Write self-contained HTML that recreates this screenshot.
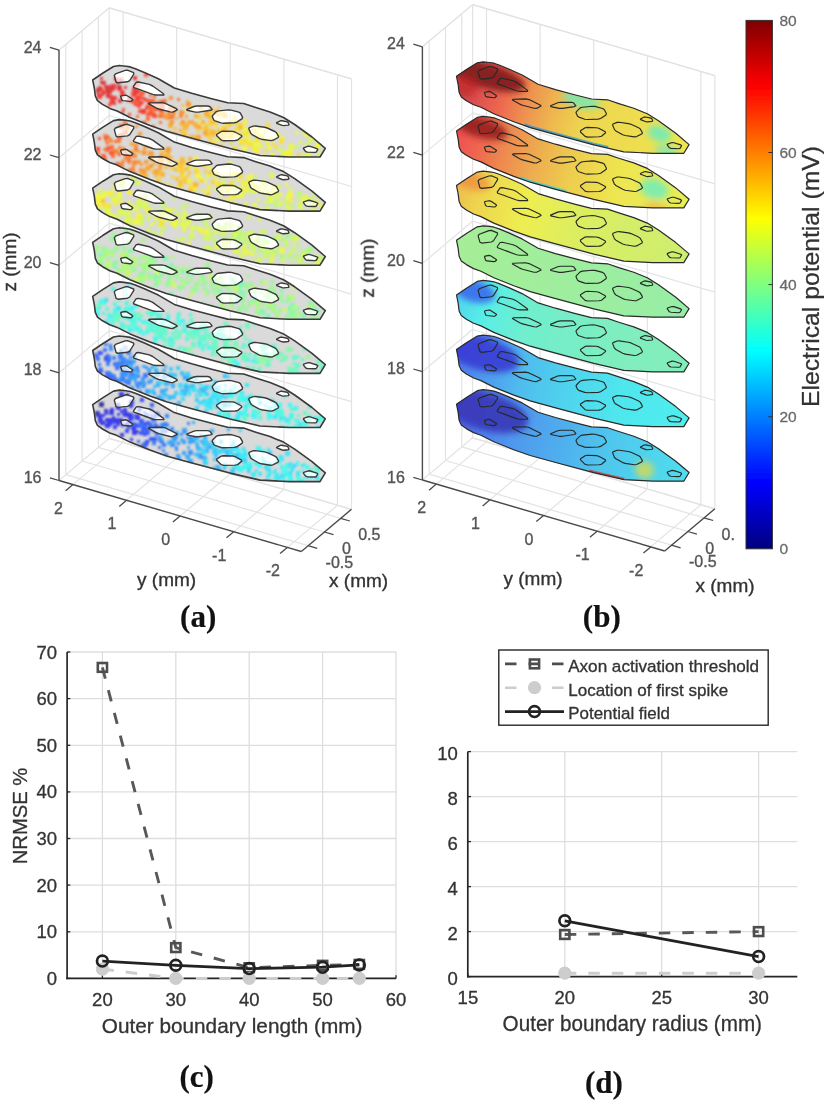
<!DOCTYPE html><html><head><meta charset="utf-8"><style>html,body{margin:0;padding:0;background:#fff;}svg{display:block}</style></head><body><svg width="825" height="1100" viewBox="0 0 825 1100">
<defs><filter id="blur3" x="-20%" y="-20%" width="140%" height="140%"><feGaussianBlur stdDeviation="3"/></filter><filter id="dotblur" x="-5%" y="-5%" width="110%" height="110%"><feGaussianBlur stdDeviation="0.8"/></filter><filter id="soft" x="-5%" y="-5%" width="110%" height="110%"><feGaussianBlur stdDeviation="0.5"/></filter></defs>
<rect width="825" height="1100" fill="#ffffff"/>
<g filter="url(#soft)">
<line x1="72.9" y1="484.6" x2="123.1" y2="442.4" stroke="#e3e3e3" stroke-width="1.2" />
<line x1="126.5" y1="500.3" x2="176.7" y2="458.1" stroke="#e3e3e3" stroke-width="1.2" />
<line x1="180.1" y1="516.0" x2="230.3" y2="473.8" stroke="#e3e3e3" stroke-width="1.2" />
<line x1="233.7" y1="531.7" x2="283.9" y2="489.5" stroke="#e3e3e3" stroke-width="1.2" />
<line x1="287.3" y1="547.4" x2="337.5" y2="505.2" stroke="#e3e3e3" stroke-width="1.2" />
<line x1="65.8" y1="474.7" x2="308.1" y2="545.7" stroke="#e3e3e3" stroke-width="1.2" />
<line x1="82.1" y1="461.0" x2="324.4" y2="532.0" stroke="#e3e3e3" stroke-width="1.2" />
<line x1="98.4" y1="447.3" x2="340.7" y2="518.3" stroke="#e3e3e3" stroke-width="1.2" />
<line x1="65.8" y1="474.7" x2="65.8" y2="44.3" stroke="#e3e3e3" stroke-width="1.2" />
<line x1="82.1" y1="461.0" x2="82.1" y2="30.6" stroke="#e3e3e3" stroke-width="1.2" />
<line x1="98.4" y1="447.3" x2="98.4" y2="16.9" stroke="#e3e3e3" stroke-width="1.2" />
<line x1="59.0" y1="480.5" x2="109.2" y2="438.3" stroke="#e3e3e3" stroke-width="1.2" />
<line x1="59.0" y1="372.9" x2="109.2" y2="330.7" stroke="#e3e3e3" stroke-width="1.2" />
<line x1="59.0" y1="265.3" x2="109.2" y2="223.1" stroke="#e3e3e3" stroke-width="1.2" />
<line x1="59.0" y1="157.7" x2="109.2" y2="115.5" stroke="#e3e3e3" stroke-width="1.2" />
<line x1="59.0" y1="50.1" x2="109.2" y2="7.9" stroke="#e3e3e3" stroke-width="1.2" />
<line x1="123.1" y1="442.4" x2="123.1" y2="12.0" stroke="#e3e3e3" stroke-width="1.2" />
<line x1="176.7" y1="458.1" x2="176.7" y2="27.7" stroke="#e3e3e3" stroke-width="1.2" />
<line x1="230.3" y1="473.8" x2="230.3" y2="43.4" stroke="#e3e3e3" stroke-width="1.2" />
<line x1="283.9" y1="489.5" x2="283.9" y2="59.1" stroke="#e3e3e3" stroke-width="1.2" />
<line x1="337.5" y1="505.2" x2="337.5" y2="74.8" stroke="#e3e3e3" stroke-width="1.2" />
<line x1="109.2" y1="438.3" x2="351.5" y2="509.3" stroke="#e3e3e3" stroke-width="1.2" />
<line x1="109.2" y1="330.7" x2="351.5" y2="401.7" stroke="#e3e3e3" stroke-width="1.2" />
<line x1="109.2" y1="223.1" x2="351.5" y2="294.1" stroke="#e3e3e3" stroke-width="1.2" />
<line x1="109.2" y1="115.5" x2="351.5" y2="186.5" stroke="#e3e3e3" stroke-width="1.2" />
<line x1="109.2" y1="7.9" x2="351.5" y2="78.9" stroke="#e3e3e3" stroke-width="1.2" />
<line x1="109.2" y1="438.3" x2="109.2" y2="7.9" stroke="#e3e3e3" stroke-width="1.2" />
<line x1="351.5" y1="509.3" x2="351.5" y2="78.9" stroke="#e3e3e3" stroke-width="1.2" />
<line x1="109.2" y1="438.3" x2="351.5" y2="509.3" stroke="#e3e3e3" stroke-width="1.2" />
<line x1="59.0" y1="50.1" x2="109.2" y2="7.9" stroke="#e3e3e3" stroke-width="1.2" />
<line x1="109.2" y1="7.9" x2="351.5" y2="78.9" stroke="#e3e3e3" stroke-width="1.2" />
<clipPath id="clipA6"><path d="M92.7,404.6 L103.0,397.6 L113.5,391.1 L119.3,390.1 L125.8,390.8 L130.2,391.5 L135.3,393.3 L145.0,397.3 L158.3,403.3 L174.3,412.6 L191.7,417.9 L211.7,423.3 L227.7,427.3 L243.7,428.1 L255.0,431.9 L270.0,436.6 L283.5,442.1 L294.7,449.1 L312.0,461.6 L325.3,472.9 L320.0,481.6 L289.0,481.6 L260.0,480.1 L230.0,473.1 L190.0,462.4 L166.4,455.9 L150.0,450.1 L130.0,442.1 L117.1,435.6 L109.8,433.0 L102.5,429.0 L97.5,425.3 L95.3,420.6 L94.3,412.6 Z"/></clipPath>
<path d="M92.7,404.6 L103.0,397.6 L113.5,391.1 L119.3,390.1 L125.8,390.8 L130.2,391.5 L135.3,393.3 L145.0,397.3 L158.3,403.3 L174.3,412.6 L191.7,417.9 L211.7,423.3 L227.7,427.3 L243.7,428.1 L255.0,431.9 L270.0,436.6 L283.5,442.1 L294.7,449.1 L312.0,461.6 L325.3,472.9 L320.0,481.6 L289.0,481.6 L260.0,480.1 L230.0,473.1 L190.0,462.4 L166.4,455.9 L150.0,450.1 L130.0,442.1 L117.1,435.6 L109.8,433.0 L102.5,429.0 L97.5,425.3 L95.3,420.6 L94.3,412.6 Z M114.3,400.1 L116.1,406.6 L117.9,407.4 L127.5,406.4 L129.7,405.2 L133.8,398.6 L133.6,397.2 L127.5,394.8 L125.1,395.0 L115.5,398.5 Z M133.4,411.1 L136.3,406.9 L138.5,406.6 L149.3,409.0 L152.7,410.6 L163.5,418.4 L163.9,419.6 L155.5,419.6 L152.7,419.0 L143.1,415.5 L140.6,414.5 L133.9,412.2 Z M121.2,420.5 L125.3,419.7 L126.8,420.1 L132.2,423.6 L132.8,424.3 L131.2,425.9 L129.9,426.0 L123.1,425.2 L121.8,424.6 L120.7,421.1 Z M149.4,427.5 L161.7,427.2 L165.3,427.9 L176.3,433.3 L177.3,434.4 L172.7,436.7 L170.2,436.5 L158.8,433.6 L155.9,432.4 L148.6,428.3 Z M186.8,434.1 L193.9,431.1 L196.7,430.6 L207.6,430.6 L209.7,431.1 L212.1,434.1 L210.6,434.9 L198.6,436.7 L195.4,436.7 L187.0,434.9 Z M212.6,440.0 L216.4,436.2 L218.6,435.5 L228.4,434.5 L231.2,434.7 L238.8,436.8 L240.4,437.8 L242.6,441.9 L242.2,443.2 L236.8,446.8 L234.3,447.4 L223.7,447.8 L221.0,447.5 L215.0,445.4 L213.8,444.6 L212.2,441.1 Z M276.6,447.3 L280.4,445.4 L281.8,445.3 L287.2,446.4 L288.1,447.0 L288.9,449.2 L288.3,449.7 L283.7,450.2 L282.2,450.0 L276.8,447.9 Z M249.2,452.3 L253.3,450.7 L255.4,450.6 L264.6,451.9 L267.2,452.6 L274.8,456.1 L276.4,457.2 L278.6,461.0 L278.2,462.1 L272.8,464.9 L270.6,465.2 L261.4,463.8 L258.9,463.0 L252.1,459.2 L250.7,457.9 L248.8,453.3 Z M216.7,459.1 L221.3,456.1 L223.4,455.7 L232.6,456.0 L235.0,456.6 L241.5,460.1 L241.8,461.1 L237.7,464.6 L235.2,465.1 L223.8,465.4 L221.3,464.7 L216.7,460.3 Z M303.7,472.4 L308.3,470.8 L310.1,471.0 L316.9,473.2 L317.8,474.0 L316.2,476.7 L314.8,477.0 L307.2,476.7 L305.6,476.1 L303.4,473.1 Z" fill="#dadada" fill-rule="evenodd"/>
<g clip-path="url(#clipA6)"><g filter="url(#dotblur)" opacity="0.8">
<path d="M99 402h5v5h-5z" fill="#141489"/>
<path d="M96 414h3v3h-3z" fill="#14149a"/>
<path d="M95 411h5v5h-5z" fill="#1414ac"/>
<path d="M101 421h4v4h-4z" fill="#1414bd"/>
<path d="M104 409h4v4h-4zM101 421h4v4h-4zM117 423h3v3h-3zM102 421h3v3h-3zM110 408h4v4h-4zM117 413h3v3h-3zM107 418h5v5h-5z" fill="#1414d0"/>
<path d="M112 418h4v4h-4zM116 421h3v3h-3zM112 416h3v3h-3zM129 404h4v4h-4zM98 414h4v4h-4zM136 430h3v3h-3zM124 412h5v5h-5zM116 406h4v4h-4zM105 412h3v3h-3zM119 392h5v5h-5zM132 423h5v5h-5zM114 421h3v3h-3zM128 413h5v5h-5zM105 418h4v4h-4zM120 433h4v4h-4zM110 421h3v3h-3zM100 421h4v4h-4z" fill="#1414e1"/>
<path d="M135 416h4v4h-4zM98 418h5v5h-5zM125 422h4v4h-4zM122 413h3v3h-3zM116 418h5v5h-5zM132 430h5v5h-5zM116 403h4v4h-4zM139 407h3v3h-3zM105 423h5v5h-5zM118 407h3v3h-3zM123 408h4v4h-4zM131 417h3v3h-3zM120 410h3v3h-3zM131 425h5v5h-5zM139 432h3v3h-3zM130 438h3v3h-3zM139 419h3v3h-3zM120 434h3v3h-3zM109 410h5v5h-5z" fill="#1414f3"/>
<path d="M108 422h4v4h-4zM126 393h3v3h-3zM135 423h3v3h-3zM102 414h3v3h-3zM117 420h3v3h-3zM131 424h3v3h-3zM139 445h3v3h-3zM126 412h3v3h-3zM137 416h3v3h-3zM108 419h3v3h-3zM132 422h4v4h-4zM118 418h5v5h-5zM113 425h4v4h-4zM145 440h4v4h-4zM133 423h4v4h-4z" fill="#1419ff"/>
<path d="M125 429h4v4h-4zM145 428h5v5h-5zM127 426h3v3h-3zM129 400h5v5h-5zM137 408h4v4h-4zM155 433h3v3h-3zM143 427h4v4h-4zM145 443h3v3h-3zM121 424h3v3h-3zM134 414h3v3h-3zM132 424h3v3h-3zM139 421h5v5h-5zM140 398h4v4h-4zM128 418h4v4h-4zM143 432h4v4h-4zM112 421h3v3h-3zM141 429h3v3h-3zM137 414h3v3h-3z" fill="#142bff"/>
<path d="M140 431h4v4h-4zM154 423h3v3h-3zM141 423h3v3h-3zM150 409h3v3h-3zM140 419h4v4h-4zM146 421h4v4h-4zM155 425h4v4h-4zM153 437h4v4h-4zM149 437h4v4h-4zM150 403h4v4h-4zM148 424h4v4h-4zM149 423h3v3h-3zM149 423h4v4h-4zM142 422h5v5h-5zM154 412h5v5h-5zM150 414h3v3h-3z" fill="#143cff"/>
<path d="M141 425h4v4h-4zM151 417h5v5h-5zM193 435h4v4h-4zM143 411h3v3h-3zM142 443h5v5h-5zM137 424h4v4h-4zM146 429h4v4h-4zM129 423h3v3h-3zM147 432h3v3h-3zM163 429h3v3h-3zM161 426h4v4h-4zM137 440h3v3h-3zM157 414h3v3h-3zM143 442h4v4h-4zM152 441h4v4h-4zM132 422h4v4h-4z" fill="#144eff"/>
<path d="M153 430h3v3h-3zM164 429h4v4h-4zM158 446h3v3h-3zM175 448h3v3h-3zM162 443h4v4h-4zM158 436h3v3h-3zM145 413h4v4h-4zM151 419h3v3h-3zM140 423h3v3h-3zM160 426h5v5h-5zM151 428h3v3h-3z" fill="#145fff"/>
<path d="M187 422h3v3h-3zM165 423h4v4h-4zM180 433h3v3h-3zM163 429h3v3h-3zM161 440h3v3h-3zM160 423h4v4h-4zM177 442h3v3h-3zM184 431h3v3h-3zM164 453h4v4h-4zM155 431h4v4h-4zM152 441h3v3h-3zM175 436h3v3h-3zM170 427h4v4h-4zM160 440h4v4h-4zM158 439h3v3h-3zM189 436h3v3h-3zM198 453h4v4h-4zM163 422h4v4h-4zM165 414h4v4h-4z" fill="#1471ff"/>
<path d="M175 446h3v3h-3zM162 449h3v3h-3zM196 446h4v4h-4zM192 440h3v3h-3zM188 450h5v5h-5zM151 425h4v4h-4zM182 440h4v4h-4zM199 434h3v3h-3zM190 451h3v3h-3zM188 440h4v4h-4zM172 436h5v5h-5zM192 437h3v3h-3zM182 428h5v5h-5zM160 431h4v4h-4zM161 427h4v4h-4zM199 455h4v4h-4zM170 442h5v5h-5z" fill="#1483ff"/>
<path d="M190 459h3v3h-3zM182 451h4v4h-4zM169 440h4v4h-4zM189 438h4v4h-4zM186 455h4v4h-4zM188 460h5v5h-5zM200 440h3v3h-3zM208 445h4v4h-4zM226 454h3v3h-3zM176 454h4v4h-4zM177 456h4v4h-4zM203 435h4v4h-4z" fill="#1495ff"/>
<path d="M203 456h4v4h-4zM215 458h3v3h-3zM197 455h3v3h-3zM203 442h5v5h-5zM183 428h3v3h-3zM216 465h4v4h-4zM160 437h3v3h-3zM174 431h5v5h-5zM185 455h3v3h-3zM194 453h3v3h-3zM202 440h4v4h-4zM205 449h4v4h-4zM181 438h3v3h-3zM187 457h3v3h-3zM167 441h4v4h-4zM180 438h4v4h-4zM186 436h3v3h-3zM210 429h4v4h-4zM227 428h3v3h-3zM187 446h3v3h-3zM192 421h3v3h-3z" fill="#14a6ff"/>
<path d="M213 447h3v3h-3zM235 462h3v3h-3zM174 440h3v3h-3zM211 441h3v3h-3zM193 437h3v3h-3zM217 450h4v4h-4zM197 447h4v4h-4zM214 453h4v4h-4zM206 446h3v3h-3zM205 447h4v4h-4zM218 469h4v4h-4zM202 442h4v4h-4zM235 453h5v5h-5zM203 438h4v4h-4zM236 447h3v3h-3zM239 455h4v4h-4zM206 442h4v4h-4zM195 437h4v4h-4zM225 450h4v4h-4zM212 440h4v4h-4zM221 448h4v4h-4zM216 467h5v5h-5zM237 453h4v4h-4zM244 464h4v4h-4zM242 458h5v5h-5zM195 442h4v4h-4z" fill="#14b8ff"/>
<path d="M228 449h3v3h-3zM196 452h3v3h-3zM287 464h3v3h-3zM204 439h4v4h-4zM212 449h5v5h-5zM203 460h5v5h-5zM247 470h3v3h-3zM223 467h3v3h-3zM235 455h5v5h-5zM232 443h3v3h-3zM230 469h5v5h-5zM221 446h3v3h-3zM213 466h3v3h-3zM213 458h3v3h-3zM225 448h3v3h-3zM201 448h3v3h-3zM235 466h3v3h-3zM216 448h3v3h-3zM219 440h4v4h-4zM268 451h4v4h-4zM282 479h3v3h-3zM232 454h3v3h-3z" fill="#14c9ff"/>
<path d="M201 450h5v5h-5zM232 453h3v3h-3zM287 472h5v5h-5zM265 479h5v5h-5zM243 460h3v3h-3zM264 465h4v4h-4zM232 466h3v3h-3zM274 477h3v3h-3zM221 449h4v4h-4zM237 466h4v4h-4zM315 474h3v3h-3zM204 444h3v3h-3zM229 451h3v3h-3zM279 455h3v3h-3zM242 465h3v3h-3zM270 480h3v3h-3zM255 462h4v4h-4zM228 450h5v5h-5zM245 463h5v5h-5zM239 429h3v3h-3zM301 464h3v3h-3zM252 474h3v3h-3zM280 474h5v5h-5zM287 464h4v4h-4zM307 482h3v3h-3zM234 448h3v3h-3zM266 468h5v5h-5zM223 463h4v4h-4zM232 440h3v3h-3zM254 461h4v4h-4zM230 445h5v5h-5zM240 458h3v3h-3zM216 450h4v4h-4zM235 446h4v4h-4zM242 447h3v3h-3zM292 464h4v4h-4z" fill="#14dbff"/>
<path d="M247 465h5v5h-5zM273 471h3v3h-3zM244 453h4v4h-4zM305 476h3v3h-3zM258 472h4v4h-4zM268 474h3v3h-3zM251 472h5v5h-5zM239 453h5v5h-5zM255 469h3v3h-3zM266 462h5v5h-5zM242 456h3v3h-3zM285 473h3v3h-3zM205 459h3v3h-3zM266 475h3v3h-3zM315 476h4v4h-4zM299 480h4v4h-4zM280 457h4v4h-4zM309 470h3v3h-3zM235 463h3v3h-3zM243 450h4v4h-4zM274 469h3v3h-3zM276 477h4v4h-4zM285 451h5v5h-5zM275 473h4v4h-4zM285 463h5v5h-5zM283 470h3v3h-3zM267 448h3v3h-3zM289 462h3v3h-3zM296 471h4v4h-4zM262 459h4v4h-4zM212 444h4v4h-4zM269 471h3v3h-3zM290 468h4v4h-4zM296 473h4v4h-4z" fill="#14ecff"/>
<path d="M280 465h4v4h-4zM242 466h4v4h-4zM275 459h4v4h-4zM296 461h3v3h-3zM248 462h4v4h-4zM282 479h4v4h-4zM309 475h4v4h-4zM305 465h4v4h-4zM288 474h3v3h-3zM268 463h4v4h-4zM282 476h3v3h-3zM286 473h3v3h-3zM244 463h3v3h-3zM286 471h3v3h-3zM273 476h3v3h-3zM235 464h4v4h-4zM254 461h3v3h-3zM249 455h4v4h-4zM288 477h5v5h-5zM296 463h3v3h-3zM237 449h4v4h-4zM281 470h3v3h-3zM258 464h4v4h-4zM285 466h3v3h-3zM256 446h5v5h-5zM277 458h4v4h-4zM255 463h3v3h-3zM238 467h5v5h-5z" fill="#14ffff"/>
<path d="M283 468h5v5h-5zM298 480h4v4h-4zM294 481h3v3h-3zM303 463h3v3h-3zM305 472h3v3h-3zM286 474h3v3h-3zM300 478h4v4h-4zM319 478h4v4h-4zM296 476h4v4h-4zM305 473h3v3h-3zM314 465h3v3h-3zM278 461h3v3h-3zM252 455h3v3h-3zM246 464h3v3h-3zM261 456h3v3h-3zM261 449h4v4h-4z" fill="#25ffec"/>
<path d="M315 468h5v5h-5zM300 481h5v5h-5zM301 469h3v3h-3zM309 468h4v4h-4zM285 463h3v3h-3z" fill="#37ffdb"/>
<path d="M266 471h3v3h-3z" fill="#48ffc9"/>
</g></g>
<path d="M114.3,400.1 L116.1,406.6 L117.9,407.4 L127.5,406.4 L129.7,405.2 L133.8,398.6 L133.6,397.2 L127.5,394.8 L125.1,395.0 L115.5,398.5 Z M133.4,411.1 L136.3,406.9 L138.5,406.6 L149.3,409.0 L152.7,410.6 L163.5,418.4 L163.9,419.6 L155.5,419.6 L152.7,419.0 L143.1,415.5 L140.6,414.5 L133.9,412.2 Z M121.2,420.5 L125.3,419.7 L126.8,420.1 L132.2,423.6 L132.8,424.3 L131.2,425.9 L129.9,426.0 L123.1,425.2 L121.8,424.6 L120.7,421.1 Z M149.4,427.5 L161.7,427.2 L165.3,427.9 L176.3,433.3 L177.3,434.4 L172.7,436.7 L170.2,436.5 L158.8,433.6 L155.9,432.4 L148.6,428.3 Z M186.8,434.1 L193.9,431.1 L196.7,430.6 L207.6,430.6 L209.7,431.1 L212.1,434.1 L210.6,434.9 L198.6,436.7 L195.4,436.7 L187.0,434.9 Z M212.6,440.0 L216.4,436.2 L218.6,435.5 L228.4,434.5 L231.2,434.7 L238.8,436.8 L240.4,437.8 L242.6,441.9 L242.2,443.2 L236.8,446.8 L234.3,447.4 L223.7,447.8 L221.0,447.5 L215.0,445.4 L213.8,444.6 L212.2,441.1 Z M276.6,447.3 L280.4,445.4 L281.8,445.3 L287.2,446.4 L288.1,447.0 L288.9,449.2 L288.3,449.7 L283.7,450.2 L282.2,450.0 L276.8,447.9 Z M249.2,452.3 L253.3,450.7 L255.4,450.6 L264.6,451.9 L267.2,452.6 L274.8,456.1 L276.4,457.2 L278.6,461.0 L278.2,462.1 L272.8,464.9 L270.6,465.2 L261.4,463.8 L258.9,463.0 L252.1,459.2 L250.7,457.9 L248.8,453.3 Z M216.7,459.1 L221.3,456.1 L223.4,455.7 L232.6,456.0 L235.0,456.6 L241.5,460.1 L241.8,461.1 L237.7,464.6 L235.2,465.1 L223.8,465.4 L221.3,464.7 L216.7,460.3 Z M303.7,472.4 L308.3,470.8 L310.1,471.0 L316.9,473.2 L317.8,474.0 L316.2,476.7 L314.8,477.0 L307.2,476.7 L305.6,476.1 L303.4,473.1 Z" fill="#ffffff" fill-opacity="0.65" stroke="#3a3a3a" stroke-width="1.4" stroke-linejoin="round"/>
<path d="M92.7,404.6 L103.0,397.6 L113.5,391.1 L119.3,390.1 L125.8,390.8 L130.2,391.5 L135.3,393.3 L145.0,397.3 L158.3,403.3 L174.3,412.6 L191.7,417.9 L211.7,423.3 L227.7,427.3 L243.7,428.1 L255.0,431.9 L270.0,436.6 L283.5,442.1 L294.7,449.1 L312.0,461.6 L325.3,472.9 L320.0,481.6 L289.0,481.6 L260.0,480.1 L230.0,473.1 L190.0,462.4 L166.4,455.9 L150.0,450.1 L130.0,442.1 L117.1,435.6 L109.8,433.0 L102.5,429.0 L97.5,425.3 L95.3,420.6 L94.3,412.6 Z" fill="none" stroke="#3a3a3a" stroke-width="1.6" stroke-linejoin="round"/>
<clipPath id="clipA5"><path d="M92.7,350.5 L103.0,343.5 L113.5,337.0 L119.3,336.0 L125.8,336.7 L130.2,337.4 L135.3,339.2 L145.0,343.2 L158.3,349.2 L174.3,358.5 L191.7,363.8 L211.7,369.2 L227.7,373.2 L243.7,374.0 L255.0,377.8 L270.0,382.5 L283.5,388.0 L294.7,395.0 L312.0,407.5 L325.3,418.8 L320.0,427.5 L289.0,427.5 L260.0,426.0 L230.0,419.0 L190.0,408.3 L166.4,401.8 L150.0,396.0 L130.0,388.0 L117.1,381.5 L109.8,378.9 L102.5,374.9 L97.5,371.2 L95.3,366.5 L94.3,358.5 Z"/></clipPath>
<path d="M92.7,350.5 L103.0,343.5 L113.5,337.0 L119.3,336.0 L125.8,336.7 L130.2,337.4 L135.3,339.2 L145.0,343.2 L158.3,349.2 L174.3,358.5 L191.7,363.8 L211.7,369.2 L227.7,373.2 L243.7,374.0 L255.0,377.8 L270.0,382.5 L283.5,388.0 L294.7,395.0 L312.0,407.5 L325.3,418.8 L320.0,427.5 L289.0,427.5 L260.0,426.0 L230.0,419.0 L190.0,408.3 L166.4,401.8 L150.0,396.0 L130.0,388.0 L117.1,381.5 L109.8,378.9 L102.5,374.9 L97.5,371.2 L95.3,366.5 L94.3,358.5 Z M114.3,346.0 L116.1,352.5 L117.9,353.3 L127.5,352.3 L129.7,351.1 L133.8,344.5 L133.6,343.1 L127.5,340.7 L125.1,340.9 L115.5,344.4 Z M133.4,357.0 L136.3,352.8 L138.5,352.5 L149.3,354.9 L152.7,356.5 L163.5,364.3 L163.9,365.5 L155.5,365.5 L152.7,364.9 L143.1,361.4 L140.6,360.4 L133.9,358.1 Z M121.2,366.4 L125.3,365.6 L126.8,366.0 L132.2,369.5 L132.8,370.2 L131.2,371.8 L129.9,371.9 L123.1,371.1 L121.8,370.5 L120.7,367.0 Z M149.4,373.4 L161.7,373.1 L165.3,373.8 L176.3,379.2 L177.3,380.3 L172.7,382.6 L170.2,382.4 L158.8,379.5 L155.9,378.3 L148.6,374.2 Z M186.8,380.0 L193.9,377.0 L196.7,376.5 L207.6,376.5 L209.7,377.0 L212.1,380.0 L210.6,380.8 L198.6,382.6 L195.4,382.6 L187.0,380.8 Z M212.6,385.9 L216.4,382.1 L218.6,381.4 L228.4,380.4 L231.2,380.6 L238.8,382.7 L240.4,383.7 L242.6,387.8 L242.2,389.1 L236.8,392.7 L234.3,393.3 L223.7,393.7 L221.0,393.4 L215.0,391.3 L213.8,390.5 L212.2,387.0 Z M276.6,393.2 L280.4,391.3 L281.8,391.2 L287.2,392.3 L288.1,392.9 L288.9,395.1 L288.3,395.6 L283.7,396.1 L282.2,395.9 L276.8,393.8 Z M249.2,398.2 L253.3,396.6 L255.4,396.5 L264.6,397.8 L267.2,398.5 L274.8,402.0 L276.4,403.1 L278.6,406.9 L278.2,408.0 L272.8,410.8 L270.6,411.1 L261.4,409.7 L258.9,408.9 L252.1,405.1 L250.7,403.8 L248.8,399.2 Z M216.7,405.0 L221.3,402.0 L223.4,401.6 L232.6,401.9 L235.0,402.5 L241.5,406.0 L241.8,407.0 L237.7,410.5 L235.2,411.0 L223.8,411.3 L221.3,410.6 L216.7,406.2 Z M303.7,418.3 L308.3,416.7 L310.1,416.9 L316.9,419.1 L317.8,419.9 L316.2,422.6 L314.8,422.9 L307.2,422.6 L305.6,422.0 L303.4,419.0 Z" fill="#dadada" fill-rule="evenodd"/>
<g clip-path="url(#clipA5)"><g filter="url(#dotblur)" opacity="0.8">
<path d="M104 356h5v5h-5zM98 351h4v4h-4z" fill="#1414f3"/>
<path d="M114 378h4v4h-4z" fill="#1419ff"/>
<path d="M111 374h4v4h-4zM118 363h4v4h-4zM107 360h3v3h-3zM98 368h5v5h-5zM106 354h3v3h-3z" fill="#142bff"/>
<path d="M107 376h4v4h-4zM100 352h3v3h-3zM119 361h5v5h-5zM104 343h3v3h-3zM94 353h3v3h-3z" fill="#143cff"/>
<path d="M106 357h5v5h-5zM112 377h3v3h-3zM113 362h4v4h-4zM105 375h4v4h-4zM110 377h3v3h-3zM118 352h5v5h-5zM122 371h3v3h-3zM98 363h3v3h-3zM136 374h4v4h-4zM120 374h4v4h-4zM95 355h4v4h-4zM115 366h4v4h-4z" fill="#144eff"/>
<path d="M132 375h4v4h-4zM117 378h5v5h-5zM125 364h3v3h-3zM109 344h3v3h-3zM126 380h5v5h-5zM103 348h4v4h-4zM96 357h4v4h-4zM105 371h5v5h-5zM120 378h3v3h-3zM125 369h4v4h-4zM127 360h4v4h-4zM116 365h4v4h-4zM121 368h4v4h-4zM122 377h3v3h-3zM115 364h3v3h-3zM119 356h3v3h-3zM110 374h4v4h-4zM109 372h3v3h-3zM143 373h5v5h-5zM112 375h4v4h-4z" fill="#145fff"/>
<path d="M112 356h4v4h-4zM123 379h4v4h-4zM128 376h3v3h-3zM118 378h4v4h-4zM139 390h3v3h-3zM117 361h4v4h-4zM125 379h5v5h-5zM126 350h5v5h-5zM122 368h3v3h-3zM119 363h4v4h-4zM99 367h3v3h-3zM106 362h4v4h-4zM135 383h3v3h-3zM121 357h5v5h-5zM138 381h4v4h-4zM118 356h4v4h-4zM129 371h5v5h-5zM135 366h4v4h-4zM105 343h3v3h-3zM116 363h3v3h-3zM119 349h4v4h-4zM108 355h3v3h-3zM129 356h3v3h-3z" fill="#1471ff"/>
<path d="M148 370h3v3h-3zM124 373h4v4h-4zM171 384h4v4h-4zM124 346h3v3h-3zM148 371h3v3h-3zM141 382h5v5h-5zM136 385h4v4h-4zM167 373h5v5h-5zM127 361h3v3h-3zM153 392h3v3h-3zM155 372h3v3h-3zM128 377h4v4h-4zM120 372h5v5h-5zM133 355h4v4h-4zM163 369h3v3h-3zM131 360h4v4h-4zM124 359h5v5h-5zM109 347h4v4h-4zM184 384h3v3h-3zM121 366h5v5h-5zM145 366h3v3h-3zM141 377h4v4h-4zM130 386h4v4h-4zM141 384h4v4h-4zM137 370h3v3h-3z" fill="#1483ff"/>
<path d="M147 380h4v4h-4zM134 380h3v3h-3zM136 374h3v3h-3zM157 374h3v3h-3zM147 368h4v4h-4zM168 380h4v4h-4zM141 382h4v4h-4zM165 388h3v3h-3zM129 364h4v4h-4zM149 379h4v4h-4zM155 397h4v4h-4zM130 376h4v4h-4zM119 351h4v4h-4zM133 368h3v3h-3zM134 373h4v4h-4zM160 389h5v5h-5zM163 391h3v3h-3zM151 365h4v4h-4zM134 377h3v3h-3zM155 372h5v5h-5zM133 360h3v3h-3zM133 368h4v4h-4zM117 378h3v3h-3zM183 375h5v5h-5zM153 375h4v4h-4zM145 389h5v5h-5zM156 383h4v4h-4zM142 365h3v3h-3zM130 367h3v3h-3zM141 379h4v4h-4z" fill="#1495ff"/>
<path d="M164 365h3v3h-3zM162 374h4v4h-4zM177 401h4v4h-4zM154 368h4v4h-4zM221 403h5v5h-5zM157 395h5v5h-5zM160 398h5v5h-5zM164 381h5v5h-5zM128 364h4v4h-4zM162 369h3v3h-3zM171 383h4v4h-4z" fill="#14a6ff"/>
<path d="M190 384h5v5h-5zM167 380h4v4h-4zM199 387h4v4h-4zM165 380h5v5h-5zM183 392h4v4h-4zM180 389h4v4h-4zM167 395h5v5h-5zM163 378h3v3h-3zM223 374h4v4h-4zM201 388h5v5h-5zM160 397h3v3h-3zM156 381h4v4h-4zM163 393h4v4h-4zM172 395h4v4h-4zM151 389h4v4h-4zM182 389h3v3h-3zM187 385h4v4h-4zM202 400h3v3h-3zM167 374h3v3h-3zM181 373h3v3h-3zM153 385h3v3h-3zM180 371h4v4h-4zM205 385h5v5h-5zM184 387h5v5h-5zM162 391h4v4h-4z" fill="#14b8ff"/>
<path d="M216 398h4v4h-4zM174 403h5v5h-5zM192 388h4v4h-4zM169 367h4v4h-4zM193 380h3v3h-3zM205 403h4v4h-4zM188 376h4v4h-4zM149 390h4v4h-4zM236 402h4v4h-4zM205 392h4v4h-4zM242 396h3v3h-3zM188 391h3v3h-3zM185 372h5v5h-5zM168 375h3v3h-3zM197 390h3v3h-3zM224 396h3v3h-3zM242 398h4v4h-4zM216 387h4v4h-4zM172 373h5v5h-5zM174 391h4v4h-4zM188 387h3v3h-3zM203 399h4v4h-4zM221 395h3v3h-3zM176 366h4v4h-4zM199 393h4v4h-4zM213 385h4v4h-4zM195 398h4v4h-4zM152 374h4v4h-4zM212 387h5v5h-5zM226 403h4v4h-4z" fill="#14c9ff"/>
<path d="M189 387h3v3h-3zM208 402h4v4h-4zM316 426h4v4h-4zM258 401h4v4h-4zM182 398h3v3h-3zM276 408h4v4h-4zM181 397h3v3h-3zM178 383h4v4h-4zM268 415h3v3h-3zM198 381h4v4h-4zM283 416h3v3h-3zM204 401h5v5h-5zM195 406h4v4h-4zM195 394h3v3h-3zM258 410h3v3h-3zM280 411h4v4h-4zM216 400h4v4h-4zM194 377h4v4h-4zM247 399h3v3h-3zM198 401h4v4h-4zM159 381h4v4h-4zM178 383h5v5h-5zM213 380h4v4h-4zM224 384h3v3h-3zM227 375h3v3h-3zM216 391h3v3h-3zM270 399h4v4h-4zM322 422h5v5h-5zM153 366h3v3h-3zM244 415h3v3h-3zM252 414h4v4h-4zM247 396h4v4h-4zM226 415h3v3h-3zM253 424h3v3h-3zM224 414h5v5h-5zM279 414h5v5h-5zM273 415h4v4h-4zM211 385h4v4h-4zM215 405h4v4h-4zM204 409h4v4h-4zM226 412h4v4h-4zM211 394h5v5h-5zM208 397h5v5h-5z" fill="#14dbff"/>
<path d="M245 383h4v4h-4zM237 411h5v5h-5zM236 419h4v4h-4zM274 402h3v3h-3zM246 414h3v3h-3zM269 406h3v3h-3zM179 392h4v4h-4zM207 405h4v4h-4zM269 415h3v3h-3zM188 393h3v3h-3zM211 401h4v4h-4zM244 404h4v4h-4zM308 427h3v3h-3zM286 426h4v4h-4zM264 404h3v3h-3zM235 415h5v5h-5zM221 391h3v3h-3zM185 382h3v3h-3zM291 415h3v3h-3zM229 389h4v4h-4zM285 418h5v5h-5zM239 391h5v5h-5zM209 406h4v4h-4zM212 397h3v3h-3zM218 385h3v3h-3zM298 422h5v5h-5zM217 412h4v4h-4zM222 390h3v3h-3zM193 387h4v4h-4zM212 391h4v4h-4zM226 394h4v4h-4zM216 393h4v4h-4zM283 418h3v3h-3zM193 379h4v4h-4zM202 385h3v3h-3zM234 392h3v3h-3zM203 401h5v5h-5zM303 422h3v3h-3zM205 400h3v3h-3zM243 410h4v4h-4zM207 386h3v3h-3zM239 397h4v4h-4zM217 394h4v4h-4zM267 407h4v4h-4z" fill="#14ecff"/>
<path d="M244 407h4v4h-4zM315 417h4v4h-4zM277 403h4v4h-4zM267 413h4v4h-4zM275 408h3v3h-3zM220 408h4v4h-4zM316 420h3v3h-3zM275 413h4v4h-4zM278 403h4v4h-4zM275 403h3v3h-3zM229 389h3v3h-3zM229 402h4v4h-4zM243 397h4v4h-4zM250 401h3v3h-3zM252 414h5v5h-5zM303 421h5v5h-5zM242 416h5v5h-5zM279 403h3v3h-3zM241 398h4v4h-4zM288 403h4v4h-4zM291 426h4v4h-4zM274 408h5v5h-5zM244 413h3v3h-3zM290 415h4v4h-4zM257 396h4v4h-4zM219 414h4v4h-4zM232 418h4v4h-4zM271 415h3v3h-3zM239 393h5v5h-5zM229 393h5v5h-5zM294 406h4v4h-4zM226 416h5v5h-5zM292 427h4v4h-4zM251 413h4v4h-4zM283 417h3v3h-3zM219 398h3v3h-3z" fill="#14ffff"/>
<path d="M318 419h3v3h-3zM267 416h4v4h-4zM278 409h5v5h-5zM283 395h3v3h-3zM279 419h3v3h-3zM237 396h5v5h-5zM233 387h3v3h-3zM239 394h4v4h-4zM241 411h5v5h-5zM289 413h5v5h-5zM282 425h3v3h-3zM221 405h3v3h-3zM269 409h3v3h-3zM273 405h3v3h-3zM296 419h4v4h-4zM252 409h4v4h-4zM313 416h4v4h-4zM249 394h4v4h-4zM292 408h3v3h-3zM294 419h3v3h-3zM242 394h3v3h-3zM224 389h3v3h-3zM308 406h3v3h-3zM276 412h4v4h-4zM247 401h4v4h-4zM233 385h3v3h-3zM201 393h4v4h-4z" fill="#25ffec"/>
<path d="M256 410h5v5h-5zM302 423h3v3h-3zM277 408h5v5h-5zM249 404h4v4h-4zM321 416h5v5h-5zM303 427h4v4h-4zM287 420h4v4h-4zM280 425h3v3h-3zM294 424h4v4h-4zM318 415h4v4h-4zM290 407h4v4h-4zM279 412h5v5h-5zM258 416h4v4h-4zM223 412h5v5h-5zM306 418h5v5h-5z" fill="#37ffdb"/>
<path d="M242 416h5v5h-5zM266 409h4v4h-4zM307 414h4v4h-4zM314 427h3v3h-3zM297 414h3v3h-3z" fill="#48ffc9"/>
<path d="M303 411h4v4h-4z" fill="#5affb8"/>
</g></g>
<path d="M114.3,346.0 L116.1,352.5 L117.9,353.3 L127.5,352.3 L129.7,351.1 L133.8,344.5 L133.6,343.1 L127.5,340.7 L125.1,340.9 L115.5,344.4 Z M133.4,357.0 L136.3,352.8 L138.5,352.5 L149.3,354.9 L152.7,356.5 L163.5,364.3 L163.9,365.5 L155.5,365.5 L152.7,364.9 L143.1,361.4 L140.6,360.4 L133.9,358.1 Z M121.2,366.4 L125.3,365.6 L126.8,366.0 L132.2,369.5 L132.8,370.2 L131.2,371.8 L129.9,371.9 L123.1,371.1 L121.8,370.5 L120.7,367.0 Z M149.4,373.4 L161.7,373.1 L165.3,373.8 L176.3,379.2 L177.3,380.3 L172.7,382.6 L170.2,382.4 L158.8,379.5 L155.9,378.3 L148.6,374.2 Z M186.8,380.0 L193.9,377.0 L196.7,376.5 L207.6,376.5 L209.7,377.0 L212.1,380.0 L210.6,380.8 L198.6,382.6 L195.4,382.6 L187.0,380.8 Z M212.6,385.9 L216.4,382.1 L218.6,381.4 L228.4,380.4 L231.2,380.6 L238.8,382.7 L240.4,383.7 L242.6,387.8 L242.2,389.1 L236.8,392.7 L234.3,393.3 L223.7,393.7 L221.0,393.4 L215.0,391.3 L213.8,390.5 L212.2,387.0 Z M276.6,393.2 L280.4,391.3 L281.8,391.2 L287.2,392.3 L288.1,392.9 L288.9,395.1 L288.3,395.6 L283.7,396.1 L282.2,395.9 L276.8,393.8 Z M249.2,398.2 L253.3,396.6 L255.4,396.5 L264.6,397.8 L267.2,398.5 L274.8,402.0 L276.4,403.1 L278.6,406.9 L278.2,408.0 L272.8,410.8 L270.6,411.1 L261.4,409.7 L258.9,408.9 L252.1,405.1 L250.7,403.8 L248.8,399.2 Z M216.7,405.0 L221.3,402.0 L223.4,401.6 L232.6,401.9 L235.0,402.5 L241.5,406.0 L241.8,407.0 L237.7,410.5 L235.2,411.0 L223.8,411.3 L221.3,410.6 L216.7,406.2 Z M303.7,418.3 L308.3,416.7 L310.1,416.9 L316.9,419.1 L317.8,419.9 L316.2,422.6 L314.8,422.9 L307.2,422.6 L305.6,422.0 L303.4,419.0 Z" fill="#ffffff" fill-opacity="0.65" stroke="#3a3a3a" stroke-width="1.4" stroke-linejoin="round"/>
<path d="M92.7,350.5 L103.0,343.5 L113.5,337.0 L119.3,336.0 L125.8,336.7 L130.2,337.4 L135.3,339.2 L145.0,343.2 L158.3,349.2 L174.3,358.5 L191.7,363.8 L211.7,369.2 L227.7,373.2 L243.7,374.0 L255.0,377.8 L270.0,382.5 L283.5,388.0 L294.7,395.0 L312.0,407.5 L325.3,418.8 L320.0,427.5 L289.0,427.5 L260.0,426.0 L230.0,419.0 L190.0,408.3 L166.4,401.8 L150.0,396.0 L130.0,388.0 L117.1,381.5 L109.8,378.9 L102.5,374.9 L97.5,371.2 L95.3,366.5 L94.3,358.5 Z" fill="none" stroke="#3a3a3a" stroke-width="1.6" stroke-linejoin="round"/>
<clipPath id="clipA4"><path d="M92.7,296.4 L103.0,289.4 L113.5,282.9 L119.3,281.9 L125.8,282.6 L130.2,283.3 L135.3,285.1 L145.0,289.1 L158.3,295.1 L174.3,304.4 L191.7,309.7 L211.7,315.1 L227.7,319.1 L243.7,319.9 L255.0,323.7 L270.0,328.4 L283.5,333.9 L294.7,340.9 L312.0,353.4 L325.3,364.7 L320.0,373.4 L289.0,373.4 L260.0,371.9 L230.0,364.9 L190.0,354.2 L166.4,347.7 L150.0,341.9 L130.0,333.9 L117.1,327.4 L109.8,324.8 L102.5,320.8 L97.5,317.1 L95.3,312.4 L94.3,304.4 Z"/></clipPath>
<path d="M92.7,296.4 L103.0,289.4 L113.5,282.9 L119.3,281.9 L125.8,282.6 L130.2,283.3 L135.3,285.1 L145.0,289.1 L158.3,295.1 L174.3,304.4 L191.7,309.7 L211.7,315.1 L227.7,319.1 L243.7,319.9 L255.0,323.7 L270.0,328.4 L283.5,333.9 L294.7,340.9 L312.0,353.4 L325.3,364.7 L320.0,373.4 L289.0,373.4 L260.0,371.9 L230.0,364.9 L190.0,354.2 L166.4,347.7 L150.0,341.9 L130.0,333.9 L117.1,327.4 L109.8,324.8 L102.5,320.8 L97.5,317.1 L95.3,312.4 L94.3,304.4 Z M114.3,291.9 L116.1,298.4 L117.9,299.2 L127.5,298.2 L129.7,297.0 L133.8,290.4 L133.6,289.0 L127.5,286.6 L125.1,286.8 L115.5,290.3 Z M133.4,302.9 L136.3,298.7 L138.5,298.4 L149.3,300.8 L152.7,302.4 L163.5,310.2 L163.9,311.4 L155.5,311.4 L152.7,310.8 L143.1,307.3 L140.6,306.3 L133.9,304.0 Z M121.2,312.3 L125.3,311.5 L126.8,311.9 L132.2,315.4 L132.8,316.1 L131.2,317.7 L129.9,317.8 L123.1,317.0 L121.8,316.4 L120.7,312.9 Z M149.4,319.3 L161.7,319.0 L165.3,319.7 L176.3,325.1 L177.3,326.2 L172.7,328.5 L170.2,328.3 L158.8,325.4 L155.9,324.2 L148.6,320.1 Z M186.8,325.9 L193.9,322.9 L196.7,322.4 L207.6,322.4 L209.7,322.9 L212.1,325.9 L210.6,326.7 L198.6,328.5 L195.4,328.5 L187.0,326.7 Z M212.6,331.8 L216.4,328.0 L218.6,327.3 L228.4,326.3 L231.2,326.5 L238.8,328.6 L240.4,329.6 L242.6,333.7 L242.2,335.0 L236.8,338.6 L234.3,339.2 L223.7,339.6 L221.0,339.3 L215.0,337.2 L213.8,336.4 L212.2,332.9 Z M276.6,339.1 L280.4,337.2 L281.8,337.1 L287.2,338.2 L288.1,338.8 L288.9,341.0 L288.3,341.5 L283.7,342.0 L282.2,341.8 L276.8,339.7 Z M249.2,344.1 L253.3,342.5 L255.4,342.4 L264.6,343.7 L267.2,344.4 L274.8,347.9 L276.4,349.0 L278.6,352.8 L278.2,353.9 L272.8,356.7 L270.6,357.0 L261.4,355.6 L258.9,354.8 L252.1,351.0 L250.7,349.7 L248.8,345.1 Z M216.7,350.9 L221.3,347.9 L223.4,347.5 L232.6,347.8 L235.0,348.4 L241.5,351.9 L241.8,352.9 L237.7,356.4 L235.2,356.9 L223.8,357.2 L221.3,356.5 L216.7,352.1 Z M303.7,364.2 L308.3,362.6 L310.1,362.8 L316.9,365.0 L317.8,365.8 L316.2,368.5 L314.8,368.8 L307.2,368.5 L305.6,367.9 L303.4,364.9 Z" fill="#dadada" fill-rule="evenodd"/>
<g clip-path="url(#clipA4)"><g filter="url(#dotblur)" opacity="0.8">
<path d="M97 305h4v4h-4z" fill="#14c9ff"/>
<path d="M104 298h4v4h-4z" fill="#14dbff"/>
<path d="M151 328h4v4h-4zM184 324h3v3h-3zM131 316h3v3h-3zM153 319h4v4h-4zM116 306h5v5h-5zM128 328h4v4h-4z" fill="#14ecff"/>
<path d="M133 326h5v5h-5zM125 307h4v4h-4zM129 318h4v4h-4zM199 324h5v5h-5zM166 317h4v4h-4zM103 302h3v3h-3zM129 306h5v5h-5zM173 322h3v3h-3zM167 315h3v3h-3zM105 319h4v4h-4zM160 320h4v4h-4zM182 328h5v5h-5zM108 313h3v3h-3zM108 314h5v5h-5zM108 316h3v3h-3zM193 329h5v5h-5zM164 325h3v3h-3zM119 327h3v3h-3zM102 301h3v3h-3zM145 330h4v4h-4zM134 304h4v4h-4zM96 312h4v4h-4zM127 283h3v3h-3zM177 347h3v3h-3zM235 362h5v5h-5zM181 319h4v4h-4zM137 317h4v4h-4zM127 326h4v4h-4zM131 312h5v5h-5zM156 324h5v5h-5z" fill="#14ffff"/>
<path d="M153 311h4v4h-4zM150 310h4v4h-4zM203 337h4v4h-4zM100 299h5v5h-5zM148 329h3v3h-3zM204 332h4v4h-4zM189 313h3v3h-3zM153 336h5v5h-5zM125 306h4v4h-4zM129 324h3v3h-3zM203 326h5v5h-5zM184 330h3v3h-3zM135 313h3v3h-3zM177 320h4v4h-4zM176 335h4v4h-4zM163 319h4v4h-4zM124 287h3v3h-3zM136 326h4v4h-4zM110 320h4v4h-4zM95 308h4v4h-4zM191 330h3v3h-3zM132 328h3v3h-3zM251 359h4v4h-4zM207 346h4v4h-4zM114 309h4v4h-4zM149 322h3v3h-3zM248 340h4v4h-4zM141 320h4v4h-4zM124 315h5v5h-5zM113 309h4v4h-4zM153 340h4v4h-4zM201 335h3v3h-3zM232 359h5v5h-5zM102 312h3v3h-3zM215 332h5v5h-5zM124 288h3v3h-3zM216 335h5v5h-5zM202 344h3v3h-3zM98 301h3v3h-3zM113 308h3v3h-3zM130 312h3v3h-3zM149 322h4v4h-4zM172 341h3v3h-3zM125 309h4v4h-4zM125 301h4v4h-4zM174 328h3v3h-3zM255 359h5v5h-5zM227 336h3v3h-3zM147 327h4v4h-4zM168 337h5v5h-5zM113 318h4v4h-4zM120 322h4v4h-4zM145 320h4v4h-4zM120 313h3v3h-3zM131 317h5v5h-5zM208 333h3v3h-3zM142 333h3v3h-3zM151 323h4v4h-4zM241 346h3v3h-3zM138 329h5v5h-5zM197 340h5v5h-5zM212 341h4v4h-4zM273 348h5v5h-5z" fill="#25ffec"/>
<path d="M303 348h3v3h-3zM245 357h5v5h-5zM234 342h3v3h-3zM238 331h3v3h-3zM135 317h3v3h-3zM111 287h4v4h-4zM194 330h5v5h-5zM297 371h3v3h-3zM157 313h5v5h-5zM192 322h3v3h-3zM163 344h3v3h-3zM173 322h3v3h-3zM304 373h4v4h-4zM264 352h5v5h-5zM113 312h3v3h-3zM226 339h3v3h-3zM112 325h4v4h-4zM201 347h4v4h-4zM163 332h4v4h-4zM227 361h4v4h-4zM177 312h4v4h-4zM222 334h4v4h-4zM155 328h4v4h-4zM227 337h4v4h-4zM145 321h4v4h-4zM149 328h3v3h-3zM189 333h5v5h-5zM225 346h5v5h-5zM195 330h3v3h-3zM131 321h5v5h-5zM138 327h3v3h-3zM122 325h3v3h-3zM185 337h4v4h-4zM320 366h4v4h-4zM200 338h4v4h-4zM120 325h5v5h-5zM162 328h5v5h-5zM214 339h3v3h-3zM264 344h4v4h-4zM216 349h3v3h-3zM177 322h4v4h-4zM117 314h3v3h-3zM246 366h3v3h-3zM248 353h3v3h-3zM222 355h3v3h-3zM141 331h3v3h-3zM176 316h4v4h-4zM149 325h3v3h-3zM156 314h5v5h-5zM158 334h5v5h-5zM117 313h4v4h-4zM191 342h4v4h-4zM107 313h4v4h-4zM222 352h3v3h-3zM217 327h4v4h-4zM229 355h4v4h-4zM113 302h4v4h-4zM149 313h4v4h-4zM159 324h4v4h-4zM123 308h4v4h-4zM204 323h3v3h-3zM162 331h5v5h-5zM190 353h4v4h-4zM198 345h3v3h-3zM224 347h4v4h-4zM128 315h4v4h-4z" fill="#37ffdb"/>
<path d="M223 341h5v5h-5zM149 325h3v3h-3zM295 363h5v5h-5zM280 359h3v3h-3zM134 316h3v3h-3zM211 352h4v4h-4zM292 355h5v5h-5zM152 326h4v4h-4zM190 330h4v4h-4zM123 324h4v4h-4zM135 322h3v3h-3zM316 371h4v4h-4zM234 350h3v3h-3zM160 325h4v4h-4zM226 346h3v3h-3zM99 304h3v3h-3zM198 327h4v4h-4zM105 307h4v4h-4zM255 352h4v4h-4zM276 356h3v3h-3zM236 352h4v4h-4zM271 344h5v5h-5zM113 314h4v4h-4zM117 315h3v3h-3zM312 367h3v3h-3zM173 337h3v3h-3zM243 355h4v4h-4zM158 326h4v4h-4zM179 346h3v3h-3zM323 367h4v4h-4zM126 306h3v3h-3zM222 336h4v4h-4zM178 336h3v3h-3zM242 343h4v4h-4zM130 313h4v4h-4zM186 331h5v5h-5zM266 359h4v4h-4zM265 364h3v3h-3zM154 330h5v5h-5zM267 362h3v3h-3zM164 331h4v4h-4zM208 335h5v5h-5zM216 351h4v4h-4zM234 341h3v3h-3zM116 312h4v4h-4zM279 352h4v4h-4zM189 320h4v4h-4zM171 332h4v4h-4zM197 330h3v3h-3zM118 299h3v3h-3zM203 327h4v4h-4zM178 332h3v3h-3zM182 347h5v5h-5zM244 337h3v3h-3zM146 326h5v5h-5zM197 334h4v4h-4zM128 325h3v3h-3zM182 324h3v3h-3zM241 354h5v5h-5zM153 329h3v3h-3zM289 371h5v5h-5zM112 318h3v3h-3zM115 314h5v5h-5zM117 319h3v3h-3zM152 313h3v3h-3zM171 324h4v4h-4zM205 342h4v4h-4zM212 347h5v5h-5zM169 343h5v5h-5zM158 330h4v4h-4zM125 293h3v3h-3zM301 358h3v3h-3zM159 328h5v5h-5zM167 342h4v4h-4zM265 355h5v5h-5zM211 345h4v4h-4zM121 315h3v3h-3zM160 324h3v3h-3zM132 327h3v3h-3zM288 368h5v5h-5zM239 326h3v3h-3zM255 358h4v4h-4zM202 335h5v5h-5zM162 337h5v5h-5zM213 344h3v3h-3zM265 346h3v3h-3zM166 313h3v3h-3z" fill="#48ffc9"/>
<path d="M228 345h4v4h-4zM316 360h4v4h-4zM241 331h3v3h-3zM122 315h4v4h-4zM270 357h3v3h-3zM161 326h3v3h-3zM200 329h3v3h-3zM297 355h3v3h-3zM268 364h3v3h-3zM266 356h3v3h-3zM290 348h3v3h-3zM253 355h3v3h-3zM230 349h5v5h-5zM213 341h5v5h-5zM225 351h3v3h-3zM136 312h4v4h-4zM175 330h4v4h-4zM146 311h4v4h-4zM251 366h4v4h-4zM179 330h4v4h-4zM241 357h4v4h-4zM194 326h3v3h-3zM225 345h4v4h-4zM189 334h4v4h-4zM205 333h4v4h-4zM245 323h5v5h-5zM320 363h4v4h-4zM220 332h3v3h-3zM191 335h5v5h-5zM139 314h4v4h-4zM292 368h4v4h-4zM248 339h3v3h-3zM215 348h3v3h-3zM188 325h4v4h-4zM315 372h5v5h-5zM164 333h3v3h-3zM254 351h4v4h-4zM287 366h4v4h-4zM271 352h3v3h-3zM243 352h4v4h-4zM292 362h3v3h-3zM309 373h4v4h-4zM221 328h3v3h-3zM231 348h4v4h-4zM192 344h4v4h-4zM96 304h4v4h-4zM257 367h5v5h-5zM235 341h3v3h-3zM259 359h4v4h-4zM190 317h3v3h-3zM276 352h4v4h-4zM246 345h3v3h-3zM295 373h4v4h-4zM294 367h4v4h-4zM223 322h5v5h-5zM156 323h3v3h-3zM293 367h3v3h-3zM174 336h4v4h-4zM282 356h5v5h-5zM198 337h4v4h-4zM226 338h3v3h-3zM234 347h4v4h-4zM233 345h3v3h-3zM202 323h4v4h-4zM219 361h4v4h-4zM247 326h3v3h-3zM114 317h5v5h-5zM223 354h5v5h-5z" fill="#5affb8"/>
<path d="M212 337h4v4h-4zM275 353h4v4h-4zM216 346h3v3h-3zM260 344h4v4h-4zM228 337h5v5h-5zM267 357h4v4h-4zM257 358h4v4h-4zM261 348h4v4h-4zM211 333h4v4h-4zM276 352h5v5h-5zM253 323h3v3h-3zM182 351h4v4h-4zM292 373h3v3h-3zM202 322h3v3h-3zM167 324h4v4h-4zM219 353h3v3h-3zM225 346h4v4h-4zM304 365h3v3h-3zM187 348h4v4h-4zM227 359h5v5h-5zM216 351h5v5h-5zM223 346h4v4h-4zM241 332h4v4h-4zM232 354h4v4h-4zM283 355h5v5h-5zM262 357h3v3h-3z" fill="#6bffa6"/>
<path d="M234 345h5v5h-5zM188 347h4v4h-4zM260 353h4v4h-4zM274 349h5v5h-5zM287 366h3v3h-3zM227 349h3v3h-3zM263 359h3v3h-3zM305 373h4v4h-4zM286 347h5v5h-5z" fill="#7dff95"/>
<path d="M259 360h5v5h-5zM266 356h4v4h-4zM306 355h4v4h-4z" fill="#8eff83"/>
</g></g>
<path d="M114.3,291.9 L116.1,298.4 L117.9,299.2 L127.5,298.2 L129.7,297.0 L133.8,290.4 L133.6,289.0 L127.5,286.6 L125.1,286.8 L115.5,290.3 Z M133.4,302.9 L136.3,298.7 L138.5,298.4 L149.3,300.8 L152.7,302.4 L163.5,310.2 L163.9,311.4 L155.5,311.4 L152.7,310.8 L143.1,307.3 L140.6,306.3 L133.9,304.0 Z M121.2,312.3 L125.3,311.5 L126.8,311.9 L132.2,315.4 L132.8,316.1 L131.2,317.7 L129.9,317.8 L123.1,317.0 L121.8,316.4 L120.7,312.9 Z M149.4,319.3 L161.7,319.0 L165.3,319.7 L176.3,325.1 L177.3,326.2 L172.7,328.5 L170.2,328.3 L158.8,325.4 L155.9,324.2 L148.6,320.1 Z M186.8,325.9 L193.9,322.9 L196.7,322.4 L207.6,322.4 L209.7,322.9 L212.1,325.9 L210.6,326.7 L198.6,328.5 L195.4,328.5 L187.0,326.7 Z M212.6,331.8 L216.4,328.0 L218.6,327.3 L228.4,326.3 L231.2,326.5 L238.8,328.6 L240.4,329.6 L242.6,333.7 L242.2,335.0 L236.8,338.6 L234.3,339.2 L223.7,339.6 L221.0,339.3 L215.0,337.2 L213.8,336.4 L212.2,332.9 Z M276.6,339.1 L280.4,337.2 L281.8,337.1 L287.2,338.2 L288.1,338.8 L288.9,341.0 L288.3,341.5 L283.7,342.0 L282.2,341.8 L276.8,339.7 Z M249.2,344.1 L253.3,342.5 L255.4,342.4 L264.6,343.7 L267.2,344.4 L274.8,347.9 L276.4,349.0 L278.6,352.8 L278.2,353.9 L272.8,356.7 L270.6,357.0 L261.4,355.6 L258.9,354.8 L252.1,351.0 L250.7,349.7 L248.8,345.1 Z M216.7,350.9 L221.3,347.9 L223.4,347.5 L232.6,347.8 L235.0,348.4 L241.5,351.9 L241.8,352.9 L237.7,356.4 L235.2,356.9 L223.8,357.2 L221.3,356.5 L216.7,352.1 Z M303.7,364.2 L308.3,362.6 L310.1,362.8 L316.9,365.0 L317.8,365.8 L316.2,368.5 L314.8,368.8 L307.2,368.5 L305.6,367.9 L303.4,364.9 Z" fill="#ffffff" fill-opacity="0.65" stroke="#3a3a3a" stroke-width="1.4" stroke-linejoin="round"/>
<path d="M92.7,296.4 L103.0,289.4 L113.5,282.9 L119.3,281.9 L125.8,282.6 L130.2,283.3 L135.3,285.1 L145.0,289.1 L158.3,295.1 L174.3,304.4 L191.7,309.7 L211.7,315.1 L227.7,319.1 L243.7,319.9 L255.0,323.7 L270.0,328.4 L283.5,333.9 L294.7,340.9 L312.0,353.4 L325.3,364.7 L320.0,373.4 L289.0,373.4 L260.0,371.9 L230.0,364.9 L190.0,354.2 L166.4,347.7 L150.0,341.9 L130.0,333.9 L117.1,327.4 L109.8,324.8 L102.5,320.8 L97.5,317.1 L95.3,312.4 L94.3,304.4 Z" fill="none" stroke="#3a3a3a" stroke-width="1.6" stroke-linejoin="round"/>
<clipPath id="clipA3"><path d="M92.7,242.3 L103.0,235.3 L113.5,228.8 L119.3,227.8 L125.8,228.5 L130.2,229.2 L135.3,231.0 L145.0,235.0 L158.3,241.0 L174.3,250.3 L191.7,255.6 L211.7,261.0 L227.7,265.0 L243.7,265.8 L255.0,269.6 L270.0,274.3 L283.5,279.8 L294.7,286.8 L312.0,299.3 L325.3,310.6 L320.0,319.3 L289.0,319.3 L260.0,317.8 L230.0,310.8 L190.0,300.1 L166.4,293.6 L150.0,287.8 L130.0,279.8 L117.1,273.3 L109.8,270.7 L102.5,266.7 L97.5,263.0 L95.3,258.3 L94.3,250.3 Z"/></clipPath>
<path d="M92.7,242.3 L103.0,235.3 L113.5,228.8 L119.3,227.8 L125.8,228.5 L130.2,229.2 L135.3,231.0 L145.0,235.0 L158.3,241.0 L174.3,250.3 L191.7,255.6 L211.7,261.0 L227.7,265.0 L243.7,265.8 L255.0,269.6 L270.0,274.3 L283.5,279.8 L294.7,286.8 L312.0,299.3 L325.3,310.6 L320.0,319.3 L289.0,319.3 L260.0,317.8 L230.0,310.8 L190.0,300.1 L166.4,293.6 L150.0,287.8 L130.0,279.8 L117.1,273.3 L109.8,270.7 L102.5,266.7 L97.5,263.0 L95.3,258.3 L94.3,250.3 Z M114.3,237.8 L116.1,244.3 L117.9,245.1 L127.5,244.1 L129.7,242.9 L133.8,236.3 L133.6,234.9 L127.5,232.5 L125.1,232.7 L115.5,236.2 Z M133.4,248.8 L136.3,244.6 L138.5,244.3 L149.3,246.7 L152.7,248.3 L163.5,256.1 L163.9,257.3 L155.5,257.3 L152.7,256.7 L143.1,253.2 L140.6,252.2 L133.9,249.9 Z M121.2,258.2 L125.3,257.4 L126.8,257.8 L132.2,261.3 L132.8,262.0 L131.2,263.6 L129.9,263.7 L123.1,262.9 L121.8,262.3 L120.7,258.8 Z M149.4,265.2 L161.7,264.9 L165.3,265.6 L176.3,271.0 L177.3,272.1 L172.7,274.4 L170.2,274.2 L158.8,271.3 L155.9,270.1 L148.6,266.0 Z M186.8,271.8 L193.9,268.8 L196.7,268.3 L207.6,268.3 L209.7,268.8 L212.1,271.8 L210.6,272.6 L198.6,274.4 L195.4,274.4 L187.0,272.6 Z M212.6,277.7 L216.4,273.9 L218.6,273.2 L228.4,272.2 L231.2,272.4 L238.8,274.5 L240.4,275.5 L242.6,279.6 L242.2,280.9 L236.8,284.5 L234.3,285.1 L223.7,285.5 L221.0,285.2 L215.0,283.1 L213.8,282.3 L212.2,278.8 Z M276.6,285.0 L280.4,283.1 L281.8,283.0 L287.2,284.1 L288.1,284.7 L288.9,286.9 L288.3,287.4 L283.7,287.9 L282.2,287.7 L276.8,285.6 Z M249.2,290.0 L253.3,288.4 L255.4,288.3 L264.6,289.6 L267.2,290.3 L274.8,293.8 L276.4,294.9 L278.6,298.7 L278.2,299.8 L272.8,302.6 L270.6,302.9 L261.4,301.5 L258.9,300.7 L252.1,296.9 L250.7,295.6 L248.8,291.0 Z M216.7,296.8 L221.3,293.8 L223.4,293.4 L232.6,293.7 L235.0,294.3 L241.5,297.8 L241.8,298.8 L237.7,302.3 L235.2,302.8 L223.8,303.1 L221.3,302.4 L216.7,298.0 Z M303.7,310.1 L308.3,308.5 L310.1,308.7 L316.9,310.9 L317.8,311.7 L316.2,314.4 L314.8,314.7 L307.2,314.4 L305.6,313.8 L303.4,310.8 Z" fill="#dadada" fill-rule="evenodd"/>
<g clip-path="url(#clipA3)"><g filter="url(#dotblur)" opacity="0.8">
<path d="M292 307h3v3h-3z" fill="#25ffec"/>
<path d="M239 290h4v4h-4zM236 298h4v4h-4z" fill="#48ffc9"/>
<path d="M239 281h5v5h-5zM233 281h4v4h-4zM252 299h4v4h-4zM170 263h3v3h-3zM302 314h4v4h-4zM170 292h3v3h-3zM99 253h5v5h-5zM124 267h3v3h-3zM272 289h4v4h-4zM291 303h4v4h-4zM266 314h4v4h-4zM153 276h4v4h-4zM288 310h5v5h-5zM311 317h4v4h-4z" fill="#5affb8"/>
<path d="M165 265h4v4h-4zM128 249h4v4h-4zM231 278h4v4h-4zM187 273h3v3h-3zM163 256h5v5h-5zM260 309h5v5h-5zM292 310h4v4h-4zM230 300h4v4h-4zM125 253h3v3h-3zM316 309h4v4h-4zM220 298h4v4h-4zM300 319h4v4h-4zM252 290h4v4h-4zM310 303h4v4h-4zM150 255h4v4h-4zM289 314h3v3h-3zM167 280h3v3h-3zM147 273h4v4h-4zM180 269h5v5h-5zM168 292h4v4h-4zM139 272h3v3h-3zM156 270h3v3h-3zM153 273h4v4h-4zM191 274h3v3h-3zM238 285h4v4h-4zM204 280h3v3h-3zM200 275h5v5h-5zM112 236h4v4h-4zM157 276h4v4h-4zM263 301h3v3h-3zM170 266h4v4h-4zM235 296h4v4h-4zM271 305h4v4h-4zM233 283h5v5h-5zM248 300h4v4h-4zM295 318h3v3h-3zM99 262h4v4h-4zM165 269h5v5h-5zM283 308h4v4h-4zM288 305h5v5h-5z" fill="#6bffa6"/>
<path d="M311 308h3v3h-3zM187 274h3v3h-3zM212 278h5v5h-5zM155 279h4v4h-4zM103 255h3v3h-3zM231 293h3v3h-3zM202 302h3v3h-3zM132 249h3v3h-3zM217 289h5v5h-5zM123 261h4v4h-4zM260 299h3v3h-3zM281 300h3v3h-3zM172 282h4v4h-4zM107 258h3v3h-3zM159 266h5v5h-5zM102 247h5v5h-5zM113 260h5v5h-5zM149 259h4v4h-4zM147 259h4v4h-4zM245 283h3v3h-3zM97 253h4v4h-4zM211 277h4v4h-4zM155 282h4v4h-4zM309 310h4v4h-4zM301 314h3v3h-3zM177 268h5v5h-5zM115 267h3v3h-3zM240 296h5v5h-5zM147 261h3v3h-3zM235 284h4v4h-4zM249 302h3v3h-3zM308 301h4v4h-4zM124 230h4v4h-4zM112 264h4v4h-4zM190 268h4v4h-4zM265 294h5v5h-5zM258 312h3v3h-3zM171 281h5v5h-5zM156 267h4v4h-4zM154 284h3v3h-3zM260 291h3v3h-3zM112 263h3v3h-3zM210 285h3v3h-3zM206 290h4v4h-4zM242 295h3v3h-3zM160 273h4v4h-4zM148 263h5v5h-5zM237 307h5v5h-5zM138 263h3v3h-3zM266 303h3v3h-3zM296 318h3v3h-3zM110 250h5v5h-5zM179 287h3v3h-3zM232 287h3v3h-3zM143 263h5v5h-5zM204 282h3v3h-3zM211 280h3v3h-3zM132 262h3v3h-3zM267 290h4v4h-4zM262 313h3v3h-3zM311 306h5v5h-5zM321 316h4v4h-4zM285 300h3v3h-3zM296 307h3v3h-3zM299 312h3v3h-3zM280 289h4v4h-4zM285 315h5v5h-5zM104 264h5v5h-5zM242 291h4v4h-4zM109 252h3v3h-3z" fill="#7dff95"/>
<path d="M186 275h3v3h-3zM109 237h4v4h-4zM177 268h3v3h-3zM220 299h4v4h-4zM173 274h3v3h-3zM155 269h5v5h-5zM140 273h4v4h-4zM274 304h3v3h-3zM95 248h4v4h-4zM269 286h5v5h-5zM195 288h4v4h-4zM248 304h3v3h-3zM182 286h3v3h-3zM227 286h3v3h-3zM242 301h3v3h-3zM203 287h4v4h-4zM190 278h3v3h-3zM286 297h5v5h-5zM217 295h4v4h-4zM125 256h3v3h-3zM269 292h3v3h-3zM177 285h4v4h-4zM222 284h4v4h-4zM145 261h4v4h-4zM246 285h4v4h-4zM107 251h4v4h-4zM110 253h3v3h-3zM243 284h4v4h-4zM213 282h3v3h-3zM254 296h3v3h-3zM167 276h4v4h-4zM237 309h3v3h-3zM196 272h3v3h-3zM289 310h4v4h-4zM292 315h4v4h-4zM249 300h3v3h-3zM181 283h3v3h-3zM186 280h4v4h-4zM111 253h4v4h-4zM309 319h3v3h-3zM308 303h5v5h-5zM173 266h4v4h-4zM191 287h5v5h-5zM114 246h5v5h-5zM310 316h4v4h-4zM174 269h5v5h-5zM180 278h4v4h-4zM280 296h3v3h-3zM196 269h4v4h-4zM255 309h5v5h-5zM260 280h4v4h-4zM154 265h3v3h-3zM214 286h3v3h-3zM210 304h3v3h-3zM278 308h4v4h-4zM175 275h4v4h-4zM125 229h4v4h-4zM132 278h5v5h-5zM273 298h3v3h-3zM235 288h5v5h-5zM134 269h3v3h-3zM139 257h3v3h-3zM139 280h4v4h-4zM271 308h5v5h-5zM269 304h5v5h-5zM212 289h4v4h-4zM226 286h4v4h-4zM126 240h4v4h-4zM241 295h3v3h-3zM287 295h5v5h-5zM205 263h5v5h-5zM128 257h4v4h-4zM142 272h3v3h-3zM122 246h4v4h-4zM224 285h3v3h-3zM153 259h4v4h-4zM269 299h4v4h-4zM244 307h4v4h-4zM267 307h3v3h-3zM199 278h4v4h-4zM142 267h5v5h-5zM148 276h4v4h-4zM105 265h4v4h-4zM217 278h3v3h-3zM241 304h4v4h-4zM315 315h4v4h-4zM112 233h4v4h-4zM169 275h3v3h-3zM131 266h5v5h-5zM165 282h5v5h-5zM100 255h4v4h-4zM117 268h3v3h-3zM278 295h5v5h-5zM249 282h4v4h-4zM94 246h4v4h-4zM194 282h5v5h-5zM275 294h3v3h-3zM270 280h4v4h-4zM256 304h4v4h-4zM171 294h3v3h-3zM247 289h3v3h-3zM157 271h4v4h-4zM323 310h3v3h-3zM201 283h3v3h-3zM184 281h4v4h-4zM228 291h4v4h-4zM97 259h5v5h-5zM101 246h5v5h-5zM309 308h3v3h-3z" fill="#8eff83"/>
<path d="M217 282h5v5h-5zM146 274h3v3h-3zM140 277h5v5h-5zM156 272h3v3h-3zM272 293h4v4h-4zM146 265h5v5h-5zM123 265h4v4h-4zM262 304h3v3h-3zM247 274h3v3h-3zM142 255h4v4h-4zM221 282h3v3h-3zM198 278h3v3h-3zM97 245h3v3h-3zM105 267h5v5h-5zM124 251h3v3h-3zM106 249h4v4h-4zM100 265h5v5h-5zM275 313h4v4h-4zM323 310h3v3h-3zM292 297h3v3h-3zM209 282h3v3h-3zM151 287h4v4h-4zM125 274h4v4h-4zM159 280h3v3h-3zM123 270h3v3h-3zM169 267h3v3h-3zM157 278h4v4h-4zM214 295h3v3h-3zM231 283h4v4h-4zM125 261h4v4h-4zM171 256h3v3h-3zM272 307h3v3h-3zM309 306h3v3h-3zM173 284h3v3h-3zM131 258h3v3h-3zM141 238h4v4h-4zM200 277h4v4h-4zM230 304h4v4h-4zM153 266h4v4h-4zM169 269h4v4h-4zM220 303h5v5h-5zM170 280h4v4h-4zM221 304h4v4h-4zM149 260h3v3h-3zM123 255h3v3h-3zM120 267h4v4h-4zM130 263h4v4h-4zM205 292h4v4h-4zM134 262h3v3h-3zM249 300h3v3h-3zM229 299h4v4h-4zM272 289h3v3h-3zM291 306h4v4h-4zM220 281h4v4h-4zM126 264h5v5h-5zM114 238h4v4h-4zM277 317h3v3h-3zM140 264h3v3h-3zM104 254h3v3h-3zM124 254h4v4h-4zM276 312h4v4h-4zM101 256h4v4h-4zM218 275h4v4h-4zM229 297h3v3h-3zM287 315h3v3h-3zM216 285h3v3h-3zM270 292h3v3h-3zM120 254h4v4h-4zM145 265h3v3h-3zM125 262h3v3h-3zM271 307h4v4h-4zM136 275h5v5h-5zM219 298h3v3h-3zM99 256h4v4h-4zM108 252h4v4h-4zM255 300h5v5h-5zM295 311h5v5h-5zM124 252h5v5h-5zM146 257h4v4h-4zM142 262h5v5h-5zM150 276h4v4h-4zM103 251h4v4h-4zM186 267h4v4h-4zM262 301h4v4h-4zM146 254h3v3h-3z" fill="#a1ff71"/>
<path d="M120 252h4v4h-4zM182 282h3v3h-3zM289 294h5v5h-5zM117 271h4v4h-4zM190 291h4v4h-4zM131 263h3v3h-3zM178 270h3v3h-3zM182 265h3v3h-3zM129 271h3v3h-3zM251 302h3v3h-3zM223 307h5v5h-5zM121 263h5v5h-5zM143 276h4v4h-4zM125 269h3v3h-3zM110 252h4v4h-4zM149 261h3v3h-3zM209 272h3v3h-3zM322 315h5v5h-5zM130 231h4v4h-4zM205 279h3v3h-3zM256 307h3v3h-3zM252 286h5v5h-5zM133 257h5v5h-5z" fill="#b2ff5f"/>
<path d="M263 281h4v4h-4zM187 296h3v3h-3zM125 270h5v5h-5zM291 285h4v4h-4zM233 286h5v5h-5zM267 300h5v5h-5zM295 304h3v3h-3zM264 293h4v4h-4zM171 280h3v3h-3zM283 308h4v4h-4zM106 261h5v5h-5zM307 306h4v4h-4zM209 275h4v4h-4z" fill="#c4ff4e"/>
<path d="M155 270h4v4h-4zM172 283h4v4h-4zM134 278h4v4h-4z" fill="#d5ff3c"/>
</g></g>
<path d="M114.3,237.8 L116.1,244.3 L117.9,245.1 L127.5,244.1 L129.7,242.9 L133.8,236.3 L133.6,234.9 L127.5,232.5 L125.1,232.7 L115.5,236.2 Z M133.4,248.8 L136.3,244.6 L138.5,244.3 L149.3,246.7 L152.7,248.3 L163.5,256.1 L163.9,257.3 L155.5,257.3 L152.7,256.7 L143.1,253.2 L140.6,252.2 L133.9,249.9 Z M121.2,258.2 L125.3,257.4 L126.8,257.8 L132.2,261.3 L132.8,262.0 L131.2,263.6 L129.9,263.7 L123.1,262.9 L121.8,262.3 L120.7,258.8 Z M149.4,265.2 L161.7,264.9 L165.3,265.6 L176.3,271.0 L177.3,272.1 L172.7,274.4 L170.2,274.2 L158.8,271.3 L155.9,270.1 L148.6,266.0 Z M186.8,271.8 L193.9,268.8 L196.7,268.3 L207.6,268.3 L209.7,268.8 L212.1,271.8 L210.6,272.6 L198.6,274.4 L195.4,274.4 L187.0,272.6 Z M212.6,277.7 L216.4,273.9 L218.6,273.2 L228.4,272.2 L231.2,272.4 L238.8,274.5 L240.4,275.5 L242.6,279.6 L242.2,280.9 L236.8,284.5 L234.3,285.1 L223.7,285.5 L221.0,285.2 L215.0,283.1 L213.8,282.3 L212.2,278.8 Z M276.6,285.0 L280.4,283.1 L281.8,283.0 L287.2,284.1 L288.1,284.7 L288.9,286.9 L288.3,287.4 L283.7,287.9 L282.2,287.7 L276.8,285.6 Z M249.2,290.0 L253.3,288.4 L255.4,288.3 L264.6,289.6 L267.2,290.3 L274.8,293.8 L276.4,294.9 L278.6,298.7 L278.2,299.8 L272.8,302.6 L270.6,302.9 L261.4,301.5 L258.9,300.7 L252.1,296.9 L250.7,295.6 L248.8,291.0 Z M216.7,296.8 L221.3,293.8 L223.4,293.4 L232.6,293.7 L235.0,294.3 L241.5,297.8 L241.8,298.8 L237.7,302.3 L235.2,302.8 L223.8,303.1 L221.3,302.4 L216.7,298.0 Z M303.7,310.1 L308.3,308.5 L310.1,308.7 L316.9,310.9 L317.8,311.7 L316.2,314.4 L314.8,314.7 L307.2,314.4 L305.6,313.8 L303.4,310.8 Z" fill="#ffffff" fill-opacity="0.65" stroke="#3a3a3a" stroke-width="1.4" stroke-linejoin="round"/>
<path d="M92.7,242.3 L103.0,235.3 L113.5,228.8 L119.3,227.8 L125.8,228.5 L130.2,229.2 L135.3,231.0 L145.0,235.0 L158.3,241.0 L174.3,250.3 L191.7,255.6 L211.7,261.0 L227.7,265.0 L243.7,265.8 L255.0,269.6 L270.0,274.3 L283.5,279.8 L294.7,286.8 L312.0,299.3 L325.3,310.6 L320.0,319.3 L289.0,319.3 L260.0,317.8 L230.0,310.8 L190.0,300.1 L166.4,293.6 L150.0,287.8 L130.0,279.8 L117.1,273.3 L109.8,270.7 L102.5,266.7 L97.5,263.0 L95.3,258.3 L94.3,250.3 Z" fill="none" stroke="#3a3a3a" stroke-width="1.6" stroke-linejoin="round"/>
<clipPath id="clipA2"><path d="M92.7,188.2 L103.0,181.2 L113.5,174.7 L119.3,173.7 L125.8,174.4 L130.2,175.1 L135.3,176.9 L145.0,180.9 L158.3,186.9 L174.3,196.2 L191.7,201.5 L211.7,206.9 L227.7,210.9 L243.7,211.7 L255.0,215.5 L270.0,220.2 L283.5,225.7 L294.7,232.7 L312.0,245.2 L325.3,256.5 L320.0,265.2 L289.0,265.2 L260.0,263.7 L230.0,256.7 L190.0,246.0 L166.4,239.5 L150.0,233.7 L130.0,225.7 L117.1,219.2 L109.8,216.6 L102.5,212.6 L97.5,208.9 L95.3,204.2 L94.3,196.2 Z"/></clipPath>
<path d="M92.7,188.2 L103.0,181.2 L113.5,174.7 L119.3,173.7 L125.8,174.4 L130.2,175.1 L135.3,176.9 L145.0,180.9 L158.3,186.9 L174.3,196.2 L191.7,201.5 L211.7,206.9 L227.7,210.9 L243.7,211.7 L255.0,215.5 L270.0,220.2 L283.5,225.7 L294.7,232.7 L312.0,245.2 L325.3,256.5 L320.0,265.2 L289.0,265.2 L260.0,263.7 L230.0,256.7 L190.0,246.0 L166.4,239.5 L150.0,233.7 L130.0,225.7 L117.1,219.2 L109.8,216.6 L102.5,212.6 L97.5,208.9 L95.3,204.2 L94.3,196.2 Z M114.3,183.7 L116.1,190.2 L117.9,191.0 L127.5,190.0 L129.7,188.8 L133.8,182.2 L133.6,180.8 L127.5,178.4 L125.1,178.6 L115.5,182.1 Z M133.4,194.7 L136.3,190.5 L138.5,190.2 L149.3,192.6 L152.7,194.2 L163.5,202.0 L163.9,203.2 L155.5,203.2 L152.7,202.6 L143.1,199.1 L140.6,198.1 L133.9,195.8 Z M121.2,204.1 L125.3,203.3 L126.8,203.7 L132.2,207.2 L132.8,207.9 L131.2,209.5 L129.9,209.6 L123.1,208.8 L121.8,208.2 L120.7,204.7 Z M149.4,211.1 L161.7,210.8 L165.3,211.5 L176.3,216.9 L177.3,218.0 L172.7,220.3 L170.2,220.1 L158.8,217.2 L155.9,216.0 L148.6,211.9 Z M186.8,217.7 L193.9,214.7 L196.7,214.2 L207.6,214.2 L209.7,214.7 L212.1,217.7 L210.6,218.5 L198.6,220.3 L195.4,220.3 L187.0,218.5 Z M212.6,223.6 L216.4,219.8 L218.6,219.1 L228.4,218.1 L231.2,218.3 L238.8,220.4 L240.4,221.4 L242.6,225.5 L242.2,226.8 L236.8,230.4 L234.3,231.0 L223.7,231.4 L221.0,231.1 L215.0,229.0 L213.8,228.2 L212.2,224.7 Z M276.6,230.9 L280.4,229.0 L281.8,228.9 L287.2,230.0 L288.1,230.6 L288.9,232.8 L288.3,233.3 L283.7,233.8 L282.2,233.6 L276.8,231.5 Z M249.2,235.9 L253.3,234.3 L255.4,234.2 L264.6,235.5 L267.2,236.2 L274.8,239.7 L276.4,240.8 L278.6,244.6 L278.2,245.7 L272.8,248.5 L270.6,248.8 L261.4,247.4 L258.9,246.6 L252.1,242.8 L250.7,241.5 L248.8,236.9 Z M216.7,242.7 L221.3,239.7 L223.4,239.3 L232.6,239.6 L235.0,240.2 L241.5,243.7 L241.8,244.7 L237.7,248.2 L235.2,248.7 L223.8,249.0 L221.3,248.3 L216.7,243.9 Z M303.7,256.0 L308.3,254.4 L310.1,254.6 L316.9,256.8 L317.8,257.6 L316.2,260.3 L314.8,260.6 L307.2,260.3 L305.6,259.7 L303.4,256.7 Z" fill="#dadada" fill-rule="evenodd"/>
<g clip-path="url(#clipA2)"><g filter="url(#dotblur)" opacity="0.8">
<path d="M259 244h4v4h-4z" fill="#7dff95"/>
<path d="M308 247h5v5h-5zM197 226h3v3h-3zM223 233h3v3h-3zM323 258h5v5h-5zM236 241h4v4h-4zM286 234h4v4h-4zM234 235h4v4h-4zM242 233h4v4h-4z" fill="#8eff83"/>
<path d="M272 237h4v4h-4zM280 254h5v5h-5zM218 234h3v3h-3zM263 237h3v3h-3zM297 260h3v3h-3zM240 232h4v4h-4zM200 216h3v3h-3zM163 206h4v4h-4zM323 256h4v4h-4zM237 225h4v4h-4zM123 210h4v4h-4zM256 237h5v5h-5zM266 240h4v4h-4zM306 248h5v5h-5zM260 244h5v5h-5zM252 241h3v3h-3zM140 204h3v3h-3zM238 236h4v4h-4z" fill="#a1ff71"/>
<path d="M153 194h3v3h-3zM315 255h3v3h-3zM302 256h3v3h-3zM295 254h4v4h-4zM321 254h3v3h-3zM241 232h5v5h-5zM298 262h3v3h-3zM216 223h5v5h-5zM252 248h4v4h-4zM205 224h3v3h-3zM274 235h5v5h-5zM242 238h4v4h-4zM213 230h3v3h-3zM279 251h3v3h-3zM258 249h4v4h-4zM267 250h5v5h-5zM303 250h5v5h-5zM257 236h3v3h-3zM261 229h5v5h-5zM302 263h5v5h-5zM213 239h4v4h-4zM134 181h3v3h-3zM242 241h3v3h-3zM246 231h3v3h-3zM287 253h5v5h-5zM234 246h5v5h-5zM231 235h3v3h-3zM273 250h4v4h-4zM202 237h3v3h-3zM230 228h3v3h-3zM263 240h4v4h-4zM297 243h3v3h-3zM277 246h3v3h-3zM308 258h3v3h-3zM191 235h3v3h-3zM222 239h3v3h-3zM269 257h3v3h-3zM281 237h5v5h-5zM284 243h4v4h-4zM200 220h3v3h-3zM263 251h3v3h-3zM293 256h3v3h-3zM291 261h3v3h-3zM257 260h3v3h-3zM248 238h3v3h-3zM258 258h3v3h-3zM284 241h5v5h-5zM285 244h3v3h-3zM299 249h3v3h-3zM166 217h5v5h-5zM224 222h5v5h-5zM276 242h3v3h-3zM236 229h4v4h-4z" fill="#b2ff5f"/>
<path d="M302 252h4v4h-4zM222 226h3v3h-3zM204 221h4v4h-4zM187 215h4v4h-4zM299 257h4v4h-4zM147 206h3v3h-3zM258 241h3v3h-3zM189 234h4v4h-4zM158 210h5v5h-5zM155 215h5v5h-5zM177 238h3v3h-3zM243 234h3v3h-3zM314 255h4v4h-4zM151 231h5v5h-5zM255 234h4v4h-4zM212 238h3v3h-3zM251 259h3v3h-3zM253 239h5v5h-5zM127 216h3v3h-3zM179 238h4v4h-4zM232 230h5v5h-5zM224 245h5v5h-5zM199 230h3v3h-3zM201 248h3v3h-3zM250 242h5v5h-5zM173 197h3v3h-3zM320 260h3v3h-3zM269 260h4v4h-4zM243 243h4v4h-4zM236 232h4v4h-4zM283 257h3v3h-3zM242 235h3v3h-3zM223 232h3v3h-3zM278 233h3v3h-3zM112 193h3v3h-3zM217 227h3v3h-3zM248 246h3v3h-3zM263 253h5v5h-5zM238 229h3v3h-3zM255 254h3v3h-3zM247 239h4v4h-4zM209 248h4v4h-4zM225 233h3v3h-3zM321 264h4v4h-4zM196 213h4v4h-4zM181 205h4v4h-4zM228 238h4v4h-4zM168 213h3v3h-3zM274 254h3v3h-3zM186 203h3v3h-3zM207 246h5v5h-5zM140 213h4v4h-4zM188 236h4v4h-4zM124 218h3v3h-3zM118 183h4v4h-4zM256 259h4v4h-4zM316 255h4v4h-4zM204 230h4v4h-4zM162 226h4v4h-4zM252 246h4v4h-4zM139 217h5v5h-5zM290 235h5v5h-5zM175 222h4v4h-4zM194 225h4v4h-4zM264 248h3v3h-3zM209 227h3v3h-3zM143 194h5v5h-5zM156 209h3v3h-3zM209 232h5v5h-5zM136 201h5v5h-5zM119 196h3v3h-3zM144 203h5v5h-5zM272 247h3v3h-3zM250 244h4v4h-4zM277 248h3v3h-3zM125 214h3v3h-3zM160 201h5v5h-5zM180 217h3v3h-3zM291 247h5v5h-5zM321 257h4v4h-4z" fill="#c4ff4e"/>
<path d="M204 235h5v5h-5zM131 176h5v5h-5zM148 209h3v3h-3zM105 204h4v4h-4zM100 195h3v3h-3zM166 213h3v3h-3zM262 246h4v4h-4zM247 232h3v3h-3zM262 241h4v4h-4zM209 215h4v4h-4zM138 199h5v5h-5zM240 254h4v4h-4zM162 215h3v3h-3zM206 237h4v4h-4zM234 239h4v4h-4zM285 241h3v3h-3zM147 207h4v4h-4zM257 258h5v5h-5zM137 205h3v3h-3zM260 230h4v4h-4zM158 223h5v5h-5zM313 262h4v4h-4zM189 220h3v3h-3zM141 204h5v5h-5zM130 205h5v5h-5zM146 228h4v4h-4zM126 219h5v5h-5zM129 223h4v4h-4zM150 208h3v3h-3zM202 230h3v3h-3zM147 216h4v4h-4zM135 207h4v4h-4zM135 217h3v3h-3zM117 209h5v5h-5zM206 225h3v3h-3zM205 245h4v4h-4zM176 212h4v4h-4zM282 259h3v3h-3zM235 249h5v5h-5zM267 248h4v4h-4zM252 248h3v3h-3zM159 231h4v4h-4zM301 253h3v3h-3zM153 221h3v3h-3zM126 213h3v3h-3zM105 209h3v3h-3zM204 235h3v3h-3zM170 221h5v5h-5zM248 235h4v4h-4zM102 206h4v4h-4zM270 255h3v3h-3zM109 203h3v3h-3zM284 265h5v5h-5zM207 232h3v3h-3zM224 225h3v3h-3zM220 232h3v3h-3zM276 235h4v4h-4zM241 237h3v3h-3zM193 234h3v3h-3zM258 218h3v3h-3zM159 218h4v4h-4zM123 222h3v3h-3zM101 191h4v4h-4zM219 227h5v5h-5zM254 242h3v3h-3zM118 188h3v3h-3zM141 222h3v3h-3zM279 262h3v3h-3zM141 205h4v4h-4zM239 254h3v3h-3zM140 222h3v3h-3zM298 259h4v4h-4zM292 242h3v3h-3zM182 237h3v3h-3zM160 211h5v5h-5zM186 219h4v4h-4zM217 245h4v4h-4zM289 251h3v3h-3zM263 255h3v3h-3zM173 208h3v3h-3zM250 231h4v4h-4zM168 210h4v4h-4zM137 215h4v4h-4zM209 248h3v3h-3zM294 236h5v5h-5zM247 215h4v4h-4zM166 217h5v5h-5z" fill="#d5ff3c"/>
<path d="M127 211h4v4h-4zM138 217h3v3h-3zM120 210h5v5h-5zM242 245h4v4h-4zM159 213h4v4h-4zM190 226h5v5h-5zM183 210h3v3h-3zM182 228h4v4h-4zM199 229h4v4h-4zM127 211h4v4h-4zM109 213h5v5h-5zM113 197h3v3h-3zM165 208h5v5h-5zM158 210h4v4h-4zM181 216h4v4h-4zM124 213h3v3h-3zM222 242h4v4h-4zM175 217h3v3h-3zM214 244h5v5h-5zM316 260h4v4h-4zM270 258h4v4h-4zM184 213h3v3h-3zM161 219h4v4h-4zM230 223h4v4h-4zM104 205h4v4h-4zM98 188h3v3h-3zM271 253h3v3h-3zM167 209h4v4h-4zM105 191h4v4h-4zM250 252h4v4h-4zM96 205h3v3h-3zM245 250h5v5h-5zM120 200h3v3h-3zM147 211h3v3h-3zM105 211h4v4h-4zM185 221h5v5h-5zM190 233h3v3h-3zM96 197h4v4h-4zM214 229h4v4h-4zM108 208h3v3h-3zM174 220h4v4h-4zM206 215h5v5h-5zM182 213h3v3h-3zM111 197h5v5h-5zM182 223h5v5h-5zM233 249h4v4h-4zM154 215h4v4h-4zM117 215h3v3h-3zM104 192h4v4h-4zM223 227h4v4h-4zM108 207h3v3h-3zM128 204h5v5h-5zM119 210h4v4h-4zM133 207h4v4h-4zM114 215h3v3h-3zM242 249h5v5h-5zM97 194h3v3h-3zM226 240h4v4h-4zM129 216h3v3h-3zM137 181h4v4h-4zM180 221h5v5h-5z" fill="#e7ff2b"/>
<path d="M154 216h3v3h-3zM110 190h4v4h-4zM99 200h5v5h-5zM95 194h4v4h-4zM133 219h5v5h-5zM187 241h3v3h-3zM280 248h5v5h-5zM144 201h3v3h-3zM108 212h3v3h-3zM124 219h3v3h-3zM136 221h4v4h-4zM136 213h4v4h-4zM198 227h4v4h-4zM173 224h4v4h-4zM234 234h3v3h-3zM102 193h4v4h-4zM172 221h3v3h-3zM98 206h3v3h-3zM100 196h4v4h-4zM204 229h5v5h-5zM96 193h4v4h-4zM115 197h4v4h-4zM127 201h3v3h-3zM173 222h3v3h-3zM117 192h5v5h-5zM165 208h3v3h-3zM132 207h3v3h-3zM174 221h3v3h-3zM150 223h3v3h-3z" fill="#f8ff19"/>
<path d="M127 190h5v5h-5zM173 215h3v3h-3zM114 200h4v4h-4zM108 191h5v5h-5zM145 209h4v4h-4zM137 194h4v4h-4zM120 180h5v5h-5zM114 203h3v3h-3zM112 184h3v3h-3zM138 214h4v4h-4zM95 200h5v5h-5zM169 208h3v3h-3zM129 218h3v3h-3zM200 231h3v3h-3zM104 203h3v3h-3zM137 200h3v3h-3z" fill="#fff314"/>
<path d="M102 203h4v4h-4zM159 221h5v5h-5zM158 214h5v5h-5zM119 202h3v3h-3zM107 204h4v4h-4zM96 204h3v3h-3z" fill="#ffe114"/>
<path d="M101 199h4v4h-4z" fill="#ffbd14"/>
</g></g>
<path d="M114.3,183.7 L116.1,190.2 L117.9,191.0 L127.5,190.0 L129.7,188.8 L133.8,182.2 L133.6,180.8 L127.5,178.4 L125.1,178.6 L115.5,182.1 Z M133.4,194.7 L136.3,190.5 L138.5,190.2 L149.3,192.6 L152.7,194.2 L163.5,202.0 L163.9,203.2 L155.5,203.2 L152.7,202.6 L143.1,199.1 L140.6,198.1 L133.9,195.8 Z M121.2,204.1 L125.3,203.3 L126.8,203.7 L132.2,207.2 L132.8,207.9 L131.2,209.5 L129.9,209.6 L123.1,208.8 L121.8,208.2 L120.7,204.7 Z M149.4,211.1 L161.7,210.8 L165.3,211.5 L176.3,216.9 L177.3,218.0 L172.7,220.3 L170.2,220.1 L158.8,217.2 L155.9,216.0 L148.6,211.9 Z M186.8,217.7 L193.9,214.7 L196.7,214.2 L207.6,214.2 L209.7,214.7 L212.1,217.7 L210.6,218.5 L198.6,220.3 L195.4,220.3 L187.0,218.5 Z M212.6,223.6 L216.4,219.8 L218.6,219.1 L228.4,218.1 L231.2,218.3 L238.8,220.4 L240.4,221.4 L242.6,225.5 L242.2,226.8 L236.8,230.4 L234.3,231.0 L223.7,231.4 L221.0,231.1 L215.0,229.0 L213.8,228.2 L212.2,224.7 Z M276.6,230.9 L280.4,229.0 L281.8,228.9 L287.2,230.0 L288.1,230.6 L288.9,232.8 L288.3,233.3 L283.7,233.8 L282.2,233.6 L276.8,231.5 Z M249.2,235.9 L253.3,234.3 L255.4,234.2 L264.6,235.5 L267.2,236.2 L274.8,239.7 L276.4,240.8 L278.6,244.6 L278.2,245.7 L272.8,248.5 L270.6,248.8 L261.4,247.4 L258.9,246.6 L252.1,242.8 L250.7,241.5 L248.8,236.9 Z M216.7,242.7 L221.3,239.7 L223.4,239.3 L232.6,239.6 L235.0,240.2 L241.5,243.7 L241.8,244.7 L237.7,248.2 L235.2,248.7 L223.8,249.0 L221.3,248.3 L216.7,243.9 Z M303.7,256.0 L308.3,254.4 L310.1,254.6 L316.9,256.8 L317.8,257.6 L316.2,260.3 L314.8,260.6 L307.2,260.3 L305.6,259.7 L303.4,256.7 Z" fill="#ffffff" fill-opacity="0.65" stroke="#3a3a3a" stroke-width="1.4" stroke-linejoin="round"/>
<path d="M92.7,188.2 L103.0,181.2 L113.5,174.7 L119.3,173.7 L125.8,174.4 L130.2,175.1 L135.3,176.9 L145.0,180.9 L158.3,186.9 L174.3,196.2 L191.7,201.5 L211.7,206.9 L227.7,210.9 L243.7,211.7 L255.0,215.5 L270.0,220.2 L283.5,225.7 L294.7,232.7 L312.0,245.2 L325.3,256.5 L320.0,265.2 L289.0,265.2 L260.0,263.7 L230.0,256.7 L190.0,246.0 L166.4,239.5 L150.0,233.7 L130.0,225.7 L117.1,219.2 L109.8,216.6 L102.5,212.6 L97.5,208.9 L95.3,204.2 L94.3,196.2 Z" fill="none" stroke="#3a3a3a" stroke-width="1.6" stroke-linejoin="round"/>
<clipPath id="clipA1"><path d="M92.7,134.1 L103.0,127.1 L113.5,120.6 L119.3,119.6 L125.8,120.3 L130.2,121.0 L135.3,122.8 L145.0,126.8 L158.3,132.8 L174.3,142.1 L191.7,147.4 L211.7,152.8 L227.7,156.8 L243.7,157.6 L255.0,161.4 L270.0,166.1 L283.5,171.6 L294.7,178.6 L312.0,191.1 L325.3,202.4 L320.0,211.1 L289.0,211.1 L260.0,209.6 L230.0,202.6 L190.0,191.9 L166.4,185.4 L150.0,179.6 L130.0,171.6 L117.1,165.1 L109.8,162.5 L102.5,158.5 L97.5,154.8 L95.3,150.1 L94.3,142.1 Z"/></clipPath>
<path d="M92.7,134.1 L103.0,127.1 L113.5,120.6 L119.3,119.6 L125.8,120.3 L130.2,121.0 L135.3,122.8 L145.0,126.8 L158.3,132.8 L174.3,142.1 L191.7,147.4 L211.7,152.8 L227.7,156.8 L243.7,157.6 L255.0,161.4 L270.0,166.1 L283.5,171.6 L294.7,178.6 L312.0,191.1 L325.3,202.4 L320.0,211.1 L289.0,211.1 L260.0,209.6 L230.0,202.6 L190.0,191.9 L166.4,185.4 L150.0,179.6 L130.0,171.6 L117.1,165.1 L109.8,162.5 L102.5,158.5 L97.5,154.8 L95.3,150.1 L94.3,142.1 Z M114.3,129.6 L116.1,136.1 L117.9,136.9 L127.5,135.9 L129.7,134.7 L133.8,128.1 L133.6,126.7 L127.5,124.3 L125.1,124.5 L115.5,128.0 Z M133.4,140.6 L136.3,136.4 L138.5,136.1 L149.3,138.5 L152.7,140.1 L163.5,147.9 L163.9,149.1 L155.5,149.1 L152.7,148.5 L143.1,145.0 L140.6,144.0 L133.9,141.7 Z M121.2,150.0 L125.3,149.2 L126.8,149.6 L132.2,153.1 L132.8,153.8 L131.2,155.4 L129.9,155.5 L123.1,154.7 L121.8,154.1 L120.7,150.6 Z M149.4,157.0 L161.7,156.7 L165.3,157.4 L176.3,162.8 L177.3,163.9 L172.7,166.2 L170.2,166.0 L158.8,163.1 L155.9,161.9 L148.6,157.8 Z M186.8,163.6 L193.9,160.6 L196.7,160.1 L207.6,160.1 L209.7,160.6 L212.1,163.6 L210.6,164.4 L198.6,166.2 L195.4,166.2 L187.0,164.4 Z M212.6,169.5 L216.4,165.7 L218.6,165.0 L228.4,164.0 L231.2,164.2 L238.8,166.3 L240.4,167.3 L242.6,171.4 L242.2,172.7 L236.8,176.3 L234.3,176.9 L223.7,177.3 L221.0,177.0 L215.0,174.9 L213.8,174.1 L212.2,170.6 Z M276.6,176.8 L280.4,174.9 L281.8,174.8 L287.2,175.9 L288.1,176.5 L288.9,178.7 L288.3,179.2 L283.7,179.7 L282.2,179.5 L276.8,177.4 Z M249.2,181.8 L253.3,180.2 L255.4,180.1 L264.6,181.4 L267.2,182.1 L274.8,185.6 L276.4,186.7 L278.6,190.5 L278.2,191.6 L272.8,194.4 L270.6,194.7 L261.4,193.3 L258.9,192.5 L252.1,188.7 L250.7,187.4 L248.8,182.8 Z M216.7,188.6 L221.3,185.6 L223.4,185.2 L232.6,185.5 L235.0,186.1 L241.5,189.6 L241.8,190.6 L237.7,194.1 L235.2,194.6 L223.8,194.9 L221.3,194.2 L216.7,189.8 Z M303.7,201.9 L308.3,200.3 L310.1,200.5 L316.9,202.7 L317.8,203.5 L316.2,206.2 L314.8,206.5 L307.2,206.2 L305.6,205.6 L303.4,202.6 Z" fill="#dadada" fill-rule="evenodd"/>
<g clip-path="url(#clipA1)"><g filter="url(#dotblur)" opacity="0.8">
<path d="M273 202h4v4h-4zM233 187h4v4h-4zM300 208h3v3h-3zM297 191h5v5h-5zM267 200h4v4h-4zM291 204h3v3h-3z" fill="#b2ff5f"/>
<path d="M271 187h5v5h-5zM296 197h3v3h-3zM275 186h3v3h-3zM306 201h4v4h-4zM275 195h3v3h-3zM308 199h4v4h-4zM242 193h3v3h-3zM280 201h3v3h-3zM276 204h3v3h-3zM254 175h3v3h-3zM284 198h5v5h-5zM303 200h4v4h-4z" fill="#c4ff4e"/>
<path d="M311 209h5v5h-5zM315 201h4v4h-4zM277 185h4v4h-4zM263 187h3v3h-3zM233 202h4v4h-4zM297 202h5v5h-5zM298 202h4v4h-4zM265 206h4v4h-4zM278 201h5v5h-5zM285 204h5v5h-5zM255 207h3v3h-3zM250 189h5v5h-5zM288 191h5v5h-5zM247 182h4v4h-4zM304 196h4v4h-4zM277 193h3v3h-3zM243 187h5v5h-5zM270 199h4v4h-4zM288 208h5v5h-5zM312 194h3v3h-3zM273 186h3v3h-3zM302 209h3v3h-3zM232 181h3v3h-3zM309 197h4v4h-4zM237 194h3v3h-3zM241 189h3v3h-3zM296 210h4v4h-4zM275 197h4v4h-4zM245 189h4v4h-4zM234 186h4v4h-4zM245 203h3v3h-3zM246 187h4v4h-4zM267 196h4v4h-4zM307 211h5v5h-5z" fill="#d5ff3c"/>
<path d="M255 188h4v4h-4zM232 174h3v3h-3zM217 185h3v3h-3zM272 185h4v4h-4zM267 190h3v3h-3zM304 197h4v4h-4zM254 188h4v4h-4zM311 203h5v5h-5zM240 190h3v3h-3zM304 194h3v3h-3zM214 188h3v3h-3zM270 197h3v3h-3zM257 198h3v3h-3zM240 194h4v4h-4zM230 194h4v4h-4zM300 196h3v3h-3zM260 181h3v3h-3zM241 184h3v3h-3zM272 191h5v5h-5zM310 204h3v3h-3zM262 191h3v3h-3zM315 199h3v3h-3zM221 180h3v3h-3zM232 188h3v3h-3zM258 190h3v3h-3zM222 183h5v5h-5zM250 179h4v4h-4zM220 175h3v3h-3zM301 198h4v4h-4zM269 193h3v3h-3zM253 183h4v4h-4zM252 203h3v3h-3zM258 208h4v4h-4zM231 196h4v4h-4zM235 193h4v4h-4zM287 192h5v5h-5zM289 187h3v3h-3zM273 210h5v5h-5zM264 201h3v3h-3zM227 173h4v4h-4zM268 191h4v4h-4zM223 175h3v3h-3zM274 194h3v3h-3zM269 173h5v5h-5zM257 186h4v4h-4zM206 174h4v4h-4z" fill="#e7ff2b"/>
<path d="M252 187h4v4h-4zM249 174h4v4h-4zM229 174h3v3h-3zM235 194h4v4h-4zM261 181h5v5h-5zM269 200h3v3h-3zM246 176h4v4h-4zM271 190h3v3h-3zM240 188h4v4h-4zM264 183h4v4h-4zM198 175h3v3h-3zM240 194h3v3h-3zM193 165h3v3h-3zM254 203h3v3h-3zM280 193h3v3h-3zM319 204h3v3h-3zM285 183h3v3h-3zM195 174h4v4h-4zM199 162h3v3h-3zM235 186h4v4h-4zM229 173h3v3h-3zM252 184h5v5h-5zM288 192h5v5h-5zM310 209h4v4h-4zM229 161h3v3h-3zM182 178h3v3h-3zM299 206h3v3h-3zM256 188h4v4h-4zM286 196h4v4h-4zM213 179h5v5h-5zM265 191h4v4h-4zM249 183h3v3h-3zM229 186h4v4h-4zM199 176h4v4h-4zM205 190h5v5h-5zM196 174h3v3h-3zM236 179h3v3h-3zM320 205h4v4h-4zM204 180h3v3h-3zM219 194h3v3h-3zM241 194h3v3h-3z" fill="#f8ff19"/>
<path d="M225 198h4v4h-4zM289 199h4v4h-4zM180 168h4v4h-4zM198 171h3v3h-3zM171 163h3v3h-3zM211 172h3v3h-3zM194 156h4v4h-4zM226 190h4v4h-4zM207 185h4v4h-4zM207 166h3v3h-3zM241 180h4v4h-4zM210 171h3v3h-3zM244 202h3v3h-3zM244 189h4v4h-4zM271 185h4v4h-4zM233 171h5v5h-5zM244 181h5v5h-5zM209 167h3v3h-3zM233 193h3v3h-3zM185 179h5v5h-5zM211 171h4v4h-4zM287 207h3v3h-3zM212 173h4v4h-4zM182 176h4v4h-4zM176 186h3v3h-3zM177 166h3v3h-3zM236 172h3v3h-3zM229 184h4v4h-4zM221 190h3v3h-3zM225 164h3v3h-3zM217 173h3v3h-3zM201 189h3v3h-3zM180 171h5v5h-5zM190 179h3v3h-3zM193 186h4v4h-4zM230 196h4v4h-4z" fill="#fff314"/>
<path d="M199 179h4v4h-4zM218 184h4v4h-4zM233 194h3v3h-3zM159 173h3v3h-3zM189 184h5v5h-5zM220 189h4v4h-4zM194 167h5v5h-5zM181 163h4v4h-4zM229 181h4v4h-4zM192 189h4v4h-4zM195 169h3v3h-3zM215 171h4v4h-4zM238 173h5v5h-5zM225 188h4v4h-4zM167 184h5v5h-5zM174 160h4v4h-4zM171 175h3v3h-3zM216 182h5v5h-5zM189 164h3v3h-3zM181 174h3v3h-3z" fill="#ffe114"/>
<path d="M176 168h4v4h-4zM211 180h4v4h-4zM170 166h4v4h-4zM206 192h4v4h-4zM203 165h3v3h-3zM171 176h3v3h-3zM186 166h4v4h-4zM170 164h4v4h-4zM156 178h5v5h-5zM178 184h5v5h-5zM179 175h3v3h-3zM208 171h4v4h-4zM196 184h3v3h-3zM187 174h3v3h-3zM184 162h3v3h-3zM176 163h4v4h-4zM204 170h3v3h-3zM162 153h3v3h-3zM182 176h5v5h-5zM194 171h3v3h-3zM200 180h3v3h-3z" fill="#ffcf14"/>
<path d="M178 180h5v5h-5zM157 170h5v5h-5zM166 160h4v4h-4zM158 159h4v4h-4zM180 170h4v4h-4zM170 156h3v3h-3zM164 165h4v4h-4zM180 157h5v5h-5zM182 161h4v4h-4zM148 145h3v3h-3zM178 163h4v4h-4zM162 183h3v3h-3zM158 159h5v5h-5zM177 162h4v4h-4zM184 181h3v3h-3zM167 154h3v3h-3zM165 149h4v4h-4zM146 165h5v5h-5zM175 177h4v4h-4zM138 151h3v3h-3zM160 150h3v3h-3zM188 171h3v3h-3z" fill="#ffbd14"/>
<path d="M162 155h5v5h-5zM180 159h3v3h-3zM174 168h3v3h-3zM154 173h4v4h-4zM164 149h3v3h-3zM152 162h4v4h-4zM166 152h4v4h-4zM181 160h3v3h-3zM168 156h3v3h-3zM188 157h4v4h-4zM193 182h5v5h-5zM157 157h5v5h-5zM184 168h3v3h-3zM161 152h3v3h-3zM151 156h4v4h-4zM152 170h4v4h-4zM180 166h3v3h-3zM160 172h5v5h-5zM151 157h3v3h-3zM188 189h4v4h-4zM139 172h4v4h-4zM167 149h3v3h-3zM167 161h3v3h-3zM164 155h5v5h-5zM143 173h5v5h-5z" fill="#ffac14"/>
<path d="M157 159h4v4h-4zM130 142h4v4h-4zM145 161h3v3h-3zM164 156h4v4h-4zM158 161h5v5h-5zM129 150h5v5h-5zM143 146h4v4h-4zM147 151h5v5h-5zM138 150h3v3h-3zM145 166h5v5h-5zM159 158h5v5h-5zM158 166h4v4h-4zM142 150h3v3h-3zM150 152h4v4h-4zM149 156h5v5h-5zM154 169h5v5h-5zM135 149h3v3h-3z" fill="#ff9a14"/>
<path d="M150 151h3v3h-3zM142 170h4v4h-4zM115 149h5v5h-5zM140 163h3v3h-3zM128 154h3v3h-3zM125 125h5v5h-5zM159 154h3v3h-3zM166 147h5v5h-5zM169 161h3v3h-3zM135 125h3v3h-3zM134 143h4v4h-4zM132 165h3v3h-3zM137 160h4v4h-4zM149 164h4v4h-4zM144 160h4v4h-4zM111 152h3v3h-3zM138 132h4v4h-4zM168 158h3v3h-3zM125 152h3v3h-3zM139 168h4v4h-4zM142 169h3v3h-3zM122 159h3v3h-3z" fill="#ff8914"/>
<path d="M109 139h4v4h-4zM132 160h5v5h-5zM103 148h3v3h-3zM126 156h5v5h-5zM111 149h4v4h-4zM118 140h3v3h-3zM130 153h5v5h-5zM133 154h4v4h-4zM105 140h3v3h-3zM110 146h4v4h-4zM105 139h3v3h-3zM135 149h3v3h-3zM119 163h5v5h-5zM142 151h4v4h-4zM117 152h4v4h-4zM130 167h5v5h-5zM124 155h4v4h-4zM103 134h4v4h-4zM133 172h4v4h-4zM118 146h3v3h-3zM121 147h4v4h-4zM115 162h4v4h-4z" fill="#ff7714"/>
<path d="M128 161h3v3h-3zM123 150h5v5h-5zM106 142h3v3h-3zM121 161h3v3h-3zM96 151h4v4h-4zM117 139h4v4h-4zM134 147h4v4h-4zM123 150h3v3h-3zM130 152h3v3h-3zM116 164h5v5h-5zM108 137h3v3h-3zM123 120h4v4h-4zM126 157h5v5h-5zM123 130h5v5h-5z" fill="#ff6614"/>
<path d="M103 157h4v4h-4zM111 154h4v4h-4zM117 134h5v5h-5zM114 150h3v3h-3zM114 140h3v3h-3zM105 148h4v4h-4zM112 151h3v3h-3zM105 147h3v3h-3zM110 145h4v4h-4zM119 124h5v5h-5zM117 162h3v3h-3zM107 146h4v4h-4z" fill="#ff5414"/>
<path d="M127 169h3v3h-3zM101 154h5v5h-5zM119 133h4v4h-4zM106 135h3v3h-3zM118 153h3v3h-3z" fill="#ff4314"/>
<path d="M107 147h3v3h-3zM98 137h3v3h-3zM109 151h4v4h-4z" fill="#ff3014"/>
<path d="M104 137h3v3h-3zM96 147h4v4h-4z" fill="#ff1f14"/>
</g></g>
<path d="M114.3,129.6 L116.1,136.1 L117.9,136.9 L127.5,135.9 L129.7,134.7 L133.8,128.1 L133.6,126.7 L127.5,124.3 L125.1,124.5 L115.5,128.0 Z M133.4,140.6 L136.3,136.4 L138.5,136.1 L149.3,138.5 L152.7,140.1 L163.5,147.9 L163.9,149.1 L155.5,149.1 L152.7,148.5 L143.1,145.0 L140.6,144.0 L133.9,141.7 Z M121.2,150.0 L125.3,149.2 L126.8,149.6 L132.2,153.1 L132.8,153.8 L131.2,155.4 L129.9,155.5 L123.1,154.7 L121.8,154.1 L120.7,150.6 Z M149.4,157.0 L161.7,156.7 L165.3,157.4 L176.3,162.8 L177.3,163.9 L172.7,166.2 L170.2,166.0 L158.8,163.1 L155.9,161.9 L148.6,157.8 Z M186.8,163.6 L193.9,160.6 L196.7,160.1 L207.6,160.1 L209.7,160.6 L212.1,163.6 L210.6,164.4 L198.6,166.2 L195.4,166.2 L187.0,164.4 Z M212.6,169.5 L216.4,165.7 L218.6,165.0 L228.4,164.0 L231.2,164.2 L238.8,166.3 L240.4,167.3 L242.6,171.4 L242.2,172.7 L236.8,176.3 L234.3,176.9 L223.7,177.3 L221.0,177.0 L215.0,174.9 L213.8,174.1 L212.2,170.6 Z M276.6,176.8 L280.4,174.9 L281.8,174.8 L287.2,175.9 L288.1,176.5 L288.9,178.7 L288.3,179.2 L283.7,179.7 L282.2,179.5 L276.8,177.4 Z M249.2,181.8 L253.3,180.2 L255.4,180.1 L264.6,181.4 L267.2,182.1 L274.8,185.6 L276.4,186.7 L278.6,190.5 L278.2,191.6 L272.8,194.4 L270.6,194.7 L261.4,193.3 L258.9,192.5 L252.1,188.7 L250.7,187.4 L248.8,182.8 Z M216.7,188.6 L221.3,185.6 L223.4,185.2 L232.6,185.5 L235.0,186.1 L241.5,189.6 L241.8,190.6 L237.7,194.1 L235.2,194.6 L223.8,194.9 L221.3,194.2 L216.7,189.8 Z M303.7,201.9 L308.3,200.3 L310.1,200.5 L316.9,202.7 L317.8,203.5 L316.2,206.2 L314.8,206.5 L307.2,206.2 L305.6,205.6 L303.4,202.6 Z" fill="#ffffff" fill-opacity="0.65" stroke="#3a3a3a" stroke-width="1.4" stroke-linejoin="round"/>
<path d="M92.7,134.1 L103.0,127.1 L113.5,120.6 L119.3,119.6 L125.8,120.3 L130.2,121.0 L135.3,122.8 L145.0,126.8 L158.3,132.8 L174.3,142.1 L191.7,147.4 L211.7,152.8 L227.7,156.8 L243.7,157.6 L255.0,161.4 L270.0,166.1 L283.5,171.6 L294.7,178.6 L312.0,191.1 L325.3,202.4 L320.0,211.1 L289.0,211.1 L260.0,209.6 L230.0,202.6 L190.0,191.9 L166.4,185.4 L150.0,179.6 L130.0,171.6 L117.1,165.1 L109.8,162.5 L102.5,158.5 L97.5,154.8 L95.3,150.1 L94.3,142.1 Z" fill="none" stroke="#3a3a3a" stroke-width="1.6" stroke-linejoin="round"/>
<clipPath id="clipA0"><path d="M92.7,80.0 L103.0,73.0 L113.5,66.5 L119.3,65.5 L125.8,66.2 L130.2,66.9 L135.3,68.7 L145.0,72.7 L158.3,78.7 L174.3,88.0 L191.7,93.3 L211.7,98.7 L227.7,102.7 L243.7,103.5 L255.0,107.3 L270.0,112.0 L283.5,117.5 L294.7,124.5 L312.0,137.0 L325.3,148.3 L320.0,157.0 L289.0,157.0 L260.0,155.5 L230.0,148.5 L190.0,137.8 L166.4,131.3 L150.0,125.5 L130.0,117.5 L117.1,111.0 L109.8,108.4 L102.5,104.4 L97.5,100.7 L95.3,96.0 L94.3,88.0 Z"/></clipPath>
<path d="M92.7,80.0 L103.0,73.0 L113.5,66.5 L119.3,65.5 L125.8,66.2 L130.2,66.9 L135.3,68.7 L145.0,72.7 L158.3,78.7 L174.3,88.0 L191.7,93.3 L211.7,98.7 L227.7,102.7 L243.7,103.5 L255.0,107.3 L270.0,112.0 L283.5,117.5 L294.7,124.5 L312.0,137.0 L325.3,148.3 L320.0,157.0 L289.0,157.0 L260.0,155.5 L230.0,148.5 L190.0,137.8 L166.4,131.3 L150.0,125.5 L130.0,117.5 L117.1,111.0 L109.8,108.4 L102.5,104.4 L97.5,100.7 L95.3,96.0 L94.3,88.0 Z M114.3,75.5 L116.1,82.0 L117.9,82.8 L127.5,81.8 L129.7,80.6 L133.8,74.0 L133.6,72.6 L127.5,70.2 L125.1,70.4 L115.5,73.9 Z M133.4,86.5 L136.3,82.3 L138.5,82.0 L149.3,84.4 L152.7,86.0 L163.5,93.8 L163.9,95.0 L155.5,95.0 L152.7,94.4 L143.1,90.9 L140.6,89.9 L133.9,87.6 Z M121.2,95.9 L125.3,95.1 L126.8,95.5 L132.2,99.0 L132.8,99.7 L131.2,101.3 L129.9,101.4 L123.1,100.6 L121.8,100.0 L120.7,96.5 Z M149.4,102.9 L161.7,102.6 L165.3,103.3 L176.3,108.7 L177.3,109.8 L172.7,112.1 L170.2,111.9 L158.8,109.0 L155.9,107.8 L148.6,103.7 Z M186.8,109.5 L193.9,106.5 L196.7,106.0 L207.6,106.0 L209.7,106.5 L212.1,109.5 L210.6,110.3 L198.6,112.1 L195.4,112.1 L187.0,110.3 Z M212.6,115.4 L216.4,111.6 L218.6,110.9 L228.4,109.9 L231.2,110.1 L238.8,112.2 L240.4,113.2 L242.6,117.3 L242.2,118.6 L236.8,122.2 L234.3,122.8 L223.7,123.2 L221.0,122.9 L215.0,120.8 L213.8,120.0 L212.2,116.5 Z M276.6,122.7 L280.4,120.8 L281.8,120.7 L287.2,121.8 L288.1,122.4 L288.9,124.6 L288.3,125.1 L283.7,125.6 L282.2,125.4 L276.8,123.3 Z M249.2,127.7 L253.3,126.1 L255.4,126.0 L264.6,127.3 L267.2,128.0 L274.8,131.5 L276.4,132.6 L278.6,136.4 L278.2,137.5 L272.8,140.3 L270.6,140.6 L261.4,139.2 L258.9,138.4 L252.1,134.6 L250.7,133.3 L248.8,128.7 Z M216.7,134.5 L221.3,131.5 L223.4,131.1 L232.6,131.4 L235.0,132.0 L241.5,135.5 L241.8,136.5 L237.7,140.0 L235.2,140.5 L223.8,140.8 L221.3,140.1 L216.7,135.7 Z M303.7,147.8 L308.3,146.2 L310.1,146.4 L316.9,148.6 L317.8,149.4 L316.2,152.1 L314.8,152.4 L307.2,152.1 L305.6,151.5 L303.4,148.5 Z" fill="#dadada" fill-rule="evenodd"/>
<g clip-path="url(#clipA0)"><g filter="url(#dotblur)" opacity="0.8">
<path d="M288 143h3v3h-3zM295 145h4v4h-4zM308 140h4v4h-4zM281 147h3v3h-3zM288 155h5v5h-5z" fill="#c4ff4e"/>
<path d="M281 152h3v3h-3zM317 152h4v4h-4zM308 153h4v4h-4zM256 132h4v4h-4zM302 153h3v3h-3zM289 145h3v3h-3zM242 129h3v3h-3zM304 143h3v3h-3zM317 142h3v3h-3zM261 135h3v3h-3zM244 127h3v3h-3z" fill="#d5ff3c"/>
<path d="M243 128h5v5h-5zM254 129h5v5h-5zM315 145h4v4h-4zM306 152h4v4h-4zM245 136h3v3h-3zM230 131h4v4h-4zM302 131h3v3h-3zM278 149h3v3h-3zM247 133h3v3h-3zM247 138h5v5h-5zM251 143h4v4h-4zM289 149h4v4h-4zM304 133h4v4h-4zM309 136h5v5h-5zM261 145h3v3h-3zM256 146h3v3h-3zM282 136h3v3h-3zM255 142h4v4h-4zM275 135h3v3h-3zM299 156h3v3h-3zM238 139h5v5h-5zM275 132h5v5h-5zM270 136h3v3h-3zM302 156h3v3h-3zM262 138h3v3h-3zM262 137h4v4h-4zM315 144h5v5h-5zM254 139h4v4h-4zM281 151h4v4h-4zM299 141h3v3h-3z" fill="#e7ff2b"/>
<path d="M239 150h4v4h-4zM231 136h3v3h-3zM268 146h4v4h-4zM295 131h3v3h-3zM316 142h5v5h-5zM257 126h4v4h-4zM235 132h4v4h-4zM258 143h3v3h-3zM249 141h4v4h-4zM218 112h3v3h-3zM243 132h3v3h-3zM267 145h3v3h-3zM240 125h4v4h-4zM279 122h3v3h-3zM260 134h4v4h-4zM289 145h4v4h-4zM263 129h4v4h-4zM320 154h4v4h-4zM245 130h3v3h-3zM270 153h5v5h-5zM280 155h3v3h-3zM269 139h3v3h-3zM223 128h4v4h-4zM285 150h5v5h-5zM257 137h3v3h-3zM242 146h5v5h-5z" fill="#f8ff19"/>
<path d="M221 114h4v4h-4zM233 116h4v4h-4zM222 114h3v3h-3zM220 126h3v3h-3zM307 147h3v3h-3zM236 135h3v3h-3zM267 138h3v3h-3zM255 148h5v5h-5zM266 141h3v3h-3zM243 119h4v4h-4zM230 120h3v3h-3zM185 109h3v3h-3zM215 138h4v4h-4zM252 147h5v5h-5zM282 156h4v4h-4zM224 134h3v3h-3zM246 143h3v3h-3zM199 121h3v3h-3zM209 115h5v5h-5zM266 142h3v3h-3zM289 151h4v4h-4zM243 123h3v3h-3zM262 155h5v5h-5zM280 137h3v3h-3zM256 132h3v3h-3zM236 121h3v3h-3zM291 144h3v3h-3zM285 154h4v4h-4z" fill="#fff314"/>
<path d="M272 142h3v3h-3zM244 133h3v3h-3zM203 124h5v5h-5zM266 123h4v4h-4zM265 124h3v3h-3zM235 127h4v4h-4zM226 135h4v4h-4zM214 124h4v4h-4zM231 120h5v5h-5zM210 115h4v4h-4zM255 138h4v4h-4zM208 112h4v4h-4zM252 125h3v3h-3zM232 146h5v5h-5zM234 129h3v3h-3zM230 133h3v3h-3zM248 142h5v5h-5zM237 122h3v3h-3zM279 139h5v5h-5zM228 121h4v4h-4zM255 136h5v5h-5zM244 132h4v4h-4zM233 133h3v3h-3zM240 139h4v4h-4zM203 130h4v4h-4zM224 122h4v4h-4zM207 111h4v4h-4zM274 145h4v4h-4zM239 141h4v4h-4zM189 105h5v5h-5zM246 130h4v4h-4zM212 141h3v3h-3zM260 137h3v3h-3zM243 139h5v5h-5zM237 134h3v3h-3zM264 149h3v3h-3z" fill="#ffe114"/>
<path d="M229 130h4v4h-4zM207 128h5v5h-5zM207 113h3v3h-3zM219 135h3v3h-3zM217 106h3v3h-3zM239 123h3v3h-3zM229 136h3v3h-3zM225 130h4v4h-4zM220 136h5v5h-5zM208 140h4v4h-4zM229 141h3v3h-3zM297 153h3v3h-3zM204 133h4v4h-4zM220 144h3v3h-3zM181 130h4v4h-4zM228 124h3v3h-3zM217 114h3v3h-3zM202 120h3v3h-3zM197 130h3v3h-3zM221 112h5v5h-5zM220 131h5v5h-5zM252 129h4v4h-4zM208 134h5v5h-5zM208 121h5v5h-5zM184 131h3v3h-3zM238 123h3v3h-3zM222 139h3v3h-3zM198 115h4v4h-4zM233 122h3v3h-3zM239 133h4v4h-4z" fill="#ffcf14"/>
<path d="M217 129h4v4h-4zM206 113h4v4h-4zM182 133h5v5h-5zM209 117h4v4h-4zM182 123h3v3h-3zM215 132h4v4h-4zM194 125h3v3h-3zM181 104h3v3h-3zM199 108h3v3h-3zM179 122h4v4h-4zM194 122h4v4h-4zM204 125h4v4h-4zM238 125h5v5h-5zM216 120h3v3h-3zM224 114h4v4h-4zM193 135h5v5h-5zM212 131h5v5h-5zM200 127h3v3h-3zM222 127h5v5h-5zM174 127h3v3h-3zM198 124h3v3h-3zM204 114h3v3h-3z" fill="#ffbd14"/>
<path d="M194 124h3v3h-3zM214 110h5v5h-5zM186 100h3v3h-3zM199 106h4v4h-4zM206 113h5v5h-5zM183 125h5v5h-5zM194 114h4v4h-4zM173 107h4v4h-4zM175 117h3v3h-3zM228 121h3v3h-3zM184 123h5v5h-5zM182 124h3v3h-3zM205 132h4v4h-4zM204 129h4v4h-4zM208 107h5v5h-5zM187 121h4v4h-4zM201 120h4v4h-4zM212 121h3v3h-3zM210 130h5v5h-5zM195 125h4v4h-4zM168 123h5v5h-5zM187 120h3v3h-3zM189 135h5v5h-5z" fill="#ffac14"/>
<path d="M196 135h5v5h-5zM190 121h3v3h-3zM185 115h3v3h-3zM190 120h4v4h-4zM203 131h4v4h-4zM179 129h3v3h-3zM169 122h4v4h-4zM204 110h4v4h-4zM182 111h3v3h-3zM204 111h4v4h-4zM160 113h4v4h-4zM173 132h4v4h-4zM193 123h3v3h-3zM197 125h4v4h-4zM159 112h5v5h-5z" fill="#ff9a14"/>
<path d="M181 120h4v4h-4zM163 113h3v3h-3zM155 101h5v5h-5zM168 113h5v5h-5zM170 120h4v4h-4zM186 102h5v5h-5zM179 110h4v4h-4zM166 115h5v5h-5zM164 115h4v4h-4zM169 131h3v3h-3zM169 96h4v4h-4zM164 99h3v3h-3zM180 111h3v3h-3z" fill="#ff8914"/>
<path d="M167 112h3v3h-3zM168 112h3v3h-3zM160 114h4v4h-4zM148 103h3v3h-3zM172 110h4v4h-4zM179 114h4v4h-4zM172 114h3v3h-3zM154 113h3v3h-3zM153 109h3v3h-3zM158 100h4v4h-4zM181 111h3v3h-3zM163 99h4v4h-4z" fill="#ff7714"/>
<path d="M169 106h4v4h-4zM169 116h3v3h-3zM160 100h4v4h-4zM159 121h3v3h-3zM133 94h3v3h-3zM177 98h3v3h-3zM159 105h4v4h-4zM146 114h3v3h-3zM151 125h4v4h-4zM155 101h3v3h-3zM167 109h3v3h-3zM161 105h4v4h-4zM151 111h4v4h-4z" fill="#ff6614"/>
<path d="M136 115h3v3h-3zM152 105h4v4h-4zM158 114h4v4h-4zM146 117h4v4h-4zM146 112h4v4h-4zM171 116h3v3h-3zM149 94h3v3h-3zM149 108h4v4h-4zM153 95h3v3h-3z" fill="#ff5414"/>
<path d="M122 108h3v3h-3zM136 99h4v4h-4zM144 73h4v4h-4zM159 108h5v5h-5zM141 91h4v4h-4zM137 95h5v5h-5zM131 92h4v4h-4zM141 101h3v3h-3zM147 103h5v5h-5zM141 121h5v5h-5zM135 82h5v5h-5zM152 114h4v4h-4zM152 106h3v3h-3zM139 91h5v5h-5zM151 99h4v4h-4zM145 99h3v3h-3zM131 99h5v5h-5z" fill="#ff4314"/>
<path d="M155 107h4v4h-4zM108 104h3v3h-3zM148 111h5v5h-5zM147 99h4v4h-4zM100 88h4v4h-4zM121 111h3v3h-3zM146 105h3v3h-3zM160 100h5v5h-5zM136 97h3v3h-3zM128 113h3v3h-3zM138 110h3v3h-3zM137 105h3v3h-3zM152 113h4v4h-4zM137 104h4v4h-4zM145 106h4v4h-4zM108 91h3v3h-3zM139 95h3v3h-3zM139 109h4v4h-4z" fill="#ff3014"/>
<path d="M135 96h5v5h-5zM97 94h5v5h-5zM107 85h4v4h-4zM101 93h3v3h-3zM105 90h3v3h-3zM132 93h4v4h-4zM138 102h3v3h-3zM142 97h3v3h-3zM117 86h5v5h-5zM139 101h4v4h-4zM120 92h5v5h-5zM154 115h3v3h-3zM144 98h3v3h-3z" fill="#ff1f14"/>
<path d="M109 102h3v3h-3zM109 95h4v4h-4zM106 92h4v4h-4zM120 90h3v3h-3zM134 103h3v3h-3zM132 87h5v5h-5zM113 96h4v4h-4zM119 78h4v4h-4zM110 99h5v5h-5zM136 89h4v4h-4zM111 87h4v4h-4zM120 90h4v4h-4zM114 77h4v4h-4zM124 86h3v3h-3zM110 99h3v3h-3zM116 80h4v4h-4zM127 97h5v5h-5zM141 109h5v5h-5z" fill="#f81414"/>
<path d="M101 91h4v4h-4zM120 95h3v3h-3zM108 86h5v5h-5zM111 84h5v5h-5zM98 86h4v4h-4zM134 91h4v4h-4zM113 102h3v3h-3zM102 82h3v3h-3zM100 77h3v3h-3zM133 76h4v4h-4zM118 99h4v4h-4zM109 91h3v3h-3z" fill="#e71414"/>
<path d="M103 81h3v3h-3zM96 90h3v3h-3zM105 88h4v4h-4zM104 85h3v3h-3zM97 93h3v3h-3zM106 94h4v4h-4z" fill="#d51414"/>
<path d="M117 85h4v4h-4zM100 81h3v3h-3zM96 88h4v4h-4z" fill="#c41414"/>
</g></g>
<path d="M114.3,75.5 L116.1,82.0 L117.9,82.8 L127.5,81.8 L129.7,80.6 L133.8,74.0 L133.6,72.6 L127.5,70.2 L125.1,70.4 L115.5,73.9 Z M133.4,86.5 L136.3,82.3 L138.5,82.0 L149.3,84.4 L152.7,86.0 L163.5,93.8 L163.9,95.0 L155.5,95.0 L152.7,94.4 L143.1,90.9 L140.6,89.9 L133.9,87.6 Z M121.2,95.9 L125.3,95.1 L126.8,95.5 L132.2,99.0 L132.8,99.7 L131.2,101.3 L129.9,101.4 L123.1,100.6 L121.8,100.0 L120.7,96.5 Z M149.4,102.9 L161.7,102.6 L165.3,103.3 L176.3,108.7 L177.3,109.8 L172.7,112.1 L170.2,111.9 L158.8,109.0 L155.9,107.8 L148.6,103.7 Z M186.8,109.5 L193.9,106.5 L196.7,106.0 L207.6,106.0 L209.7,106.5 L212.1,109.5 L210.6,110.3 L198.6,112.1 L195.4,112.1 L187.0,110.3 Z M212.6,115.4 L216.4,111.6 L218.6,110.9 L228.4,109.9 L231.2,110.1 L238.8,112.2 L240.4,113.2 L242.6,117.3 L242.2,118.6 L236.8,122.2 L234.3,122.8 L223.7,123.2 L221.0,122.9 L215.0,120.8 L213.8,120.0 L212.2,116.5 Z M276.6,122.7 L280.4,120.8 L281.8,120.7 L287.2,121.8 L288.1,122.4 L288.9,124.6 L288.3,125.1 L283.7,125.6 L282.2,125.4 L276.8,123.3 Z M249.2,127.7 L253.3,126.1 L255.4,126.0 L264.6,127.3 L267.2,128.0 L274.8,131.5 L276.4,132.6 L278.6,136.4 L278.2,137.5 L272.8,140.3 L270.6,140.6 L261.4,139.2 L258.9,138.4 L252.1,134.6 L250.7,133.3 L248.8,128.7 Z M216.7,134.5 L221.3,131.5 L223.4,131.1 L232.6,131.4 L235.0,132.0 L241.5,135.5 L241.8,136.5 L237.7,140.0 L235.2,140.5 L223.8,140.8 L221.3,140.1 L216.7,135.7 Z M303.7,147.8 L308.3,146.2 L310.1,146.4 L316.9,148.6 L317.8,149.4 L316.2,152.1 L314.8,152.4 L307.2,152.1 L305.6,151.5 L303.4,148.5 Z" fill="#ffffff" fill-opacity="0.65" stroke="#3a3a3a" stroke-width="1.4" stroke-linejoin="round"/>
<path d="M92.7,80.0 L103.0,73.0 L113.5,66.5 L119.3,65.5 L125.8,66.2 L130.2,66.9 L135.3,68.7 L145.0,72.7 L158.3,78.7 L174.3,88.0 L191.7,93.3 L211.7,98.7 L227.7,102.7 L243.7,103.5 L255.0,107.3 L270.0,112.0 L283.5,117.5 L294.7,124.5 L312.0,137.0 L325.3,148.3 L320.0,157.0 L289.0,157.0 L260.0,155.5 L230.0,148.5 L190.0,137.8 L166.4,131.3 L150.0,125.5 L130.0,117.5 L117.1,111.0 L109.8,108.4 L102.5,104.4 L97.5,100.7 L95.3,96.0 L94.3,88.0 Z" fill="none" stroke="#3a3a3a" stroke-width="1.6" stroke-linejoin="round"/>
<line x1="59.0" y1="480.5" x2="59.0" y2="50.1" stroke="#4a4a4a" stroke-width="1.4" />
<line x1="59.0" y1="480.5" x2="301.3" y2="551.5" stroke="#4a4a4a" stroke-width="1.4" />
<line x1="301.3" y1="551.5" x2="351.5" y2="509.3" stroke="#4a4a4a" stroke-width="1.4" />
<line x1="59.0" y1="480.5" x2="49.9" y2="477.8" stroke="#4a4a4a" stroke-width="1.3" />
<line x1="59.0" y1="372.9" x2="49.9" y2="370.2" stroke="#4a4a4a" stroke-width="1.3" />
<line x1="59.0" y1="265.3" x2="49.9" y2="262.6" stroke="#4a4a4a" stroke-width="1.3" />
<line x1="59.0" y1="157.7" x2="49.9" y2="155.0" stroke="#4a4a4a" stroke-width="1.3" />
<line x1="59.0" y1="50.1" x2="49.9" y2="47.4" stroke="#4a4a4a" stroke-width="1.3" />
<line x1="72.9" y1="484.6" x2="65.7" y2="490.7" stroke="#4a4a4a" stroke-width="1.3" />
<line x1="126.5" y1="500.3" x2="119.3" y2="506.4" stroke="#4a4a4a" stroke-width="1.3" />
<line x1="180.1" y1="516.0" x2="172.9" y2="522.1" stroke="#4a4a4a" stroke-width="1.3" />
<line x1="233.7" y1="531.7" x2="226.5" y2="537.8" stroke="#4a4a4a" stroke-width="1.3" />
<line x1="287.3" y1="547.4" x2="280.1" y2="553.5" stroke="#4a4a4a" stroke-width="1.3" />
<line x1="308.1" y1="545.7" x2="317.2" y2="548.4" stroke="#4a4a4a" stroke-width="1.3" />
<line x1="324.4" y1="532.0" x2="333.5" y2="534.7" stroke="#4a4a4a" stroke-width="1.3" />
<line x1="340.7" y1="518.3" x2="349.8" y2="521.0" stroke="#4a4a4a" stroke-width="1.3" />
<text x="41.5" y="483.0" text-anchor="end" font-size="16" fill="#555555" stroke="#555555" stroke-width="0.35" style="font-family:'Liberation Sans',Arial,sans-serif">16</text>
<text x="41.5" y="375.4" text-anchor="end" font-size="16" fill="#555555" stroke="#555555" stroke-width="0.35" style="font-family:'Liberation Sans',Arial,sans-serif">18</text>
<text x="41.5" y="267.8" text-anchor="end" font-size="16" fill="#555555" stroke="#555555" stroke-width="0.35" style="font-family:'Liberation Sans',Arial,sans-serif">20</text>
<text x="41.5" y="160.2" text-anchor="end" font-size="16" fill="#555555" stroke="#555555" stroke-width="0.35" style="font-family:'Liberation Sans',Arial,sans-serif">22</text>
<text x="41.5" y="52.6" text-anchor="end" font-size="16" fill="#555555" stroke="#555555" stroke-width="0.35" style="font-family:'Liberation Sans',Arial,sans-serif">24</text>
<text x="58.4" y="513.6" text-anchor="middle" font-size="16" fill="#555555" stroke="#555555" stroke-width="0.35" style="font-family:'Liberation Sans',Arial,sans-serif">2</text>
<text x="112.0" y="529.3" text-anchor="middle" font-size="16" fill="#555555" stroke="#555555" stroke-width="0.35" style="font-family:'Liberation Sans',Arial,sans-serif">1</text>
<text x="165.6" y="545.0" text-anchor="middle" font-size="16" fill="#555555" stroke="#555555" stroke-width="0.35" style="font-family:'Liberation Sans',Arial,sans-serif">0</text>
<text x="219.2" y="560.7" text-anchor="middle" font-size="16" fill="#555555" stroke="#555555" stroke-width="0.35" style="font-family:'Liberation Sans',Arial,sans-serif">-1</text>
<text x="272.8" y="576.4" text-anchor="middle" font-size="16" fill="#555555" stroke="#555555" stroke-width="0.35" style="font-family:'Liberation Sans',Arial,sans-serif">-2</text>
<text x="325.6" y="567.7" text-anchor="start" font-size="16" fill="#555555" stroke="#555555" stroke-width="0.35" style="font-family:'Liberation Sans',Arial,sans-serif">-0.5</text>
<text x="341.9" y="554.0" text-anchor="start" font-size="16" fill="#555555" stroke="#555555" stroke-width="0.35" style="font-family:'Liberation Sans',Arial,sans-serif">0</text>
<text x="358.2" y="540.3" text-anchor="start" font-size="16" fill="#555555" stroke="#555555" stroke-width="0.35" style="font-family:'Liberation Sans',Arial,sans-serif">0.5</text>
<text x="16.0" y="262.0" text-anchor="middle" font-size="19" fill="#333333" stroke="#333333" stroke-width="0.35" style="font-family:'Liberation Sans',Arial,sans-serif" transform="rotate(-90 16.0 262.0)">z (mm)</text>
<text x="166.6" y="585.5" text-anchor="middle" font-size="19" fill="#333333" stroke="#333333" stroke-width="0.35" style="font-family:'Liberation Sans',Arial,sans-serif">y (mm)</text>
<text x="358.6" y="587.0" text-anchor="middle" font-size="19" fill="#333333" stroke="#333333" stroke-width="0.35" style="font-family:'Liberation Sans',Arial,sans-serif">x (mm)</text>
</g>
<g filter="url(#soft)">
<line x1="436.3" y1="484.1" x2="486.5" y2="441.9" stroke="#e3e3e3" stroke-width="1.2" />
<line x1="489.9" y1="499.8" x2="540.1" y2="457.6" stroke="#e3e3e3" stroke-width="1.2" />
<line x1="543.5" y1="515.5" x2="593.7" y2="473.3" stroke="#e3e3e3" stroke-width="1.2" />
<line x1="597.1" y1="531.2" x2="647.3" y2="489.0" stroke="#e3e3e3" stroke-width="1.2" />
<line x1="650.7" y1="546.9" x2="700.9" y2="504.7" stroke="#e3e3e3" stroke-width="1.2" />
<line x1="429.2" y1="474.2" x2="671.5" y2="545.2" stroke="#e3e3e3" stroke-width="1.2" />
<line x1="445.5" y1="460.5" x2="687.8" y2="531.5" stroke="#e3e3e3" stroke-width="1.2" />
<line x1="461.8" y1="446.8" x2="704.1" y2="517.8" stroke="#e3e3e3" stroke-width="1.2" />
<line x1="429.2" y1="474.2" x2="429.2" y2="41.0" stroke="#e3e3e3" stroke-width="1.2" />
<line x1="445.5" y1="460.5" x2="445.5" y2="27.3" stroke="#e3e3e3" stroke-width="1.2" />
<line x1="461.8" y1="446.8" x2="461.8" y2="13.6" stroke="#e3e3e3" stroke-width="1.2" />
<line x1="422.4" y1="480.0" x2="472.6" y2="437.8" stroke="#e3e3e3" stroke-width="1.2" />
<line x1="422.4" y1="371.7" x2="472.6" y2="329.5" stroke="#e3e3e3" stroke-width="1.2" />
<line x1="422.4" y1="263.4" x2="472.6" y2="221.2" stroke="#e3e3e3" stroke-width="1.2" />
<line x1="422.4" y1="155.1" x2="472.6" y2="112.9" stroke="#e3e3e3" stroke-width="1.2" />
<line x1="422.4" y1="46.8" x2="472.6" y2="4.6" stroke="#e3e3e3" stroke-width="1.2" />
<line x1="486.5" y1="441.9" x2="486.5" y2="8.7" stroke="#e3e3e3" stroke-width="1.2" />
<line x1="540.1" y1="457.6" x2="540.1" y2="24.4" stroke="#e3e3e3" stroke-width="1.2" />
<line x1="593.7" y1="473.3" x2="593.7" y2="40.1" stroke="#e3e3e3" stroke-width="1.2" />
<line x1="647.3" y1="489.0" x2="647.3" y2="55.8" stroke="#e3e3e3" stroke-width="1.2" />
<line x1="700.9" y1="504.7" x2="700.9" y2="71.5" stroke="#e3e3e3" stroke-width="1.2" />
<line x1="472.6" y1="437.8" x2="714.9" y2="508.8" stroke="#e3e3e3" stroke-width="1.2" />
<line x1="472.6" y1="329.5" x2="714.9" y2="400.5" stroke="#e3e3e3" stroke-width="1.2" />
<line x1="472.6" y1="221.2" x2="714.9" y2="292.2" stroke="#e3e3e3" stroke-width="1.2" />
<line x1="472.6" y1="112.9" x2="714.9" y2="183.9" stroke="#e3e3e3" stroke-width="1.2" />
<line x1="472.6" y1="4.6" x2="714.9" y2="75.6" stroke="#e3e3e3" stroke-width="1.2" />
<line x1="472.6" y1="437.8" x2="472.6" y2="4.6" stroke="#e3e3e3" stroke-width="1.2" />
<line x1="714.9" y1="508.8" x2="714.9" y2="75.6" stroke="#e3e3e3" stroke-width="1.2" />
<line x1="472.6" y1="437.8" x2="714.9" y2="508.8" stroke="#e3e3e3" stroke-width="1.2" />
<line x1="422.4" y1="46.8" x2="472.6" y2="4.6" stroke="#e3e3e3" stroke-width="1.2" />
<line x1="472.6" y1="4.6" x2="714.9" y2="75.6" stroke="#e3e3e3" stroke-width="1.2" />
<clipPath id="rim0_32"><path d="M529.7,106.3 L613.0,129.7 L602.3,167.9 L519.0,144.5 Z"/></clipPath>
<clipPath id="rim1_30"><path d="M525.1,159.7 L571.4,172.7 L560.7,210.8 L514.4,197.8 Z"/></clipPath>
<clipPath id="rim6_60"><path d="M594.5,452.4 L629.2,462.2 L618.5,500.3 L583.8,490.6 Z"/></clipPath>
<linearGradient id="gradB6" gradientUnits="userSpaceOnUse" x1="456.8" y1="409.2" x2="688.3" y2="474.2"><stop offset="0" stop-color="#505fee"/><stop offset="0.12" stop-color="#507fee"/><stop offset="0.25" stop-color="#5096ee"/><stop offset="0.45" stop-color="#50aeee"/><stop offset="0.65" stop-color="#50c6ee"/><stop offset="0.85" stop-color="#50d5ee"/><stop offset="1" stop-color="#50ddee"/></linearGradient>
<clipPath id="clipB6"><path d="M456.5,404.2 L466.8,397.2 L477.3,390.7 L483.1,389.7 L489.6,390.4 L494.0,391.1 L499.1,392.9 L508.8,396.9 L522.1,402.9 L538.1,412.2 L555.5,417.5 L575.5,422.9 L591.5,426.9 L607.5,427.7 L618.8,431.5 L633.8,436.2 L647.3,441.7 L658.5,448.7 L675.8,461.2 L689.1,472.5 L683.8,481.2 L652.8,481.2 L623.8,479.7 L593.8,472.7 L553.8,462.0 L530.2,455.5 L513.8,449.7 L493.8,441.7 L480.9,435.2 L473.6,432.6 L466.3,428.6 L461.3,424.9 L459.1,420.2 L458.1,412.2 Z"/></clipPath>
<path d="M456.5,404.2 L466.8,397.2 L477.3,390.7 L483.1,389.7 L489.6,390.4 L494.0,391.1 L499.1,392.9 L508.8,396.9 L522.1,402.9 L538.1,412.2 L555.5,417.5 L575.5,422.9 L591.5,426.9 L607.5,427.7 L618.8,431.5 L633.8,436.2 L647.3,441.7 L658.5,448.7 L675.8,461.2 L689.1,472.5 L683.8,481.2 L652.8,481.2 L623.8,479.7 L593.8,472.7 L553.8,462.0 L530.2,455.5 L513.8,449.7 L493.8,441.7 L480.9,435.2 L473.6,432.6 L466.3,428.6 L461.3,424.9 L459.1,420.2 L458.1,412.2 Z" fill="url(#gradB6)"/>
<g clip-path="url(#clipB6)">
<g filter="url(#blur3)">
<ellipse cx="486.1" cy="411.7" rx="43.3" ry="18.7" fill="#3737b7" opacity="0.9" transform="rotate(15.7 486.1 411.7)"/>
<ellipse cx="644.5" cy="469.9" rx="9.6" ry="8.8" fill="#eedb37" opacity="0.7" transform="rotate(15.7 644.5 469.9)"/>
</g>
<path d="M456.5,404.2 L466.8,397.2 L477.3,390.7 L483.1,389.7 L489.6,390.4 L494.0,391.1 L499.1,392.9 L508.8,396.9 L522.1,402.9 L538.1,412.2 L555.5,417.5 L575.5,422.9 L591.5,426.9 L607.5,427.7 L618.8,431.5 L633.8,436.2 L647.3,441.7 L658.5,448.7 L675.8,461.2 L689.1,472.5 L683.8,481.2 L652.8,481.2 L623.8,479.7 L593.8,472.7 L553.8,462.0 L530.2,455.5 L513.8,449.7 L493.8,441.7 L480.9,435.2 L473.6,432.6 L466.3,428.6 L461.3,424.9 L459.1,420.2 L458.1,412.2 Z" fill="none" stroke="#ec2914" stroke-width="4.0" opacity="0.7" clip-path="url(#rim6_60)"/>
</g>
<path d="M478.1,399.7 L479.9,406.2 L481.7,407.0 L491.3,406.0 L493.5,404.8 L497.6,398.2 L497.4,396.8 L491.3,394.4 L488.9,394.6 L479.3,398.1 Z" fill="none" stroke="#262a26" stroke-width="1.15" stroke-linejoin="round"/>
<path d="M497.2,410.7 L500.1,406.5 L502.3,406.2 L513.1,408.6 L516.5,410.2 L527.3,418.0 L527.7,419.2 L519.3,419.2 L516.5,418.6 L506.9,415.1 L504.4,414.1 L497.7,411.8 Z" fill="none" stroke="#262a26" stroke-width="1.15" stroke-linejoin="round"/>
<path d="M485.0,420.1 L489.1,419.3 L490.6,419.7 L496.0,423.2 L496.6,423.9 L495.0,425.5 L493.7,425.6 L486.9,424.8 L485.6,424.2 L484.5,420.7 Z" fill="none" stroke="#262a26" stroke-width="1.15" stroke-linejoin="round"/>
<path d="M513.2,427.1 L525.5,426.8 L529.1,427.5 L540.1,432.9 L541.1,434.0 L536.5,436.3 L534.0,436.1 L522.6,433.2 L519.7,432.0 L512.4,427.9 Z" fill="none" stroke="#262a26" stroke-width="1.15" stroke-linejoin="round"/>
<path d="M550.6,433.7 L557.7,430.7 L560.5,430.2 L571.4,430.2 L573.5,430.7 L575.9,433.7 L574.4,434.5 L562.4,436.3 L559.2,436.3 L550.8,434.5 Z" fill="none" stroke="#262a26" stroke-width="1.15" stroke-linejoin="round"/>
<path d="M576.4,439.6 L580.2,435.8 L582.4,435.1 L592.2,434.1 L595.0,434.3 L602.6,436.4 L604.2,437.4 L606.4,441.5 L606.0,442.8 L600.6,446.4 L598.1,447.0 L587.5,447.4 L584.8,447.1 L578.8,445.0 L577.6,444.2 L576.0,440.7 Z" fill="none" stroke="#262a26" stroke-width="1.15" stroke-linejoin="round"/>
<path d="M640.4,446.9 L644.2,445.0 L645.6,444.9 L651.0,446.0 L651.9,446.6 L652.7,448.8 L652.1,449.3 L647.5,449.8 L646.0,449.6 L640.6,447.5 Z" fill="none" stroke="#262a26" stroke-width="1.15" stroke-linejoin="round"/>
<path d="M613.0,451.9 L617.1,450.3 L619.2,450.2 L628.4,451.5 L631.0,452.2 L638.6,455.7 L640.2,456.8 L642.4,460.6 L642.0,461.7 L636.6,464.5 L634.4,464.8 L625.2,463.4 L622.7,462.6 L615.9,458.8 L614.5,457.5 L612.6,452.9 Z" fill="none" stroke="#262a26" stroke-width="1.15" stroke-linejoin="round"/>
<path d="M580.5,458.7 L585.1,455.7 L587.2,455.3 L596.4,455.6 L598.8,456.2 L605.3,459.7 L605.6,460.7 L601.5,464.2 L599.0,464.7 L587.6,465.0 L585.1,464.3 L580.5,459.9 Z" fill="none" stroke="#262a26" stroke-width="1.15" stroke-linejoin="round"/>
<path d="M667.5,472.0 L672.1,470.4 L673.9,470.6 L680.7,472.8 L681.6,473.6 L680.0,476.3 L678.6,476.6 L671.0,476.3 L669.4,475.7 L667.2,472.7 Z" fill="none" stroke="#262a26" stroke-width="1.15" stroke-linejoin="round"/>
<path d="M456.5,404.2 L466.8,397.2 L477.3,390.7 L483.1,389.7 L489.6,390.4 L494.0,391.1 L499.1,392.9 L508.8,396.9 L522.1,402.9 L538.1,412.2 L555.5,417.5 L575.5,422.9 L591.5,426.9 L607.5,427.7 L618.8,431.5 L633.8,436.2 L647.3,441.7 L658.5,448.7 L675.8,461.2 L689.1,472.5 L683.8,481.2 L652.8,481.2 L623.8,479.7 L593.8,472.7 L553.8,462.0 L530.2,455.5 L513.8,449.7 L493.8,441.7 L480.9,435.2 L473.6,432.6 L466.3,428.6 L461.3,424.9 L459.1,420.2 L458.1,412.2 Z" fill="none" stroke="#2a2a2a" stroke-width="1.2" stroke-linejoin="round"/>
<linearGradient id="gradB5" gradientUnits="userSpaceOnUse" x1="456.8" y1="354.6" x2="688.3" y2="419.6"><stop offset="0" stop-color="#5077ee"/><stop offset="0.12" stop-color="#5096ee"/><stop offset="0.3" stop-color="#50beee"/><stop offset="0.5" stop-color="#50d5ee"/><stop offset="0.7" stop-color="#50e6ee"/><stop offset="1" stop-color="#50eeee"/></linearGradient>
<clipPath id="clipB5"><path d="M456.5,349.6 L466.8,342.6 L477.3,336.1 L483.1,335.1 L489.6,335.8 L494.0,336.5 L499.1,338.2 L508.8,342.2 L522.1,348.2 L538.1,357.6 L555.5,362.9 L575.5,368.2 L591.5,372.2 L607.5,373.1 L618.8,376.9 L633.8,381.6 L647.3,387.1 L658.5,394.1 L675.8,406.6 L689.1,417.9 L683.8,426.6 L652.8,426.6 L623.8,425.1 L593.8,418.1 L553.8,407.4 L530.2,400.9 L513.8,395.1 L493.8,387.1 L480.9,380.6 L473.6,378.0 L466.3,374.0 L461.3,370.2 L459.1,365.6 L458.1,357.6 Z"/></clipPath>
<path d="M456.5,349.6 L466.8,342.6 L477.3,336.1 L483.1,335.1 L489.6,335.8 L494.0,336.5 L499.1,338.2 L508.8,342.2 L522.1,348.2 L538.1,357.6 L555.5,362.9 L575.5,368.2 L591.5,372.2 L607.5,373.1 L618.8,376.9 L633.8,381.6 L647.3,387.1 L658.5,394.1 L675.8,406.6 L689.1,417.9 L683.8,426.6 L652.8,426.6 L623.8,425.1 L593.8,418.1 L553.8,407.4 L530.2,400.9 L513.8,395.1 L493.8,387.1 L480.9,380.6 L473.6,378.0 L466.3,374.0 L461.3,370.2 L459.1,365.6 L458.1,357.6 Z" fill="url(#gradB5)"/>
<g clip-path="url(#clipB5)">
<g filter="url(#blur3)">
<ellipse cx="482.0" cy="353.6" rx="38.5" ry="16.5" fill="#3737d2" opacity="0.85" transform="rotate(15.7 482.0 353.6)"/>
</g>
</g>
<path d="M478.1,345.1 L479.9,351.5 L481.7,352.4 L491.3,351.3 L493.5,350.1 L497.6,343.6 L497.4,342.2 L491.3,339.7 L488.9,339.9 L479.3,343.5 Z" fill="none" stroke="#262a26" stroke-width="1.15" stroke-linejoin="round"/>
<path d="M497.2,356.1 L500.1,351.8 L502.3,351.5 L513.1,354.0 L516.5,355.6 L527.3,363.3 L527.7,364.6 L519.3,364.6 L516.5,364.0 L506.9,360.4 L504.4,359.5 L497.7,357.1 Z" fill="none" stroke="#262a26" stroke-width="1.15" stroke-linejoin="round"/>
<path d="M485.0,365.4 L489.1,364.7 L490.6,365.1 L496.0,368.5 L496.6,369.3 L495.0,370.8 L493.7,370.9 L486.9,370.2 L485.6,369.5 L484.5,366.1 Z" fill="none" stroke="#262a26" stroke-width="1.15" stroke-linejoin="round"/>
<path d="M513.2,372.5 L525.5,372.1 L529.1,372.9 L540.1,378.2 L541.1,379.4 L536.5,381.6 L534.0,381.5 L522.6,378.5 L519.7,377.4 L512.4,373.2 Z" fill="none" stroke="#262a26" stroke-width="1.15" stroke-linejoin="round"/>
<path d="M550.6,379.1 L557.7,376.0 L560.5,375.6 L571.4,375.6 L573.5,376.0 L575.9,379.1 L574.4,379.8 L562.4,381.7 L559.2,381.7 L550.8,379.8 Z" fill="none" stroke="#262a26" stroke-width="1.15" stroke-linejoin="round"/>
<path d="M576.4,385.0 L580.2,381.2 L582.4,380.4 L592.2,379.5 L595.0,379.7 L602.6,381.7 L604.2,382.7 L606.4,386.9 L606.0,388.1 L600.6,391.8 L598.1,392.4 L587.5,392.7 L584.8,392.4 L578.8,390.4 L577.6,389.5 L576.0,386.1 Z" fill="none" stroke="#262a26" stroke-width="1.15" stroke-linejoin="round"/>
<path d="M640.4,392.2 L644.2,390.4 L645.6,390.2 L651.0,391.4 L651.9,391.9 L652.7,394.2 L652.1,394.6 L647.5,395.2 L646.0,394.9 L640.6,392.9 Z" fill="none" stroke="#262a26" stroke-width="1.15" stroke-linejoin="round"/>
<path d="M613.0,397.3 L617.1,395.6 L619.2,395.6 L628.4,396.8 L631.0,397.6 L638.6,401.0 L640.2,402.1 L642.4,406.0 L642.0,407.0 L636.6,409.9 L634.4,410.1 L625.2,408.8 L622.7,408.0 L615.9,404.1 L614.5,402.8 L612.6,398.3 Z" fill="none" stroke="#262a26" stroke-width="1.15" stroke-linejoin="round"/>
<path d="M580.5,404.1 L585.1,401.0 L587.2,400.6 L596.4,401.0 L598.8,401.6 L605.3,405.0 L605.6,406.1 L601.5,409.5 L599.0,410.1 L587.6,410.3 L585.1,409.7 L580.5,405.2 Z" fill="none" stroke="#262a26" stroke-width="1.15" stroke-linejoin="round"/>
<path d="M667.5,417.3 L672.1,415.8 L673.9,415.9 L680.7,418.2 L681.6,419.0 L680.0,421.6 L678.6,422.0 L671.0,421.6 L669.4,421.1 L667.2,418.0 Z" fill="none" stroke="#262a26" stroke-width="1.15" stroke-linejoin="round"/>
<path d="M456.5,349.6 L466.8,342.6 L477.3,336.1 L483.1,335.1 L489.6,335.8 L494.0,336.5 L499.1,338.2 L508.8,342.2 L522.1,348.2 L538.1,357.6 L555.5,362.9 L575.5,368.2 L591.5,372.2 L607.5,373.1 L618.8,376.9 L633.8,381.6 L647.3,387.1 L658.5,394.1 L675.8,406.6 L689.1,417.9 L683.8,426.6 L652.8,426.6 L623.8,425.1 L593.8,418.1 L553.8,407.4 L530.2,400.9 L513.8,395.1 L493.8,387.1 L480.9,380.6 L473.6,378.0 L466.3,374.0 L461.3,370.2 L459.1,365.6 L458.1,357.6 Z" fill="none" stroke="#2a2a2a" stroke-width="1.2" stroke-linejoin="round"/>
<linearGradient id="gradB4" gradientUnits="userSpaceOnUse" x1="456.8" y1="299.9" x2="688.3" y2="364.9"><stop offset="0" stop-color="#50d5ee"/><stop offset="0.12" stop-color="#57eee6"/><stop offset="0.3" stop-color="#6feece"/><stop offset="0.5" stop-color="#77eec6"/><stop offset="0.7" stop-color="#7feebe"/><stop offset="1" stop-color="#82eeba"/></linearGradient>
<clipPath id="clipB4"><path d="M456.5,294.9 L466.8,287.9 L477.3,281.4 L483.1,280.4 L489.6,281.1 L494.0,281.8 L499.1,283.6 L508.8,287.6 L522.1,293.6 L538.1,302.9 L555.5,308.2 L575.5,313.6 L591.5,317.6 L607.5,318.4 L618.8,322.2 L633.8,326.9 L647.3,332.4 L658.5,339.4 L675.8,351.9 L689.1,363.2 L683.8,371.9 L652.8,371.9 L623.8,370.4 L593.8,363.4 L553.8,352.7 L530.2,346.2 L513.8,340.4 L493.8,332.4 L480.9,325.9 L473.6,323.3 L466.3,319.3 L461.3,315.6 L459.1,310.9 L458.1,302.9 Z"/></clipPath>
<path d="M456.5,294.9 L466.8,287.9 L477.3,281.4 L483.1,280.4 L489.6,281.1 L494.0,281.8 L499.1,283.6 L508.8,287.6 L522.1,293.6 L538.1,302.9 L555.5,308.2 L575.5,313.6 L591.5,317.6 L607.5,318.4 L618.8,322.2 L633.8,326.9 L647.3,332.4 L658.5,339.4 L675.8,351.9 L689.1,363.2 L683.8,371.9 L652.8,371.9 L623.8,370.4 L593.8,363.4 L553.8,352.7 L530.2,346.2 L513.8,340.4 L493.8,332.4 L480.9,325.9 L473.6,323.3 L466.3,319.3 L461.3,315.6 L459.1,310.9 L458.1,302.9 Z" fill="url(#gradB4)"/>
<g clip-path="url(#clipB4)">
<g filter="url(#blur3)">
<ellipse cx="474.3" cy="291.1" rx="21.6" ry="11.0" fill="#375bee" opacity="0.8" transform="rotate(15.7 474.3 291.1)"/>
</g>
</g>
<path d="M478.1,290.4 L479.9,296.9 L481.7,297.7 L491.3,296.7 L493.5,295.5 L497.6,288.9 L497.4,287.5 L491.3,285.1 L488.9,285.3 L479.3,288.8 Z" fill="none" stroke="#262a26" stroke-width="1.15" stroke-linejoin="round"/>
<path d="M497.2,301.4 L500.1,297.2 L502.3,296.9 L513.1,299.3 L516.5,300.9 L527.3,308.7 L527.7,309.9 L519.3,309.9 L516.5,309.3 L506.9,305.8 L504.4,304.8 L497.7,302.5 Z" fill="none" stroke="#262a26" stroke-width="1.15" stroke-linejoin="round"/>
<path d="M485.0,310.8 L489.1,310.0 L490.6,310.4 L496.0,313.9 L496.6,314.6 L495.0,316.2 L493.7,316.3 L486.9,315.5 L485.6,314.9 L484.5,311.4 Z" fill="none" stroke="#262a26" stroke-width="1.15" stroke-linejoin="round"/>
<path d="M513.2,317.8 L525.5,317.5 L529.1,318.2 L540.1,323.6 L541.1,324.7 L536.5,327.0 L534.0,326.8 L522.6,323.9 L519.7,322.7 L512.4,318.6 Z" fill="none" stroke="#262a26" stroke-width="1.15" stroke-linejoin="round"/>
<path d="M550.6,324.4 L557.7,321.4 L560.5,320.9 L571.4,320.9 L573.5,321.4 L575.9,324.4 L574.4,325.2 L562.4,327.0 L559.2,327.0 L550.8,325.2 Z" fill="none" stroke="#262a26" stroke-width="1.15" stroke-linejoin="round"/>
<path d="M576.4,330.3 L580.2,326.5 L582.4,325.8 L592.2,324.8 L595.0,325.0 L602.6,327.1 L604.2,328.1 L606.4,332.2 L606.0,333.5 L600.6,337.1 L598.1,337.7 L587.5,338.1 L584.8,337.8 L578.8,335.7 L577.6,334.9 L576.0,331.4 Z" fill="none" stroke="#262a26" stroke-width="1.15" stroke-linejoin="round"/>
<path d="M640.4,337.6 L644.2,335.7 L645.6,335.6 L651.0,336.7 L651.9,337.3 L652.7,339.5 L652.1,340.0 L647.5,340.5 L646.0,340.3 L640.6,338.2 Z" fill="none" stroke="#262a26" stroke-width="1.15" stroke-linejoin="round"/>
<path d="M613.0,342.6 L617.1,341.0 L619.2,340.9 L628.4,342.2 L631.0,342.9 L638.6,346.4 L640.2,347.5 L642.4,351.3 L642.0,352.4 L636.6,355.2 L634.4,355.5 L625.2,354.1 L622.7,353.3 L615.9,349.5 L614.5,348.2 L612.6,343.6 Z" fill="none" stroke="#262a26" stroke-width="1.15" stroke-linejoin="round"/>
<path d="M580.5,349.4 L585.1,346.4 L587.2,346.0 L596.4,346.3 L598.8,346.9 L605.3,350.4 L605.6,351.4 L601.5,354.9 L599.0,355.4 L587.6,355.7 L585.1,355.0 L580.5,350.6 Z" fill="none" stroke="#262a26" stroke-width="1.15" stroke-linejoin="round"/>
<path d="M667.5,362.7 L672.1,361.1 L673.9,361.3 L680.7,363.5 L681.6,364.3 L680.0,367.0 L678.6,367.3 L671.0,367.0 L669.4,366.4 L667.2,363.4 Z" fill="none" stroke="#262a26" stroke-width="1.15" stroke-linejoin="round"/>
<path d="M456.5,294.9 L466.8,287.9 L477.3,281.4 L483.1,280.4 L489.6,281.1 L494.0,281.8 L499.1,283.6 L508.8,287.6 L522.1,293.6 L538.1,302.9 L555.5,308.2 L575.5,313.6 L591.5,317.6 L607.5,318.4 L618.8,322.2 L633.8,326.9 L647.3,332.4 L658.5,339.4 L675.8,351.9 L689.1,363.2 L683.8,371.9 L652.8,371.9 L623.8,370.4 L593.8,363.4 L553.8,352.7 L530.2,346.2 L513.8,340.4 L493.8,332.4 L480.9,325.9 L473.6,323.3 L466.3,319.3 L461.3,315.6 L459.1,310.9 L458.1,302.9 Z" fill="none" stroke="#2a2a2a" stroke-width="1.2" stroke-linejoin="round"/>
<linearGradient id="gradB3" gradientUnits="userSpaceOnUse" x1="456.8" y1="245.2" x2="688.3" y2="310.2"><stop offset="0" stop-color="#a6ee96"/><stop offset="0.5" stop-color="#9eee9e"/><stop offset="1" stop-color="#96eea6"/></linearGradient>
<clipPath id="clipB3"><path d="M456.5,240.2 L466.8,233.2 L477.3,226.8 L483.1,225.8 L489.6,226.4 L494.0,227.2 L499.1,228.9 L508.8,232.9 L522.1,238.9 L538.1,248.2 L555.5,253.6 L575.5,258.9 L591.5,262.9 L607.5,263.8 L618.8,267.6 L633.8,272.2 L647.3,277.8 L658.5,284.8 L675.8,297.2 L689.1,308.6 L683.8,317.2 L652.8,317.2 L623.8,315.8 L593.8,308.8 L553.8,298.1 L530.2,291.6 L513.8,285.8 L493.8,277.8 L480.9,271.2 L473.6,268.6 L466.3,264.6 L461.3,260.9 L459.1,256.2 L458.1,248.2 Z"/></clipPath>
<path d="M456.5,240.2 L466.8,233.2 L477.3,226.8 L483.1,225.8 L489.6,226.4 L494.0,227.2 L499.1,228.9 L508.8,232.9 L522.1,238.9 L538.1,248.2 L555.5,253.6 L575.5,258.9 L591.5,262.9 L607.5,263.8 L618.8,267.6 L633.8,272.2 L647.3,277.8 L658.5,284.8 L675.8,297.2 L689.1,308.6 L683.8,317.2 L652.8,317.2 L623.8,315.8 L593.8,308.8 L553.8,298.1 L530.2,291.6 L513.8,285.8 L493.8,277.8 L480.9,271.2 L473.6,268.6 L466.3,264.6 L461.3,260.9 L459.1,256.2 L458.1,248.2 Z" fill="url(#gradB3)"/>
<path d="M478.1,235.8 L479.9,242.2 L481.7,243.1 L491.3,242.0 L493.5,240.8 L497.6,234.3 L497.4,232.9 L491.3,230.4 L488.9,230.6 L479.3,234.2 Z" fill="none" stroke="#262a26" stroke-width="1.15" stroke-linejoin="round"/>
<path d="M497.2,246.8 L500.1,242.5 L502.3,242.2 L513.1,244.7 L516.5,246.3 L527.3,254.0 L527.7,255.2 L519.3,255.2 L516.5,254.7 L506.9,251.1 L504.4,250.2 L497.7,247.8 Z" fill="none" stroke="#262a26" stroke-width="1.15" stroke-linejoin="round"/>
<path d="M485.0,256.1 L489.1,255.4 L490.6,255.8 L496.0,259.2 L496.6,260.0 L495.0,261.5 L493.7,261.6 L486.9,260.9 L485.6,260.2 L484.5,256.8 Z" fill="none" stroke="#262a26" stroke-width="1.15" stroke-linejoin="round"/>
<path d="M513.2,263.2 L525.5,262.8 L529.1,263.6 L540.1,268.9 L541.1,270.1 L536.5,272.3 L534.0,272.2 L522.6,269.2 L519.7,268.1 L512.4,263.9 Z" fill="none" stroke="#262a26" stroke-width="1.15" stroke-linejoin="round"/>
<path d="M550.6,269.8 L557.7,266.7 L560.5,266.2 L571.4,266.2 L573.5,266.7 L575.9,269.8 L574.4,270.5 L562.4,272.4 L559.2,272.4 L550.8,270.5 Z" fill="none" stroke="#262a26" stroke-width="1.15" stroke-linejoin="round"/>
<path d="M576.4,275.6 L580.2,271.9 L582.4,271.1 L592.2,270.2 L595.0,270.4 L602.6,272.4 L604.2,273.4 L606.4,277.6 L606.0,278.8 L600.6,282.5 L598.1,283.1 L587.5,283.4 L584.8,283.1 L578.8,281.1 L577.6,280.2 L576.0,276.8 Z" fill="none" stroke="#262a26" stroke-width="1.15" stroke-linejoin="round"/>
<path d="M640.4,282.9 L644.2,281.1 L645.6,280.9 L651.0,282.1 L651.9,282.6 L652.7,284.9 L652.1,285.3 L647.5,285.9 L646.0,285.6 L640.6,283.6 Z" fill="none" stroke="#262a26" stroke-width="1.15" stroke-linejoin="round"/>
<path d="M613.0,288.0 L617.1,286.3 L619.2,286.3 L628.4,287.5 L631.0,288.3 L638.6,291.7 L640.2,292.9 L642.4,296.6 L642.0,297.7 L636.6,300.6 L634.4,300.8 L625.2,299.5 L622.7,298.6 L615.9,294.9 L614.5,293.5 L612.6,289.0 Z" fill="none" stroke="#262a26" stroke-width="1.15" stroke-linejoin="round"/>
<path d="M580.5,294.8 L585.1,291.7 L587.2,291.3 L596.4,291.7 L598.8,292.3 L605.3,295.7 L605.6,296.8 L601.5,300.2 L599.0,300.8 L587.6,301.0 L585.1,300.4 L580.5,295.9 Z" fill="none" stroke="#262a26" stroke-width="1.15" stroke-linejoin="round"/>
<path d="M667.5,308.0 L672.1,306.5 L673.9,306.6 L680.7,308.9 L681.6,309.7 L680.0,312.3 L678.6,312.7 L671.0,312.3 L669.4,311.8 L667.2,308.7 Z" fill="none" stroke="#262a26" stroke-width="1.15" stroke-linejoin="round"/>
<path d="M456.5,240.2 L466.8,233.2 L477.3,226.8 L483.1,225.8 L489.6,226.4 L494.0,227.2 L499.1,228.9 L508.8,232.9 L522.1,238.9 L538.1,248.2 L555.5,253.6 L575.5,258.9 L591.5,262.9 L607.5,263.8 L618.8,267.6 L633.8,272.2 L647.3,277.8 L658.5,284.8 L675.8,297.2 L689.1,308.6 L683.8,317.2 L652.8,317.2 L623.8,315.8 L593.8,308.8 L553.8,298.1 L530.2,291.6 L513.8,285.8 L493.8,277.8 L480.9,271.2 L473.6,268.6 L466.3,264.6 L461.3,260.9 L459.1,256.2 L458.1,248.2 Z" fill="none" stroke="#2a2a2a" stroke-width="1.2" stroke-linejoin="round"/>
<linearGradient id="gradB2" gradientUnits="userSpaceOnUse" x1="456.8" y1="190.6" x2="688.3" y2="255.6"><stop offset="0" stop-color="#eebe50"/><stop offset="0.1" stop-color="#eed550"/><stop offset="0.3" stop-color="#eeee50"/><stop offset="0.5" stop-color="#ddee5f"/><stop offset="0.7" stop-color="#d5ee67"/><stop offset="1" stop-color="#cdee6f"/></linearGradient>
<clipPath id="clipB2"><path d="M456.5,185.6 L466.8,178.6 L477.3,172.1 L483.1,171.1 L489.6,171.8 L494.0,172.5 L499.1,174.3 L508.8,178.3 L522.1,184.3 L538.1,193.6 L555.5,198.9 L575.5,204.3 L591.5,208.3 L607.5,209.1 L618.8,212.9 L633.8,217.6 L647.3,223.1 L658.5,230.1 L675.8,242.6 L689.1,253.9 L683.8,262.6 L652.8,262.6 L623.8,261.1 L593.8,254.1 L553.8,243.4 L530.2,236.9 L513.8,231.1 L493.8,223.1 L480.9,216.6 L473.6,214.0 L466.3,210.0 L461.3,206.3 L459.1,201.6 L458.1,193.6 Z"/></clipPath>
<path d="M456.5,185.6 L466.8,178.6 L477.3,172.1 L483.1,171.1 L489.6,171.8 L494.0,172.5 L499.1,174.3 L508.8,178.3 L522.1,184.3 L538.1,193.6 L555.5,198.9 L575.5,204.3 L591.5,208.3 L607.5,209.1 L618.8,212.9 L633.8,217.6 L647.3,223.1 L658.5,230.1 L675.8,242.6 L689.1,253.9 L683.8,262.6 L652.8,262.6 L623.8,261.1 L593.8,254.1 L553.8,243.4 L530.2,236.9 L513.8,231.1 L493.8,223.1 L480.9,216.6 L473.6,214.0 L466.3,210.0 L461.3,206.3 L459.1,201.6 L458.1,193.6 Z" fill="url(#gradB2)"/>
<g clip-path="url(#clipB2)">
<g filter="url(#blur3)">
<ellipse cx="471.9" cy="181.1" rx="19.2" ry="8.8" fill="#ee7f37" opacity="0.6" transform="rotate(15.7 471.9 181.1)"/>
</g>
</g>
<path d="M478.1,181.1 L479.9,187.6 L481.7,188.4 L491.3,187.4 L493.5,186.2 L497.6,179.6 L497.4,178.2 L491.3,175.8 L488.9,176.0 L479.3,179.5 Z" fill="none" stroke="#262a26" stroke-width="1.15" stroke-linejoin="round"/>
<path d="M497.2,192.1 L500.1,187.9 L502.3,187.6 L513.1,190.0 L516.5,191.6 L527.3,199.4 L527.7,200.6 L519.3,200.6 L516.5,200.0 L506.9,196.5 L504.4,195.5 L497.7,193.2 Z" fill="none" stroke="#262a26" stroke-width="1.15" stroke-linejoin="round"/>
<path d="M485.0,201.5 L489.1,200.7 L490.6,201.1 L496.0,204.6 L496.6,205.3 L495.0,206.9 L493.7,207.0 L486.9,206.2 L485.6,205.6 L484.5,202.1 Z" fill="none" stroke="#262a26" stroke-width="1.15" stroke-linejoin="round"/>
<path d="M513.2,208.5 L525.5,208.2 L529.1,208.9 L540.1,214.3 L541.1,215.4 L536.5,217.7 L534.0,217.5 L522.6,214.6 L519.7,213.4 L512.4,209.3 Z" fill="none" stroke="#262a26" stroke-width="1.15" stroke-linejoin="round"/>
<path d="M550.6,215.1 L557.7,212.1 L560.5,211.6 L571.4,211.6 L573.5,212.1 L575.9,215.1 L574.4,215.9 L562.4,217.7 L559.2,217.7 L550.8,215.9 Z" fill="none" stroke="#262a26" stroke-width="1.15" stroke-linejoin="round"/>
<path d="M576.4,221.0 L580.2,217.2 L582.4,216.5 L592.2,215.5 L595.0,215.7 L602.6,217.8 L604.2,218.8 L606.4,222.9 L606.0,224.2 L600.6,227.8 L598.1,228.4 L587.5,228.8 L584.8,228.5 L578.8,226.4 L577.6,225.6 L576.0,222.1 Z" fill="none" stroke="#262a26" stroke-width="1.15" stroke-linejoin="round"/>
<path d="M640.4,228.3 L644.2,226.4 L645.6,226.3 L651.0,227.4 L651.9,228.0 L652.7,230.2 L652.1,230.7 L647.5,231.2 L646.0,231.0 L640.6,228.9 Z" fill="none" stroke="#262a26" stroke-width="1.15" stroke-linejoin="round"/>
<path d="M613.0,233.3 L617.1,231.7 L619.2,231.6 L628.4,232.9 L631.0,233.6 L638.6,237.1 L640.2,238.2 L642.4,242.0 L642.0,243.1 L636.6,245.9 L634.4,246.2 L625.2,244.8 L622.7,244.0 L615.9,240.2 L614.5,238.9 L612.6,234.3 Z" fill="none" stroke="#262a26" stroke-width="1.15" stroke-linejoin="round"/>
<path d="M580.5,240.1 L585.1,237.1 L587.2,236.7 L596.4,237.0 L598.8,237.6 L605.3,241.1 L605.6,242.1 L601.5,245.6 L599.0,246.1 L587.6,246.4 L585.1,245.7 L580.5,241.3 Z" fill="none" stroke="#262a26" stroke-width="1.15" stroke-linejoin="round"/>
<path d="M667.5,253.4 L672.1,251.8 L673.9,252.0 L680.7,254.2 L681.6,255.0 L680.0,257.7 L678.6,258.0 L671.0,257.7 L669.4,257.1 L667.2,254.1 Z" fill="none" stroke="#262a26" stroke-width="1.15" stroke-linejoin="round"/>
<path d="M456.5,185.6 L466.8,178.6 L477.3,172.1 L483.1,171.1 L489.6,171.8 L494.0,172.5 L499.1,174.3 L508.8,178.3 L522.1,184.3 L538.1,193.6 L555.5,198.9 L575.5,204.3 L591.5,208.3 L607.5,209.1 L618.8,212.9 L633.8,217.6 L647.3,223.1 L658.5,230.1 L675.8,242.6 L689.1,253.9 L683.8,262.6 L652.8,262.6 L623.8,261.1 L593.8,254.1 L553.8,243.4 L530.2,236.9 L513.8,231.1 L493.8,223.1 L480.9,216.6 L473.6,214.0 L466.3,210.0 L461.3,206.3 L459.1,201.6 L458.1,193.6 Z" fill="none" stroke="#2a2a2a" stroke-width="1.2" stroke-linejoin="round"/>
<linearGradient id="gradB1" gradientUnits="userSpaceOnUse" x1="456.8" y1="135.9" x2="688.3" y2="201.0"><stop offset="0" stop-color="#ee5050"/><stop offset="0.1" stop-color="#ee6750"/><stop offset="0.2" stop-color="#ee8750"/><stop offset="0.35" stop-color="#eeae50"/><stop offset="0.5" stop-color="#eecd50"/><stop offset="0.7" stop-color="#eee650"/><stop offset="1" stop-color="#e6ee57"/></linearGradient>
<clipPath id="clipB1"><path d="M456.5,130.9 L466.8,123.9 L477.3,117.4 L483.1,116.4 L489.6,117.2 L494.0,117.8 L499.1,119.7 L508.8,123.7 L522.1,129.7 L538.1,138.9 L555.5,144.2 L575.5,149.7 L591.5,153.7 L607.5,154.4 L618.8,158.2 L633.8,162.9 L647.3,168.4 L658.5,175.4 L675.8,187.9 L689.1,199.2 L683.8,207.9 L652.8,207.9 L623.8,206.4 L593.8,199.4 L553.8,188.8 L530.2,182.2 L513.8,176.4 L493.8,168.4 L480.9,161.9 L473.6,159.3 L466.3,155.3 L461.3,151.7 L459.1,146.9 L458.1,138.9 Z"/></clipPath>
<path d="M456.5,130.9 L466.8,123.9 L477.3,117.4 L483.1,116.4 L489.6,117.2 L494.0,117.8 L499.1,119.7 L508.8,123.7 L522.1,129.7 L538.1,138.9 L555.5,144.2 L575.5,149.7 L591.5,153.7 L607.5,154.4 L618.8,158.2 L633.8,162.9 L647.3,168.4 L658.5,175.4 L675.8,187.9 L689.1,199.2 L683.8,207.9 L652.8,207.9 L623.8,206.4 L593.8,199.4 L553.8,188.8 L530.2,182.2 L513.8,176.4 L493.8,168.4 L480.9,161.9 L473.6,159.3 L466.3,155.3 L461.3,151.7 L459.1,146.9 L458.1,138.9 Z" fill="url(#gradB1)"/>
<g clip-path="url(#clipB1)">
<g filter="url(#blur3)">
<ellipse cx="481.5" cy="128.0" rx="26.4" ry="9.9" fill="#981e1e" opacity="0.9" transform="rotate(15.7 481.5 128.0)"/>
<ellipse cx="654.2" cy="189.1" rx="14.4" ry="9.9" fill="#49eedb" opacity="0.65" transform="rotate(15.7 654.2 189.1)"/>
<ellipse cx="656.4" cy="208.0" rx="12.0" ry="6.6" fill="#eea537" opacity="0.5" transform="rotate(15.7 656.4 208.0)"/>
</g>
<path d="M456.5,130.9 L466.8,123.9 L477.3,117.4 L483.1,116.4 L489.6,117.2 L494.0,117.8 L499.1,119.7 L508.8,123.7 L522.1,129.7 L538.1,138.9 L555.5,144.2 L575.5,149.7 L591.5,153.7 L607.5,154.4 L618.8,158.2 L633.8,162.9 L647.3,168.4 L658.5,175.4 L675.8,187.9 L689.1,199.2 L683.8,207.9 L652.8,207.9 L623.8,206.4 L593.8,199.4 L553.8,188.8 L530.2,182.2 L513.8,176.4 L493.8,168.4 L480.9,161.9 L473.6,159.3 L466.3,155.3 L461.3,151.7 L459.1,146.9 L458.1,138.9 Z" fill="none" stroke="#14d6ec" stroke-width="4.0" opacity="0.7" clip-path="url(#rim1_30)"/>
</g>
<path d="M478.1,126.5 L479.9,132.9 L481.7,133.8 L491.3,132.7 L493.5,131.5 L497.6,125.0 L497.4,123.6 L491.3,121.1 L488.9,121.3 L479.3,124.9 Z" fill="none" stroke="#262a26" stroke-width="1.15" stroke-linejoin="round"/>
<path d="M497.2,137.5 L500.1,133.2 L502.3,132.9 L513.1,135.4 L516.5,137.0 L527.3,144.7 L527.7,145.9 L519.3,145.9 L516.5,145.4 L506.9,141.8 L504.4,140.9 L497.7,138.5 Z" fill="none" stroke="#262a26" stroke-width="1.15" stroke-linejoin="round"/>
<path d="M485.0,146.8 L489.1,146.1 L490.6,146.5 L496.0,149.9 L496.6,150.7 L495.0,152.2 L493.7,152.3 L486.9,151.6 L485.6,150.9 L484.5,147.5 Z" fill="none" stroke="#262a26" stroke-width="1.15" stroke-linejoin="round"/>
<path d="M513.2,153.9 L525.5,153.5 L529.1,154.3 L540.1,159.6 L541.1,160.8 L536.5,163.0 L534.0,162.9 L522.6,159.9 L519.7,158.8 L512.4,154.6 Z" fill="none" stroke="#262a26" stroke-width="1.15" stroke-linejoin="round"/>
<path d="M550.6,160.5 L557.7,157.4 L560.5,156.9 L571.4,156.9 L573.5,157.4 L575.9,160.5 L574.4,161.2 L562.4,163.1 L559.2,163.1 L550.8,161.2 Z" fill="none" stroke="#262a26" stroke-width="1.15" stroke-linejoin="round"/>
<path d="M576.4,166.3 L580.2,162.6 L582.4,161.8 L592.2,160.9 L595.0,161.1 L602.6,163.1 L604.2,164.1 L606.4,168.3 L606.0,169.5 L600.6,173.2 L598.1,173.8 L587.5,174.1 L584.8,173.8 L578.8,171.8 L577.6,170.9 L576.0,167.5 Z" fill="none" stroke="#262a26" stroke-width="1.15" stroke-linejoin="round"/>
<path d="M640.4,173.6 L644.2,171.8 L645.6,171.6 L651.0,172.8 L651.9,173.3 L652.7,175.6 L652.1,176.0 L647.5,176.6 L646.0,176.3 L640.6,174.3 Z" fill="none" stroke="#262a26" stroke-width="1.15" stroke-linejoin="round"/>
<path d="M613.0,178.7 L617.1,177.0 L619.2,177.0 L628.4,178.2 L631.0,179.0 L638.6,182.4 L640.2,183.5 L642.4,187.3 L642.0,188.4 L636.6,191.3 L634.4,191.5 L625.2,190.2 L622.7,189.3 L615.9,185.5 L614.5,184.2 L612.6,179.7 Z" fill="none" stroke="#262a26" stroke-width="1.15" stroke-linejoin="round"/>
<path d="M580.5,185.5 L585.1,182.4 L587.2,182.0 L596.4,182.4 L598.8,183.0 L605.3,186.4 L605.6,187.5 L601.5,190.9 L599.0,191.5 L587.6,191.7 L585.1,191.1 L580.5,186.6 Z" fill="none" stroke="#262a26" stroke-width="1.15" stroke-linejoin="round"/>
<path d="M667.5,198.7 L672.1,197.2 L673.9,197.3 L680.7,199.6 L681.6,200.4 L680.0,203.0 L678.6,203.4 L671.0,203.0 L669.4,202.5 L667.2,199.4 Z" fill="none" stroke="#262a26" stroke-width="1.15" stroke-linejoin="round"/>
<path d="M456.5,130.9 L466.8,123.9 L477.3,117.4 L483.1,116.4 L489.6,117.2 L494.0,117.8 L499.1,119.7 L508.8,123.7 L522.1,129.7 L538.1,138.9 L555.5,144.2 L575.5,149.7 L591.5,153.7 L607.5,154.4 L618.8,158.2 L633.8,162.9 L647.3,168.4 L658.5,175.4 L675.8,187.9 L689.1,199.2 L683.8,207.9 L652.8,207.9 L623.8,206.4 L593.8,199.4 L553.8,188.8 L530.2,182.2 L513.8,176.4 L493.8,168.4 L480.9,161.9 L473.6,159.3 L466.3,155.3 L461.3,151.7 L459.1,146.9 L458.1,138.9 Z" fill="none" stroke="#2a2a2a" stroke-width="1.2" stroke-linejoin="round"/>
<linearGradient id="gradB0" gradientUnits="userSpaceOnUse" x1="456.8" y1="81.3" x2="688.3" y2="146.3"><stop offset="0" stop-color="#c65050"/><stop offset="0.1" stop-color="#dd5050"/><stop offset="0.2" stop-color="#ee6750"/><stop offset="0.3" stop-color="#ee8e50"/><stop offset="0.42" stop-color="#eeb650"/><stop offset="0.55" stop-color="#eed550"/><stop offset="1" stop-color="#eee650"/></linearGradient>
<clipPath id="clipB0"><path d="M456.5,76.3 L466.8,69.3 L477.3,62.8 L483.1,61.8 L489.6,62.5 L494.0,63.2 L499.1,65.0 L508.8,69.0 L522.1,75.0 L538.1,84.3 L555.5,89.6 L575.5,95.0 L591.5,99.0 L607.5,99.8 L618.8,103.6 L633.8,108.3 L647.3,113.8 L658.5,120.8 L675.8,133.3 L689.1,144.6 L683.8,153.3 L652.8,153.3 L623.8,151.8 L593.8,144.8 L553.8,134.1 L530.2,127.6 L513.8,121.8 L493.8,113.8 L480.9,107.3 L473.6,104.7 L466.3,100.7 L461.3,97.0 L459.1,92.3 L458.1,84.3 Z"/></clipPath>
<path d="M456.5,76.3 L466.8,69.3 L477.3,62.8 L483.1,61.8 L489.6,62.5 L494.0,63.2 L499.1,65.0 L508.8,69.0 L522.1,75.0 L538.1,84.3 L555.5,89.6 L575.5,95.0 L591.5,99.0 L607.5,99.8 L618.8,103.6 L633.8,108.3 L647.3,113.8 L658.5,120.8 L675.8,133.3 L689.1,144.6 L683.8,153.3 L652.8,153.3 L623.8,151.8 L593.8,144.8 L553.8,134.1 L530.2,127.6 L513.8,121.8 L493.8,113.8 L480.9,107.3 L473.6,104.7 L466.3,100.7 L461.3,97.0 L459.1,92.3 L458.1,84.3 Z" fill="url(#gradB0)"/>
<g clip-path="url(#clipB0)">
<g filter="url(#blur3)">
<ellipse cx="488.1" cy="76.4" rx="38.5" ry="12.1" fill="#831e1e" opacity="0.95" transform="rotate(15.7 488.1 76.4)"/>
<ellipse cx="465.5" cy="86.0" rx="12.0" ry="11.0" fill="#c01e1e" opacity="0.6" transform="rotate(15.7 465.5 86.0)"/>
<ellipse cx="581.3" cy="100.3" rx="19.2" ry="7.7" fill="#5beec9" opacity="0.7" transform="rotate(15.7 581.3 100.3)"/>
<ellipse cx="659.4" cy="133.6" rx="12.0" ry="7.7" fill="#49eedb" opacity="0.7" transform="rotate(15.7 659.4 133.6)"/>
<ellipse cx="666.8" cy="151.7" rx="12.0" ry="6.6" fill="#37eeee" opacity="0.5" transform="rotate(15.7 666.8 151.7)"/>
</g>
<path d="M456.5,76.3 L466.8,69.3 L477.3,62.8 L483.1,61.8 L489.6,62.5 L494.0,63.2 L499.1,65.0 L508.8,69.0 L522.1,75.0 L538.1,84.3 L555.5,89.6 L575.5,95.0 L591.5,99.0 L607.5,99.8 L618.8,103.6 L633.8,108.3 L647.3,113.8 L658.5,120.8 L675.8,133.3 L689.1,144.6 L683.8,153.3 L652.8,153.3 L623.8,151.8 L593.8,144.8 L553.8,134.1 L530.2,127.6 L513.8,121.8 L493.8,113.8 L480.9,107.3 L473.6,104.7 L466.3,100.7 L461.3,97.0 L459.1,92.3 L458.1,84.3 Z" fill="none" stroke="#1496ec" stroke-width="4.4" opacity="0.7" clip-path="url(#rim0_32)"/>
</g>
<path d="M478.1,71.8 L479.9,78.3 L481.7,79.1 L491.3,78.1 L493.5,76.9 L497.6,70.3 L497.4,68.9 L491.3,66.5 L488.9,66.7 L479.3,70.2 Z" fill="none" stroke="#262a26" stroke-width="1.15" stroke-linejoin="round"/>
<path d="M497.2,82.8 L500.1,78.6 L502.3,78.3 L513.1,80.7 L516.5,82.3 L527.3,90.1 L527.7,91.3 L519.3,91.3 L516.5,90.7 L506.9,87.2 L504.4,86.2 L497.7,83.9 Z" fill="none" stroke="#262a26" stroke-width="1.15" stroke-linejoin="round"/>
<path d="M485.0,92.2 L489.1,91.4 L490.6,91.8 L496.0,95.3 L496.6,96.0 L495.0,97.6 L493.7,97.7 L486.9,96.9 L485.6,96.3 L484.5,92.8 Z" fill="none" stroke="#262a26" stroke-width="1.15" stroke-linejoin="round"/>
<path d="M513.2,99.2 L525.5,98.9 L529.1,99.6 L540.1,105.0 L541.1,106.1 L536.5,108.4 L534.0,108.2 L522.6,105.3 L519.7,104.1 L512.4,100.0 Z" fill="none" stroke="#262a26" stroke-width="1.15" stroke-linejoin="round"/>
<path d="M550.6,105.8 L557.7,102.8 L560.5,102.3 L571.4,102.3 L573.5,102.8 L575.9,105.8 L574.4,106.6 L562.4,108.4 L559.2,108.4 L550.8,106.6 Z" fill="none" stroke="#262a26" stroke-width="1.15" stroke-linejoin="round"/>
<path d="M576.4,111.7 L580.2,107.9 L582.4,107.2 L592.2,106.2 L595.0,106.4 L602.6,108.5 L604.2,109.5 L606.4,113.6 L606.0,114.9 L600.6,118.5 L598.1,119.1 L587.5,119.5 L584.8,119.2 L578.8,117.1 L577.6,116.3 L576.0,112.8 Z" fill="none" stroke="#262a26" stroke-width="1.15" stroke-linejoin="round"/>
<path d="M640.4,119.0 L644.2,117.1 L645.6,117.0 L651.0,118.1 L651.9,118.7 L652.7,120.9 L652.1,121.4 L647.5,121.9 L646.0,121.7 L640.6,119.6 Z" fill="none" stroke="#262a26" stroke-width="1.15" stroke-linejoin="round"/>
<path d="M613.0,124.0 L617.1,122.4 L619.2,122.3 L628.4,123.6 L631.0,124.3 L638.6,127.8 L640.2,128.9 L642.4,132.7 L642.0,133.8 L636.6,136.6 L634.4,136.9 L625.2,135.5 L622.7,134.7 L615.9,130.9 L614.5,129.6 L612.6,125.0 Z" fill="none" stroke="#262a26" stroke-width="1.15" stroke-linejoin="round"/>
<path d="M580.5,130.8 L585.1,127.8 L587.2,127.4 L596.4,127.7 L598.8,128.3 L605.3,131.8 L605.6,132.8 L601.5,136.3 L599.0,136.8 L587.6,137.1 L585.1,136.4 L580.5,132.0 Z" fill="none" stroke="#262a26" stroke-width="1.15" stroke-linejoin="round"/>
<path d="M667.5,144.1 L672.1,142.5 L673.9,142.7 L680.7,144.9 L681.6,145.7 L680.0,148.4 L678.6,148.7 L671.0,148.4 L669.4,147.8 L667.2,144.8 Z" fill="none" stroke="#262a26" stroke-width="1.15" stroke-linejoin="round"/>
<path d="M456.5,76.3 L466.8,69.3 L477.3,62.8 L483.1,61.8 L489.6,62.5 L494.0,63.2 L499.1,65.0 L508.8,69.0 L522.1,75.0 L538.1,84.3 L555.5,89.6 L575.5,95.0 L591.5,99.0 L607.5,99.8 L618.8,103.6 L633.8,108.3 L647.3,113.8 L658.5,120.8 L675.8,133.3 L689.1,144.6 L683.8,153.3 L652.8,153.3 L623.8,151.8 L593.8,144.8 L553.8,134.1 L530.2,127.6 L513.8,121.8 L493.8,113.8 L480.9,107.3 L473.6,104.7 L466.3,100.7 L461.3,97.0 L459.1,92.3 L458.1,84.3 Z" fill="none" stroke="#2a2a2a" stroke-width="1.2" stroke-linejoin="round"/>
<line x1="422.4" y1="480.0" x2="422.4" y2="46.8" stroke="#4a4a4a" stroke-width="1.4" />
<line x1="422.4" y1="480.0" x2="664.7" y2="551.0" stroke="#4a4a4a" stroke-width="1.4" />
<line x1="664.7" y1="551.0" x2="714.9" y2="508.8" stroke="#4a4a4a" stroke-width="1.4" />
<line x1="422.4" y1="480.0" x2="413.3" y2="477.3" stroke="#4a4a4a" stroke-width="1.3" />
<line x1="422.4" y1="371.7" x2="413.3" y2="369.0" stroke="#4a4a4a" stroke-width="1.3" />
<line x1="422.4" y1="263.4" x2="413.3" y2="260.7" stroke="#4a4a4a" stroke-width="1.3" />
<line x1="422.4" y1="155.1" x2="413.3" y2="152.4" stroke="#4a4a4a" stroke-width="1.3" />
<line x1="422.4" y1="46.8" x2="413.3" y2="44.1" stroke="#4a4a4a" stroke-width="1.3" />
<line x1="436.3" y1="484.1" x2="429.1" y2="490.2" stroke="#4a4a4a" stroke-width="1.3" />
<line x1="489.9" y1="499.8" x2="482.7" y2="505.9" stroke="#4a4a4a" stroke-width="1.3" />
<line x1="543.5" y1="515.5" x2="536.3" y2="521.6" stroke="#4a4a4a" stroke-width="1.3" />
<line x1="597.1" y1="531.2" x2="589.9" y2="537.3" stroke="#4a4a4a" stroke-width="1.3" />
<line x1="650.7" y1="546.9" x2="643.5" y2="553.0" stroke="#4a4a4a" stroke-width="1.3" />
<line x1="671.5" y1="545.2" x2="680.6" y2="547.9" stroke="#4a4a4a" stroke-width="1.3" />
<line x1="687.8" y1="531.5" x2="696.9" y2="534.2" stroke="#4a4a4a" stroke-width="1.3" />
<line x1="704.1" y1="517.8" x2="713.2" y2="520.5" stroke="#4a4a4a" stroke-width="1.3" />
<text x="404.9" y="482.5" text-anchor="end" font-size="16" fill="#555555" stroke="#555555" stroke-width="0.35" style="font-family:'Liberation Sans',Arial,sans-serif">16</text>
<text x="404.9" y="374.2" text-anchor="end" font-size="16" fill="#555555" stroke="#555555" stroke-width="0.35" style="font-family:'Liberation Sans',Arial,sans-serif">18</text>
<text x="404.9" y="265.9" text-anchor="end" font-size="16" fill="#555555" stroke="#555555" stroke-width="0.35" style="font-family:'Liberation Sans',Arial,sans-serif">20</text>
<text x="404.9" y="157.6" text-anchor="end" font-size="16" fill="#555555" stroke="#555555" stroke-width="0.35" style="font-family:'Liberation Sans',Arial,sans-serif">22</text>
<text x="404.9" y="49.3" text-anchor="end" font-size="16" fill="#555555" stroke="#555555" stroke-width="0.35" style="font-family:'Liberation Sans',Arial,sans-serif">24</text>
<text x="421.8" y="513.1" text-anchor="middle" font-size="16" fill="#555555" stroke="#555555" stroke-width="0.35" style="font-family:'Liberation Sans',Arial,sans-serif">2</text>
<text x="475.4" y="528.8" text-anchor="middle" font-size="16" fill="#555555" stroke="#555555" stroke-width="0.35" style="font-family:'Liberation Sans',Arial,sans-serif">1</text>
<text x="529.0" y="544.5" text-anchor="middle" font-size="16" fill="#555555" stroke="#555555" stroke-width="0.35" style="font-family:'Liberation Sans',Arial,sans-serif">0</text>
<text x="582.6" y="560.2" text-anchor="middle" font-size="16" fill="#555555" stroke="#555555" stroke-width="0.35" style="font-family:'Liberation Sans',Arial,sans-serif">-1</text>
<text x="636.2" y="575.9" text-anchor="middle" font-size="16" fill="#555555" stroke="#555555" stroke-width="0.35" style="font-family:'Liberation Sans',Arial,sans-serif">-2</text>
<text x="689.0" y="567.2" text-anchor="start" font-size="16" fill="#555555" stroke="#555555" stroke-width="0.35" style="font-family:'Liberation Sans',Arial,sans-serif">-0.5</text>
<text x="705.3" y="553.5" text-anchor="start" font-size="16" fill="#555555" stroke="#555555" stroke-width="0.35" style="font-family:'Liberation Sans',Arial,sans-serif">0</text>
<text x="721.6" y="539.8" text-anchor="start" font-size="16" fill="#555555" stroke="#555555" stroke-width="0.35" style="font-family:'Liberation Sans',Arial,sans-serif">0.</text>
<text x="374.0" y="268.2" text-anchor="middle" font-size="19" fill="#333333" stroke="#333333" stroke-width="0.35" style="font-family:'Liberation Sans',Arial,sans-serif" transform="rotate(-90 374.0 268.2)">z (mm)</text>
<text x="533.0" y="585.0" text-anchor="middle" font-size="19" fill="#333333" stroke="#333333" stroke-width="0.35" style="font-family:'Liberation Sans',Arial,sans-serif">y (mm)</text>
<text x="725.0" y="592.0" text-anchor="middle" font-size="19" fill="#333333" stroke="#333333" stroke-width="0.35" style="font-family:'Liberation Sans',Arial,sans-serif">x (mm)</text>
<linearGradient id="cbg" x1="0" y1="0" x2="0" y2="1"><stop offset="0.0000" stop-color="#7f0000"/><stop offset="0.0156" stop-color="#8f0000"/><stop offset="0.0312" stop-color="#9f0000"/><stop offset="0.0469" stop-color="#af0000"/><stop offset="0.0625" stop-color="#bf0000"/><stop offset="0.0781" stop-color="#cf0000"/><stop offset="0.0938" stop-color="#df0000"/><stop offset="0.1094" stop-color="#ef0000"/><stop offset="0.1250" stop-color="#ff0000"/><stop offset="0.1406" stop-color="#ff0f00"/><stop offset="0.1562" stop-color="#ff1f00"/><stop offset="0.1719" stop-color="#ff2f00"/><stop offset="0.1875" stop-color="#ff3f00"/><stop offset="0.2031" stop-color="#ff4f00"/><stop offset="0.2188" stop-color="#ff5f00"/><stop offset="0.2344" stop-color="#ff6f00"/><stop offset="0.2500" stop-color="#ff7f00"/><stop offset="0.2656" stop-color="#ff8f00"/><stop offset="0.2812" stop-color="#ff9f00"/><stop offset="0.2969" stop-color="#ffaf00"/><stop offset="0.3125" stop-color="#ffbf00"/><stop offset="0.3281" stop-color="#ffcf00"/><stop offset="0.3438" stop-color="#ffdf00"/><stop offset="0.3594" stop-color="#ffef00"/><stop offset="0.3750" stop-color="#ffff00"/><stop offset="0.3906" stop-color="#efff0f"/><stop offset="0.4062" stop-color="#dfff1f"/><stop offset="0.4219" stop-color="#cfff2f"/><stop offset="0.4375" stop-color="#bfff3f"/><stop offset="0.4531" stop-color="#afff4f"/><stop offset="0.4688" stop-color="#9fff5f"/><stop offset="0.4844" stop-color="#8fff6f"/><stop offset="0.5000" stop-color="#7fff7f"/><stop offset="0.5156" stop-color="#6fff8f"/><stop offset="0.5312" stop-color="#5fff9f"/><stop offset="0.5469" stop-color="#4fffaf"/><stop offset="0.5625" stop-color="#3fffbf"/><stop offset="0.5781" stop-color="#2fffcf"/><stop offset="0.5938" stop-color="#1fffdf"/><stop offset="0.6094" stop-color="#0fffef"/><stop offset="0.6250" stop-color="#00ffff"/><stop offset="0.6406" stop-color="#00efff"/><stop offset="0.6562" stop-color="#00dfff"/><stop offset="0.6719" stop-color="#00cfff"/><stop offset="0.6875" stop-color="#00bfff"/><stop offset="0.7031" stop-color="#00afff"/><stop offset="0.7188" stop-color="#009fff"/><stop offset="0.7344" stop-color="#008fff"/><stop offset="0.7500" stop-color="#007fff"/><stop offset="0.7656" stop-color="#006fff"/><stop offset="0.7812" stop-color="#005fff"/><stop offset="0.7969" stop-color="#004fff"/><stop offset="0.8125" stop-color="#003fff"/><stop offset="0.8281" stop-color="#002fff"/><stop offset="0.8438" stop-color="#001fff"/><stop offset="0.8594" stop-color="#000fff"/><stop offset="0.8750" stop-color="#0000ff"/><stop offset="0.8906" stop-color="#0000ef"/><stop offset="0.9062" stop-color="#0000df"/><stop offset="0.9219" stop-color="#0000cf"/><stop offset="0.9375" stop-color="#0000bf"/><stop offset="0.9531" stop-color="#0000af"/><stop offset="0.9688" stop-color="#00009f"/><stop offset="0.9844" stop-color="#00008f"/><stop offset="1.0000" stop-color="#00007f"/></linearGradient>
<rect x="746.0" y="20.4" width="26.4" height="528.4" fill="url(#cbg)" stroke="#333" stroke-width="1"/>
<text x="779.5" y="554.3" text-anchor="start" font-size="15.5" fill="#6a6a6a" stroke="#6a6a6a" stroke-width="0.3" style="font-family:'Liberation Sans',Arial,sans-serif" >0</text>
<line x1="768.4" y1="416.7" x2="772.4" y2="416.7" stroke="#333" stroke-width="1" />
<text x="779.5" y="422.2" text-anchor="start" font-size="15.5" fill="#6a6a6a" stroke="#6a6a6a" stroke-width="0.3" style="font-family:'Liberation Sans',Arial,sans-serif" >20</text>
<line x1="768.4" y1="284.6" x2="772.4" y2="284.6" stroke="#333" stroke-width="1" />
<text x="779.5" y="290.1" text-anchor="start" font-size="15.5" fill="#6a6a6a" stroke="#6a6a6a" stroke-width="0.3" style="font-family:'Liberation Sans',Arial,sans-serif" >40</text>
<line x1="768.4" y1="152.5" x2="772.4" y2="152.5" stroke="#333" stroke-width="1" />
<text x="779.5" y="158.0" text-anchor="start" font-size="15.5" fill="#6a6a6a" stroke="#6a6a6a" stroke-width="0.3" style="font-family:'Liberation Sans',Arial,sans-serif" >60</text>
<text x="779.5" y="25.9" text-anchor="start" font-size="15.5" fill="#6a6a6a" stroke="#6a6a6a" stroke-width="0.3" style="font-family:'Liberation Sans',Arial,sans-serif" >80</text>
<text x="818.5" y="276.5" text-anchor="middle" font-size="24.5" fill="#333333" stroke="#333333" stroke-width="0.3" style="font-family:'Liberation Sans',Arial,sans-serif" textLength="261" lengthAdjust="spacingAndGlyphs" transform="rotate(-90 818.5 276.5)">Electrical potential (mV)</text>
</g>
<g filter="url(#soft)">
<line x1="102.4" y1="652.0" x2="102.4" y2="978.4" stroke="#dedede" stroke-width="1.3" />
<line x1="175.8" y1="652.0" x2="175.8" y2="978.4" stroke="#dedede" stroke-width="1.3" />
<line x1="249.2" y1="652.0" x2="249.2" y2="978.4" stroke="#dedede" stroke-width="1.3" />
<line x1="322.6" y1="652.0" x2="322.6" y2="978.4" stroke="#dedede" stroke-width="1.3" />
<line x1="396.0" y1="652.0" x2="396.0" y2="978.4" stroke="#dedede" stroke-width="1.3" />
<line x1="67.1" y1="931.8" x2="396.0" y2="931.8" stroke="#dedede" stroke-width="1.3" />
<line x1="67.1" y1="885.1" x2="396.0" y2="885.1" stroke="#dedede" stroke-width="1.3" />
<line x1="67.1" y1="838.5" x2="396.0" y2="838.5" stroke="#dedede" stroke-width="1.3" />
<line x1="67.1" y1="791.9" x2="396.0" y2="791.9" stroke="#dedede" stroke-width="1.3" />
<line x1="67.1" y1="745.3" x2="396.0" y2="745.3" stroke="#dedede" stroke-width="1.3" />
<line x1="67.1" y1="698.6" x2="396.0" y2="698.6" stroke="#dedede" stroke-width="1.3" />
<line x1="67.1" y1="652.0" x2="396.0" y2="652.0" stroke="#dedede" stroke-width="1.3" />
<line x1="102.4" y1="978.4" x2="102.4" y2="975.2" stroke="#262626" stroke-width="1.3" />
<line x1="175.8" y1="978.4" x2="175.8" y2="975.2" stroke="#262626" stroke-width="1.3" />
<line x1="249.2" y1="978.4" x2="249.2" y2="975.2" stroke="#262626" stroke-width="1.3" />
<line x1="322.6" y1="978.4" x2="322.6" y2="975.2" stroke="#262626" stroke-width="1.3" />
<line x1="396.0" y1="978.4" x2="396.0" y2="975.2" stroke="#262626" stroke-width="1.3" />
<line x1="67.1" y1="978.4" x2="70.3" y2="978.4" stroke="#262626" stroke-width="1.3" />
<line x1="67.1" y1="931.8" x2="70.3" y2="931.8" stroke="#262626" stroke-width="1.3" />
<line x1="67.1" y1="885.1" x2="70.3" y2="885.1" stroke="#262626" stroke-width="1.3" />
<line x1="67.1" y1="838.5" x2="70.3" y2="838.5" stroke="#262626" stroke-width="1.3" />
<line x1="67.1" y1="791.9" x2="70.3" y2="791.9" stroke="#262626" stroke-width="1.3" />
<line x1="67.1" y1="745.3" x2="70.3" y2="745.3" stroke="#262626" stroke-width="1.3" />
<line x1="67.1" y1="698.6" x2="70.3" y2="698.6" stroke="#262626" stroke-width="1.3" />
<line x1="67.1" y1="652.0" x2="70.3" y2="652.0" stroke="#262626" stroke-width="1.3" />
<line x1="67.1" y1="652.0" x2="67.1" y2="979.2" stroke="#262626" stroke-width="1.7" />
<line x1="66.3" y1="978.4" x2="396.0" y2="978.4" stroke="#262626" stroke-width="1.7" />
<polyline points="102.4,667.4 175.8,947.6 249.2,967.7 322.6,965.3 359.3,964.4" fill="none" stroke="#595959" stroke-width="2.9" stroke-dasharray="11.5,12"/>
<polyline points="102.4,969.1 175.8,978.4 249.2,978.4 322.6,978.4 359.3,978.4" fill="none" stroke="#cdcdcd" stroke-width="2.9" stroke-dasharray="11.5,12"/>
<polyline points="102.4,961.1 175.8,965.3 249.2,968.6 322.6,967.2 359.3,964.9" fill="none" stroke="#222" stroke-width="2.7"/>
<rect x="97.8" y="663.0" width="9.2" height="8.8" fill="none" stroke="#4e4e4e" stroke-width="2.6"/>
<rect x="171.2" y="943.2" width="9.2" height="8.8" fill="none" stroke="#4e4e4e" stroke-width="2.6"/>
<rect x="244.6" y="963.3" width="9.2" height="8.8" fill="none" stroke="#4e4e4e" stroke-width="2.6"/>
<rect x="318.0" y="960.9" width="9.2" height="8.8" fill="none" stroke="#4e4e4e" stroke-width="2.6"/>
<rect x="354.7" y="960.0" width="9.2" height="8.8" fill="none" stroke="#4e4e4e" stroke-width="2.6"/>
<circle cx="102.4" cy="969.1" r="6.6" fill="#cdcdcd"/>
<circle cx="175.8" cy="978.4" r="6.6" fill="#cdcdcd"/>
<circle cx="249.2" cy="978.4" r="6.6" fill="#cdcdcd"/>
<circle cx="322.6" cy="978.4" r="6.6" fill="#cdcdcd"/>
<circle cx="359.3" cy="978.4" r="6.6" fill="#cdcdcd"/>
<circle cx="102.4" cy="961.1" r="5.4" fill="none" stroke="#222" stroke-width="2.7"/>
<circle cx="175.8" cy="965.3" r="5.4" fill="none" stroke="#222" stroke-width="2.7"/>
<circle cx="249.2" cy="968.6" r="5.4" fill="none" stroke="#222" stroke-width="2.7"/>
<circle cx="322.6" cy="967.2" r="5.4" fill="none" stroke="#222" stroke-width="2.7"/>
<circle cx="359.3" cy="964.9" r="5.4" fill="none" stroke="#222" stroke-width="2.7"/>
<text x="102.4" y="1006.4" text-anchor="middle" font-size="18.5" fill="#333333" stroke="#333333" stroke-width="0.3" style="font-family:'Liberation Sans',Arial,sans-serif" >20</text>
<text x="175.8" y="1006.4" text-anchor="middle" font-size="18.5" fill="#333333" stroke="#333333" stroke-width="0.3" style="font-family:'Liberation Sans',Arial,sans-serif" >30</text>
<text x="249.2" y="1006.4" text-anchor="middle" font-size="18.5" fill="#333333" stroke="#333333" stroke-width="0.3" style="font-family:'Liberation Sans',Arial,sans-serif" >40</text>
<text x="322.6" y="1006.4" text-anchor="middle" font-size="18.5" fill="#333333" stroke="#333333" stroke-width="0.3" style="font-family:'Liberation Sans',Arial,sans-serif" >50</text>
<text x="396.0" y="1006.4" text-anchor="middle" font-size="18.5" fill="#333333" stroke="#333333" stroke-width="0.3" style="font-family:'Liberation Sans',Arial,sans-serif" >60</text>
<text x="57.1" y="984.9" text-anchor="end" font-size="18.5" fill="#333333" stroke="#333333" stroke-width="0.3" style="font-family:'Liberation Sans',Arial,sans-serif" >0</text>
<text x="57.1" y="938.3" text-anchor="end" font-size="18.5" fill="#333333" stroke="#333333" stroke-width="0.3" style="font-family:'Liberation Sans',Arial,sans-serif" >10</text>
<text x="57.1" y="891.6" text-anchor="end" font-size="18.5" fill="#333333" stroke="#333333" stroke-width="0.3" style="font-family:'Liberation Sans',Arial,sans-serif" >20</text>
<text x="57.1" y="845.0" text-anchor="end" font-size="18.5" fill="#333333" stroke="#333333" stroke-width="0.3" style="font-family:'Liberation Sans',Arial,sans-serif" >30</text>
<text x="57.1" y="798.4" text-anchor="end" font-size="18.5" fill="#333333" stroke="#333333" stroke-width="0.3" style="font-family:'Liberation Sans',Arial,sans-serif" >40</text>
<text x="57.1" y="751.8" text-anchor="end" font-size="18.5" fill="#333333" stroke="#333333" stroke-width="0.3" style="font-family:'Liberation Sans',Arial,sans-serif" >50</text>
<text x="57.1" y="705.1" text-anchor="end" font-size="18.5" fill="#333333" stroke="#333333" stroke-width="0.3" style="font-family:'Liberation Sans',Arial,sans-serif" >60</text>
<text x="57.1" y="658.5" text-anchor="end" font-size="18.5" fill="#333333" stroke="#333333" stroke-width="0.3" style="font-family:'Liberation Sans',Arial,sans-serif" >70</text>
<text x="232.1" y="1033.3" text-anchor="middle" font-size="20.7" fill="#333333" stroke="#333333" stroke-width="0.3" style="font-family:'Liberation Sans',Arial,sans-serif" textLength="260.7" lengthAdjust="spacingAndGlyphs" >Outer boundary length (mm)</text>
<text x="26.5" y="816.0" text-anchor="middle" font-size="20.7" fill="#333333" stroke="#333333" stroke-width="0.3" style="font-family:'Liberation Sans',Arial,sans-serif" textLength="96.7" lengthAdjust="spacingAndGlyphs" transform="rotate(-90 26.5 816.0)">NRMSE %</text>
<line x1="564.8" y1="751.6" x2="564.8" y2="976.6" stroke="#dedede" stroke-width="1.3" />
<line x1="661.7" y1="751.6" x2="661.7" y2="976.6" stroke="#dedede" stroke-width="1.3" />
<line x1="758.6" y1="751.6" x2="758.6" y2="976.6" stroke="#dedede" stroke-width="1.3" />
<line x1="467.8" y1="931.6" x2="797.3" y2="931.6" stroke="#dedede" stroke-width="1.3" />
<line x1="467.8" y1="886.6" x2="797.3" y2="886.6" stroke="#dedede" stroke-width="1.3" />
<line x1="467.8" y1="841.6" x2="797.3" y2="841.6" stroke="#dedede" stroke-width="1.3" />
<line x1="467.8" y1="796.6" x2="797.3" y2="796.6" stroke="#dedede" stroke-width="1.3" />
<line x1="467.8" y1="751.6" x2="797.3" y2="751.6" stroke="#dedede" stroke-width="1.3" />
<line x1="467.9" y1="976.6" x2="467.9" y2="973.4" stroke="#262626" stroke-width="1.3" />
<line x1="564.8" y1="976.6" x2="564.8" y2="973.4" stroke="#262626" stroke-width="1.3" />
<line x1="661.7" y1="976.6" x2="661.7" y2="973.4" stroke="#262626" stroke-width="1.3" />
<line x1="758.6" y1="976.6" x2="758.6" y2="973.4" stroke="#262626" stroke-width="1.3" />
<line x1="467.8" y1="976.6" x2="471.0" y2="976.6" stroke="#262626" stroke-width="1.3" />
<line x1="467.8" y1="931.6" x2="471.0" y2="931.6" stroke="#262626" stroke-width="1.3" />
<line x1="467.8" y1="886.6" x2="471.0" y2="886.6" stroke="#262626" stroke-width="1.3" />
<line x1="467.8" y1="841.6" x2="471.0" y2="841.6" stroke="#262626" stroke-width="1.3" />
<line x1="467.8" y1="796.6" x2="471.0" y2="796.6" stroke="#262626" stroke-width="1.3" />
<line x1="467.8" y1="751.6" x2="471.0" y2="751.6" stroke="#262626" stroke-width="1.3" />
<line x1="467.8" y1="751.6" x2="467.8" y2="977.4" stroke="#262626" stroke-width="1.7" />
<line x1="467.0" y1="976.6" x2="797.3" y2="976.6" stroke="#262626" stroke-width="1.7" />
<polyline points="564.8,934.5 758.6,931.6" fill="none" stroke="#595959" stroke-width="2.9" stroke-dasharray="11.5,12"/>
<polyline points="564.8,973.2 758.6,973.2" fill="none" stroke="#cdcdcd" stroke-width="2.9" stroke-dasharray="11.5,12"/>
<polyline points="564.8,920.8 758.6,956.6" fill="none" stroke="#222" stroke-width="2.7"/>
<rect x="560.2" y="930.1" width="9.2" height="8.8" fill="none" stroke="#4e4e4e" stroke-width="2.6"/>
<rect x="754.0" y="927.2" width="9.2" height="8.8" fill="none" stroke="#4e4e4e" stroke-width="2.6"/>
<circle cx="564.8" cy="973.2" r="6.6" fill="#cdcdcd"/>
<circle cx="758.6" cy="973.2" r="6.6" fill="#cdcdcd"/>
<circle cx="564.8" cy="920.8" r="5.4" fill="none" stroke="#222" stroke-width="2.7"/>
<circle cx="758.6" cy="956.6" r="5.4" fill="none" stroke="#222" stroke-width="2.7"/>
<text x="467.9" y="1003.6" text-anchor="middle" font-size="18.5" fill="#333333" stroke="#333333" stroke-width="0.3" style="font-family:'Liberation Sans',Arial,sans-serif" >15</text>
<text x="564.8" y="1003.6" text-anchor="middle" font-size="18.5" fill="#333333" stroke="#333333" stroke-width="0.3" style="font-family:'Liberation Sans',Arial,sans-serif" >20</text>
<text x="661.7" y="1003.6" text-anchor="middle" font-size="18.5" fill="#333333" stroke="#333333" stroke-width="0.3" style="font-family:'Liberation Sans',Arial,sans-serif" >25</text>
<text x="758.6" y="1003.6" text-anchor="middle" font-size="18.5" fill="#333333" stroke="#333333" stroke-width="0.3" style="font-family:'Liberation Sans',Arial,sans-serif" >30</text>
<text x="457.8" y="984.9" text-anchor="end" font-size="18.5" fill="#333333" stroke="#333333" stroke-width="0.3" style="font-family:'Liberation Sans',Arial,sans-serif" >0</text>
<text x="457.8" y="939.9" text-anchor="end" font-size="18.5" fill="#333333" stroke="#333333" stroke-width="0.3" style="font-family:'Liberation Sans',Arial,sans-serif" >2</text>
<text x="457.8" y="894.9" text-anchor="end" font-size="18.5" fill="#333333" stroke="#333333" stroke-width="0.3" style="font-family:'Liberation Sans',Arial,sans-serif" >4</text>
<text x="457.8" y="849.9" text-anchor="end" font-size="18.5" fill="#333333" stroke="#333333" stroke-width="0.3" style="font-family:'Liberation Sans',Arial,sans-serif" >6</text>
<text x="457.8" y="804.9" text-anchor="end" font-size="18.5" fill="#333333" stroke="#333333" stroke-width="0.3" style="font-family:'Liberation Sans',Arial,sans-serif" >8</text>
<text x="457.8" y="759.9" text-anchor="end" font-size="18.5" fill="#333333" stroke="#333333" stroke-width="0.3" style="font-family:'Liberation Sans',Arial,sans-serif" >10</text>
<text x="632.3" y="1030.7" text-anchor="middle" font-size="21.2" fill="#333333" stroke="#333333" stroke-width="0.3" style="font-family:'Liberation Sans',Arial,sans-serif" textLength="259.4" lengthAdjust="spacingAndGlyphs" >Outer boundary radius (mm)</text>
<rect x="498.8" y="650.0" width="269.4" height="75.2" fill="#ffffff" stroke="#262626" stroke-width="1.4"/>
<line x1="505" y1="663.9" x2="564" y2="663.9" stroke="#4e4e4e" stroke-width="2.6" stroke-dasharray="11.5,12"/>
<rect x="529.9" y="659.5" width="9.2" height="8.8" fill="none" stroke="#4e4e4e" stroke-width="2.6"/>
<line x1="505" y1="687.7" x2="564" y2="687.7" stroke="#cdcdcd" stroke-width="2.6" stroke-dasharray="11.5,12"/>
<circle cx="534.5" cy="687.7" r="6.6" fill="#cdcdcd"/>
<line x1="505.0" y1="711.6" x2="564.0" y2="711.6" stroke="#222" stroke-width="2.7" />
<circle cx="534.5" cy="711.6" r="5.4" fill="none" stroke="#222" stroke-width="2.7"/>
<text x="568.2" y="672.0" text-anchor="start" font-size="16.3" fill="#333333" stroke="#333333" stroke-width="0.3" style="font-family:'Liberation Sans',Arial,sans-serif" textLength="190.9" lengthAdjust="spacingAndGlyphs" >Axon activation threshold</text>
<text x="568.2" y="695.6" text-anchor="start" font-size="16.3" fill="#333333" stroke="#333333" stroke-width="0.3" style="font-family:'Liberation Sans',Arial,sans-serif" textLength="160.0" lengthAdjust="spacingAndGlyphs" >Location of first spike</text>
<text x="568.2" y="718.7" text-anchor="start" font-size="16.3" fill="#333333" stroke="#333333" stroke-width="0.3" style="font-family:'Liberation Sans',Arial,sans-serif" textLength="101.8" lengthAdjust="spacingAndGlyphs" >Potential field</text>
</g>
<text x="198.2" y="626.7" text-anchor="middle" font-size="31" fill="#111" stroke="#111" stroke-width="0.2" style="font-family:'Liberation Serif','Times New Roman',serif" font-weight="bold" >(a)</text>
<text x="601.8" y="626.6" text-anchor="middle" font-size="31" fill="#111" stroke="#111" stroke-width="0.2" style="font-family:'Liberation Serif','Times New Roman',serif" font-weight="bold" >(b)</text>
<text x="196.7" y="1087.3" text-anchor="middle" font-size="31" fill="#111" stroke="#111" stroke-width="0.2" style="font-family:'Liberation Serif','Times New Roman',serif" font-weight="bold" >(c)</text>
<text x="604.0" y="1092.5" text-anchor="middle" font-size="31" fill="#111" stroke="#111" stroke-width="0.2" style="font-family:'Liberation Serif','Times New Roman',serif" font-weight="bold" >(d)</text>
</svg></body></html>
